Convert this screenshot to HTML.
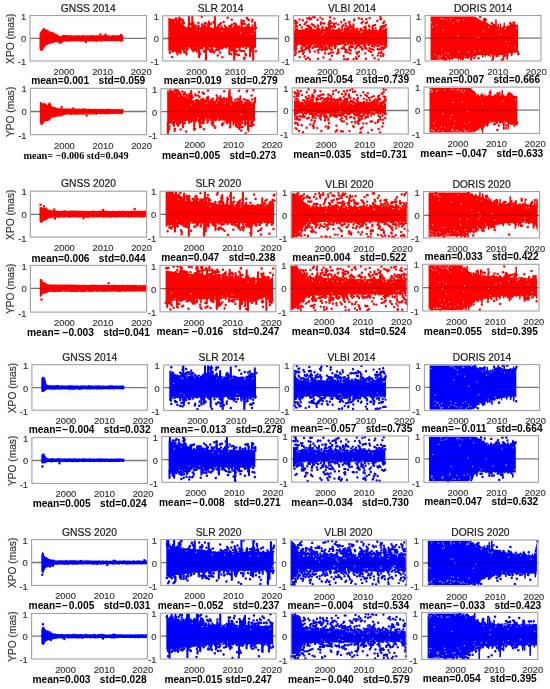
<!DOCTYPE html>
<html><head><meta charset="utf-8"><style>
html,body{margin:0;padding:0;background:#fff;width:550px;height:689px;overflow:hidden}
svg{display:block;filter:blur(0.3px)}
.tk{font-family:"Liberation Sans",Arial,sans-serif;font-size:9.4px;fill:#333;stroke:#333;stroke-width:.15px}
.ti{font-family:"Liberation Sans",Arial,sans-serif;font-size:10.3px;fill:#1a1a1a;stroke:#1a1a1a;stroke-width:.2px}
.yl{font-family:"Liberation Sans",Arial,sans-serif;font-size:10.2px;fill:#333;stroke:#333;stroke-width:.15px}
.st{font-family:"Liberation Sans",Arial,sans-serif;font-size:10.2px;font-weight:bold;fill:#000}
.ms{font-family:"Liberation Serif","Times New Roman",serif;font-size:10.2px;font-weight:bold;fill:#000}
</style></head><body>
<svg width="550" height="689" viewBox="0 0 550 689">
<rect width="550" height="689" fill="#fff"/>
<path stroke="#777" stroke-width="1.3" d="M30 38.3H146.5"/>
<path fill="#ff0000" d="M39.5 33.4 40.5 32 41.5 30.4 42.5 29.3 43.5 27.6 44.5 28.5 45.5 28.9 46.5 29.9 47.5 29.5 48.5 30.6 49.5 31.3 50.5 31.6 51.5 32 52.5 32.2 53.5 32.3 54.5 33 55.5 33.5 56.5 34.3 57.5 34 58.5 35.4 59.5 36 60.5 36.3 61.5 35.9 62.5 35.3 63.5 34.7 64.5 35.1 65.5 35 66.5 35 67.5 35 68.5 35.4 69.5 35.2 70.5 34.9 71.5 35.3 72.5 35.5 73.5 35.5 74.5 35.2 75.5 35.4 76.5 35.3 77.5 35.3 78.5 35.5 79.5 35 80.5 35.4 81.5 35.5 82.5 35.3 83.5 34.7 84.5 35.5 85.5 35.6 86.5 35.6 87.5 35.2 88.5 35.6 89.5 35.3 90.5 35.2 91.5 35 92.5 35.5 93.5 35.1 94.5 35.6 95.5 35.5 96.5 35.3 97.5 35.2 98.5 35.5 99.5 34.7 100.5 35.6 101.5 35.6 102.5 35.4 103.5 35.3 104.5 34.6 105.5 32.7 106.5 34.6 107.5 35.4 108.5 35.3 109.5 35.5 110.5 35.5 111.5 35.5 112.5 35.2 113.5 35.1 114.5 35.5 115.5 35.6 116.5 34.9 117.5 35.4 118.5 35.2 119.5 35.1 120.5 35.1 121.5 35.3 122.5 35.6 123.3 35.7 123.3 41.4 122.5 41.7 121.5 41.1 120.5 42.2 119.5 41 118.5 41 117.5 41.8 116.5 41.1 115.5 41.1 114.5 41.4 113.5 41.1 112.5 41.6 111.5 41.1 110.5 41.4 109.5 41.1 108.5 41.1 107.5 41.2 106.5 41.3 105.5 41.3 104.5 41.2 103.5 41.6 102.5 41.3 101.5 41.8 100.5 41.6 99.5 41.3 98.5 41.2 97.5 41.4 96.5 41.9 95.5 41.9 94.5 41.3 93.5 41.5 92.5 41.3 91.5 41.4 90.5 41.2 89.5 41.4 88.5 41.6 87.5 41.3 86.5 41.2 85.5 41.4 84.5 41.4 83.5 41.7 82.5 41.5 81.5 41.4 80.5 41.8 79.5 41.2 78.5 41.4 77.5 41.3 76.5 41.5 75.5 41.6 74.5 41.2 73.5 41.3 72.5 41.3 71.5 41.4 70.5 41.4 69.5 41.5 68.5 41.7 67.5 41.7 66.5 41.6 65.5 41.8 64.5 41.6 63.5 41.8 62.5 42.4 61.5 43.3 60.5 44 59.5 43.6 58.5 42.9 57.5 42 56.5 42.2 55.5 42.3 54.5 42.5 53.5 42.9 52.5 43 51.5 43.5 50.5 43.5 49.5 43.9 48.5 44.5 47.5 44.7 46.5 45.2 45.5 46.1 44.5 47.6 43.5 49.6 42.5 50.4 41.5 50.9 40.5 50.7 39.5 49.2Z"/>
<path fill="none" stroke="#ff0000" stroke-width="2.5" stroke-linecap="round" d="M85.9 42.1h0M100.4 34.4h0M121.2 35.1h0"/>
<path stroke="#000" stroke-opacity="0.1" stroke-width="1.4" d="M38.5 38.3H124.3"/>
<rect x="30" y="15.5" width="116.5" height="45.5" fill="none" stroke="#a0a0a0" stroke-width="1.1"/>
<text x="26.2" y="19.6" class="tk" text-anchor="end">1</text>
<text x="26.2" y="42.2" class="tk" text-anchor="end">0</text>
<text x="26.2" y="65.4" class="tk" text-anchor="end">-1</text>
<text x="64" y="74.8" class="tk" text-anchor="middle">2000</text>
<text x="102.6" y="74.8" class="tk" text-anchor="middle">2010</text>
<text x="141.2" y="74.8" class="tk" text-anchor="middle">2020</text>
<text x="88.2" y="84.2" class="st" text-anchor="middle" xml:space="preserve">mean=0.001    std=0.059</text>
<text x="88.2" y="11.7" class="ti" text-anchor="middle">GNSS 2014</text>
<text transform="translate(14 38.7) rotate(-90)" class="yl" text-anchor="middle">XPO (mas)</text>
<path stroke="#777" stroke-width="1.3" d="M162.7 38.5H278.6"/>
<path fill="#ff0000" d="M168.3 17.3 169.3 18.5 170.3 18.1 171.3 18.9 172.3 18.9 173.3 18.4 174.3 19.2 175.3 19 176.3 18.8 177.3 19.3 178.3 20.3 179.3 21.6 180.3 20.9 181.3 23 182.3 22.3 183.3 24.5 184.3 25.6 185.3 26.5 186.3 27.4 187.3 26.8 188.3 26.9 189.3 26.8 190.3 27.4 191.3 27.3 192.3 26.4 193.3 27.1 194.3 27.2 195.3 27.2 196.3 27 197.3 27.3 198.3 26.2 199.3 26.8 200.3 27.6 201.3 26.7 202.3 26.9 203.3 27.2 204.3 27.1 205.3 27.1 206.3 26.9 207.3 27.6 208.3 25.8 209.3 25.8 210.3 26.9 211.3 27.5 212.3 27.9 213.3 27.3 214.3 27.8 215.3 27.9 216.3 26.9 217.3 25.1 218.3 27.8 219.3 27.4 220.3 27.4 221.3 27.9 222.3 26.9 223.3 27.9 224.3 27.7 225.3 27.6 226.3 27.7 227.3 26.9 228.3 27.9 229.3 28 230.3 27.6 231.3 27 232.3 27.6 233.3 26.1 234.3 27.1 235.3 26.4 236.3 28.2 237.3 26.8 238.3 28 239.3 27.8 240.3 28.2 241.3 27 242.3 27.1 243.3 26.9 244.3 27 245.3 28.1 246.3 27.9 247.3 27.3 248.3 27.3 249.3 27.7 250.3 28.2 251.3 28.4 252.3 27.9 253.3 28.2 254.3 28 255.3 28.4 256 27.8 256 47.3 255.3 48.2 254.3 48.1 253.3 47.3 252.3 48.1 251.3 47.8 250.3 47.8 249.3 47.7 248.3 47.3 247.3 47.5 246.3 47.6 245.3 47.2 244.3 47.3 243.3 48.1 242.3 47.8 241.3 47.1 240.3 48 239.3 47.6 238.3 48 237.3 47.9 236.3 47.8 235.3 48 234.3 47.4 233.3 47.9 232.3 47.3 231.3 48.2 230.3 48.1 229.3 47.6 228.3 47.5 227.3 47.1 226.3 48.9 225.3 48.6 224.3 47.3 223.3 48.9 222.3 47.2 221.3 48 220.3 48 219.3 48.3 218.3 47 217.3 47.3 216.3 47.3 215.3 47.1 214.3 47.7 213.3 47 212.3 48.8 211.3 47.4 210.3 48.6 209.3 47.2 208.3 47.3 207.3 47.6 206.3 47.3 205.3 47.9 204.3 47.1 203.3 48.1 202.3 47.6 201.3 47.9 200.3 47.8 199.3 47.4 198.3 47.3 197.3 47.9 196.3 47.7 195.3 47.4 194.3 48.1 193.3 47.6 192.3 47.2 191.3 49.1 190.3 47.1 189.3 47.5 188.3 47.5 187.3 48.3 186.3 47.2 185.3 47.5 184.3 47.8 183.3 48.1 182.3 47.9 181.3 47.9 180.3 48.7 179.3 48.4 178.3 49.1 177.3 49.2 176.3 49.4 175.3 50.5 174.3 49.9 173.3 49.9 172.3 50.7 171.3 51.3 170.3 50.1 169.3 50.7 168.3 50.7Z"/>
<path fill="none" stroke="#fff" stroke-opacity=".6" stroke-width="1.5" stroke-linecap="round" d="M175.6 21.9h0M178.2 48.2h0M181 22.8h0M181.2 23h0M196.1 29h0M199.7 30.8h0M200.1 45.9h0M218.6 46.6h0M222.1 30.9h0M231.7 47.9h0M240.8 32.7h0M244.6 46.9h0M251.9 34.1h0M253.6 46.9h0M254.8 30.7h0"/>
<path fill="none" stroke="#ff0000" stroke-width="2.1" stroke-linecap="round" d="M177.4 48.2V54.5M179.4 22.6V18.9M179.4 47.4V51M180.6 47.7V53.3M182.6 23.3V19.6M184.1 47.1V51.5M186.5 46.2V50.2M188.9 27.9V16.8M192.3 28.3V16.8M193.3 28.1V23.2M193.3 46.6V51.5M195.5 28.2V25.2M196.7 46.7V51.8M199 46.3V57.2M201 46.8V48.5M204.1 28.2V25.2M206 46.9V60M207.6 28.6V25.9M208.7 26.8V21.6M214.9 28.8V16.8M217.6 46.3V49.6M218.8 28.8V27M221.6 28.9V26.6M230.1 29V25.6M229.4 46.6V54M231.6 47.2V49M234.2 46.9V60M241.5 28V20.1M250 46.7V56.3M251.7 46.8V49.6M252.5 28.9V25.3M253.2 47.1V60M255.1 29V22.5"/>
<path fill="none" stroke="#ff0000" stroke-width="2.5" stroke-linecap="round" d="M170.2 52.1h0M169.9 52.8h0M172.2 57.1h0M172.8 51.2h0M174.3 50.4h0M176 18.6h0M175.9 18.7h0M176.1 50.8h0M176.8 50.1h0M177 50.2h0M176.9 51.1h0M177.5 49.3h0M177.7 51.9h0M179 20.1h0M178.8 18.6h0M179.2 52h0M179.5 19.8h0M179.4 17.8h0M179.4 51.5h0M181 19.5h0M183.2 21.4h0M182.8 48.5h0M182.4 48.5h0M184 23h0M183.6 49.9h0M184.4 52.2h0M186.2 52.2h0M186.7 54.2h0M187.7 48.8h0M188.8 24.9h0M190.2 23.7h0M190.7 47.5h0M191.7 24.8h0M192.1 49.5h0M193 22.7h0M193.9 49.9h0M194.7 49.1h0M195.3 26.2h0M195.5 49.7h0M196.7 48.9h0M198.4 26.1h0M198.5 23.1h0M198.8 47.8h0M199.2 51.6h0M199.2 55.8h0M199.7 47.7h0M200.3 53.7h0M202.1 24.5h0M201.8 16.8h0M202.3 26.3h0M202.6 26.6h0M202.4 48.4h0M203.9 51.4h0M204.9 26h0M204.9 23.3h0M205 50.4h0M206.1 23.4h0M206.6 49.2h0M207.6 47.9h0M207.9 48.5h0M208.5 25h0M209.1 23.1h0M209.9 50h0M209.8 51.1h0M210.9 24.1h0M211 51.7h0M211.5 49.3h0M211.5 51.7h0M212.7 49.4h0M213.9 22.9h0M213.4 22.2h0M213.4 51.4h0M214.2 52.4h0M215 25.7h0M214.3 51.7h0M216.3 47.2h0M216 50.1h0M217.8 55.6h0M219 25h0M219 47.4h0M218.6 50.1h0M220.1 24.6h0M220 52.5h0M220.8 23.2h0M220.5 48.2h0M222.5 47.7h0M222.4 57.3h0M223.7 21.9h0M224.7 25.8h0M226.2 27.5h0M227.7 17.8h0M229.2 26.5h0M230.7 25.9h0M231.2 54.3h0M231.9 24.7h0M231.8 19.7h0M231.3 50.2h0M232.3 48.7h0M233.2 49.9h0M234.2 23.5h0M233.4 50.4h0M234.8 26.2h0M235 27h0M235.1 48.8h0M235.2 54h0M235.9 24.2h0M235.7 51.4h0M236.5 27.6h0M236.3 26.6h0M236.4 26h0M236.8 51.1h0M237 54.6h0M238.8 27.2h0M238.8 26.6h0M239 55.1h0M239.6 27.4h0M239.6 47.6h0M239.5 49.1h0M239.8 50.6h0M242.2 24.5h0M241.7 51.1h0M242.7 23.2h0M243.8 21.1h0M244 50.9h0M244.8 24.1h0M244.7 23.8h0M244.3 57.8h0M244.3 59h0M245.9 27.6h0M245.9 48.3h0M245.4 53.8h0M245.9 55.2h0M246.8 18.1h0M247.5 26.5h0M247.4 25.6h0M248.1 19.5h0M249 27.2h0M248.8 24.4h0M248.9 20.2h0M250.8 28h0M250.5 52.3h0M252.3 21.5h0M252.4 19.7h0M252.6 48.6h0M253 50.9h0M253.7 47.3h0M256.1 27.8h0M256 51.3h0"/>
<path stroke="#000" stroke-opacity="0.22" stroke-width="1.4" d="M167.3 38.5H257"/>
<rect x="162.7" y="15.8" width="115.9" height="45.2" fill="none" stroke="#a0a0a0" stroke-width="1.1"/>
<text x="158.9" y="19.9" class="tk" text-anchor="end">1</text>
<text x="158.9" y="42.4" class="tk" text-anchor="end">0</text>
<text x="158.9" y="65.4" class="tk" text-anchor="end">-1</text>
<text x="196.7" y="74.8" class="tk" text-anchor="middle">2000</text>
<text x="235.3" y="74.8" class="tk" text-anchor="middle">2010</text>
<text x="273.9" y="74.8" class="tk" text-anchor="middle">2020</text>
<text x="220.7" y="83.6" class="st" text-anchor="middle" xml:space="preserve">mean=0.019    std=0.279</text>
<text x="220.7" y="12" class="ti" text-anchor="middle">SLR 2014</text>
<path stroke="#777" stroke-width="1.3" d="M293.6 38.2H410.4"/>
<path fill="#ff0000" d="M294 26.1 295 26.2 296 27.5 297 28.2 298 29.3 299 29.5 300 29.9 301 29.5 302 29.4 303 29 304 29.6 305 29.5 306 28.6 307 30.2 308 28.6 309 29.3 310 29.6 311 30.1 312 29.5 313 28.8 314 28.7 315 29.3 316 29.7 317 29.9 318 30.3 319 29.5 320 29.5 321 30.3 322 30 323 29 324 29.4 325 29.9 326 29.8 327 29.7 328 30 329 28.6 330 29 331 29.8 332 29.3 333 28.7 334 29.1 335 30.1 336 29.2 337 29.4 338 30 339 29.7 340 29.9 341 29.1 342 29.3 343 29.4 344 30.2 345 26.9 346 29.9 347 30.3 348 29.5 349 29.2 350 29.6 351 27.9 352 29.4 353 30.1 354 29.4 355 29.1 356 30.4 357 30.1 358 29.7 359 30.5 360 30.3 361 29.6 362 29.1 363 30.5 364 30.5 365 29.3 366 30.2 367 30.1 368 30.3 369 30.3 370 30.3 371 30.1 372 29.9 373 28.5 374 29.4 375 29.4 376 29.7 377 30.1 378 29.9 379 30.3 380 29.7 381 29.7 382 30.3 383 29.5 384 28.5 385 29.5 386 29.3 387 30.3 387 44.5 386 45.5 385 44.7 384 44.5 383 46.2 382 45.8 381 45.7 380 44.3 379 44.6 378 44.2 377 44.3 376 46.1 375 45.5 374 44.5 373 46.3 372 45 371 44.3 370 45.1 369 44.8 368 44.6 367 44.4 366 44.9 365 44.4 364 44.8 363 44.3 362 45.1 361 44.4 360 45.1 359 45 358 44.7 357 44.8 356 45.7 355 45.1 354 44.4 353 44.9 352 44.3 351 44.3 350 44.2 349 45.6 348 44.7 347 45.5 346 44.8 345 44.3 344 44.6 343 44.5 342 44.6 341 44.8 340 44.7 339 45.5 338 44.9 337 45.4 336 44.9 335 45.5 334 45.2 333 46.2 332 45.3 331 46.1 330 45.4 329 45.2 328 44.7 327 46 326 44.3 325 46.5 324 44.5 323 44.8 322 45.1 321 44.9 320 45.1 319 44.8 318 45.3 317 45.4 316 44.4 315 45.3 314 44.8 313 44.3 312 45.8 311 44.7 310 45 309 44.6 308 44.3 307 46.1 306 44.8 305 45.7 304 45.9 303 45.8 302 44.3 301 45.4 300 45.2 299 44.3 298 45.5 297 46.4 296 47.3 295 49.2 294 49.7Z"/>
<path fill="none" stroke="#fff" stroke-opacity=".6" stroke-width="1.5" stroke-linecap="round" d="M294.9 28h0M294.5 29.4h0M322.6 33.9h0M322.9 44.7h0M324.6 32h0M331.1 45.5h0M342.8 31.1h0M342.1 31.6h0M346.4 43.2h0M349.4 44.6h0M353.6 42.4h0M356.2 44.4h0M360.4 32.5h0M362.1 31.8h0M366 43.5h0M377.9 31.3h0M383.3 44.5h0M386.2 45.2h0"/>
<path fill="none" stroke="#ff0000" stroke-width="2.4" stroke-linecap="round" d="M294.1 21h0M294.6 50.1h0M294.7 50.6h0M294.8 55h0M296 25.8h0M295.2 23.4h0M295.6 20.7h0M295.1 49.4h0M295.9 52.3h0M295.7 54h0M296.6 23.1h0M296.3 48.2h0M296.1 49.4h0M297.1 26.5h0M297.2 22.4h0M299.6 19.6h0M299 51.8h0M299.7 57.1h0M300.1 24.9h0M301.9 27.4h0M301.3 48.1h0M301.9 49.2h0M301.1 50.9h0M302.8 20.3h0M302.1 44.5h0M302.4 45.5h0M302.6 47.1h0M302.2 51h0M302.9 50.4h0M303.9 52h0M303.1 53.7h0M304.6 24.3h0M304.5 56.2h0M305.9 28.9h0M305.2 23.4h0M305.1 46.3h0M305.9 49h0M305.1 49.6h0M305.9 58.8h0M306.6 21.9h0M306.6 47.7h0M306.1 48h0M307.6 29.1h0M307.2 25.8h0M307.3 18.5h0M307.9 47.8h0M308.8 25.9h0M308.9 44.9h0M308.1 46.3h0M309 48.4h0M308.1 57.7h0M308.2 57.9h0M309.1 27.6h0M309.5 26.5h0M309.1 26.3h0M309.6 19.3h0M309.4 17.7h0M310 46.1h0M309 46.6h0M309.3 46.7h0M309.5 50.3h0M309.9 52h0M310.8 27.6h0M310.9 28.2h0M310.7 45.4h0M310 47.1h0M310 59.7h0M311.3 29.3h0M311.1 27.9h0M311.8 24.3h0M311.1 18.7h0M312.7 24.9h0M312.6 48h0M313.8 25.4h0M313.2 17.1h0M313 47.7h0M314.7 17.2h0M314.4 46.2h0M314.7 51.4h0M315.1 26.9h0M315.9 46.9h0M316.7 29.7h0M316.9 44.9h0M317.6 28.6h0M317.4 28.1h0M317.9 25.5h0M317.6 19.8h0M317.7 45.5h0M317.3 46.2h0M317.8 50.3h0M318 58.7h0M318.1 29.9h0M318.8 29.2h0M318.3 26.3h0M318.4 46.2h0M318.4 52.4h0M319.8 46.2h0M319.5 47.5h0M319.7 49.2h0M320.8 24.3h0M320.3 17.6h0M320.3 45.7h0M320.5 47.2h0M321.6 29.3h0M321.4 23.4h0M321.1 22.5h0M321.2 47.4h0M322.8 29.3h0M322.6 27h0M322.6 19.3h0M322 45.8h0M322.9 48.9h0M322.1 50h0M323.8 23.2h0M323.2 47.7h0M323 47.8h0M323.5 57.5h0M324.5 23.6h0M324.2 44.7h0M324.2 45h0M324 48.4h0M325.5 29.5h0M325.8 27.6h0M325.5 46.7h0M325.9 49.1h0M325.2 50h0M325 53.2h0M326.6 46.9h0M326.2 47.4h0M327.1 29.1h0M327.2 49.3h0M328.5 28.6h0M328.2 27.6h0M328.9 25.6h0M328.5 24.6h0M328.9 22.4h0M328.6 53.7h0M330 27.7h0M329.6 23.7h0M329.1 45.7h0M329.2 47.8h0M329.3 53.5h0M330.2 28.4h0M330.1 20.7h0M330.1 17.3h0M330.6 45.6h0M330.1 48.5h0M330.1 59.7h0M331.1 25.9h0M331.6 22.9h0M331.9 46.1h0M331.7 49.4h0M331.8 49.9h0M331.1 52.5h0M331.9 55.7h0M332.4 27.2h0M333.1 52.6h0M334.9 27h0M334 25.3h0M334.1 23.7h0M334.3 18.6h0M335 46.3h0M336 23.5h0M335.5 46.2h0M335.8 46.6h0M335 48.2h0M337.1 53.6h0M338.3 29.6h0M338.4 24.6h0M338.2 49.4h0M338.1 50.9h0M338.6 52.8h0M339 28.6h0M341.9 26.8h0M341.3 22.3h0M341.5 48.4h0M342.1 29.1h0M343.4 25.2h0M343.6 46.7h0M343.4 47.9h0M343.7 56h0M345 28.8h0M344.2 20h0M345 45h0M344.1 48.2h0M344.2 59.1h0M345.9 26h0M345.6 23.5h0M345.3 49.4h0M345.4 52h0M346 51.8h0M346.3 29.3h0M346.5 50h0M346.1 50.6h0M346.1 51.9h0M346.5 59.7h0M347.9 28.1h0M348 29.3h0M348.4 26.9h0M348.9 22.5h0M348.3 52.6h0M348 58.9h0M349.6 28h0M349.6 22h0M349.3 47.5h0M349.1 49.6h0M351 26.5h0M350.2 26.5h0M350.1 24.8h0M350.5 45.7h0M350.8 50.5h0M350.4 53.6h0M351.4 26.4h0M351.5 45.6h0M351.5 47.2h0M352.4 28.5h0M352.4 27.8h0M352.5 27.1h0M352.8 26.9h0M353.3 29.1h0M353.5 26.5h0M353.2 26.4h0M353.6 24.5h0M353 46.8h0M353.6 59.3h0M354.3 28.9h0M354.3 19.4h0M354.2 20.3h0M355.1 48.6h0M356.4 29.6h0M356.9 45.8h0M356.2 47.3h0M356.4 52.1h0M356.9 53.8h0M356 57.4h0M356.5 58.6h0M356.9 58.9h0M357.4 28.8h0M357.4 53.2h0M357.2 53.7h0M358.8 18.2h0M358.6 44.9h0M359 51.8h0M358.9 56.3h0M359.3 45.5h0M360.8 28.7h0M360.5 29h0M360.5 47.4h0M361.6 29.4h0M361.5 23.2h0M361.7 19h0M361.3 47h0M362.9 21.6h0M362.1 48.8h0M362.5 49.8h0M364.3 30.4h0M364.5 27.6h0M364.1 27.5h0M364.2 45.7h0M364 45.1h0M364.7 47.8h0M365.7 29h0M365.6 26.7h0M365.8 23.2h0M365.1 45.2h0M365.5 47.4h0M365.3 53.4h0M366 29.5h0M366.5 22.6h0M366.4 19.2h0M366.3 48.7h0M366 58.8h0M367 22.5h0M368.9 25.6h0M368.7 44.9h0M368.6 50.6h0M369.4 30.1h0M369.1 29.7h0M369.6 26.6h0M369.6 18.1h0M369.6 48.3h0M369.9 51.1h0M371.9 46h0M371.7 48.9h0M371.2 51.9h0M372.7 29.3h0M372.5 28.9h0M372.4 27.5h0M372.6 55.3h0M373.1 25.8h0M373.5 49.9h0M374.8 44.8h0M374.1 46.5h0M374.6 58.3h0M375.6 28.4h0M375.1 25h0M377.3 20.9h0M377.3 45.8h0M377.8 49.2h0M377.9 55.4h0M378.1 45.8h0M378.6 49.2h0M378.8 52.9h0M378.5 59.6h0M379.7 45h0M379.6 49.6h0M380.1 29.2h0M380.7 26.7h0M380.3 19.2h0M380.4 16.7h0M380.8 56h0M381.1 28.9h0M381.4 28.1h0M381.2 28.4h0M381.6 26.8h0M381.2 18.8h0M381.1 47.6h0M381.7 48.1h0M381.7 49.1h0M381.3 52h0M381.2 53h0M382.3 27.1h0M383 47.5h0M382.9 47.9h0M382.9 49.3h0M383.2 27.5h0M383.3 26h0M383.3 23h0M383.9 48.3h0M383.4 54.3h0M383.3 55.7h0M384.8 26.6h0M384.2 21.4h0M384.3 44.8h0M384.7 47.4h0M384.8 47.8h0M385.6 25.5h0M385.7 24.7h0M385.7 46.3h0M385.6 46.7h0M386.3 29.1h0M386.5 45.6h0"/>
<path stroke="#000" stroke-opacity="0.22" stroke-width="1.4" d="M293 38.2H388"/>
<rect x="293.6" y="15.6" width="116.8" height="45.4" fill="none" stroke="#a0a0a0" stroke-width="1.1"/>
<text x="289.8" y="19.7" class="tk" text-anchor="end">1</text>
<text x="289.8" y="42.1" class="tk" text-anchor="end">0</text>
<text x="289.8" y="65.4" class="tk" text-anchor="end">-1</text>
<text x="327.6" y="74.8" class="tk" text-anchor="middle">2000</text>
<text x="366.2" y="74.8" class="tk" text-anchor="middle">2010</text>
<text x="404.8" y="74.8" class="tk" text-anchor="middle">2020</text>
<text x="352" y="83.1" class="st" text-anchor="middle" xml:space="preserve">mean=0.054    std=0.739</text>
<text x="352" y="11.8" class="ti" text-anchor="middle">VLBI 2014</text>
<path stroke="#777" stroke-width="1.3" d="M425.1 38.2H541"/>
<path fill="#ff0000" d="M430.6 16.5 431.6 16.5 432.6 16.5 433.6 16.5 434.6 16.5 435.6 16.5 436.6 16.5 437.6 16.5 438.6 16.5 439.6 16.5 440.6 16.5 441.6 16.5 442.6 16.5 443.6 16.5 444.6 16.5 445.6 16.5 446.6 16.5 447.6 16.5 448.6 16.5 449.6 16.5 450.6 16.5 451.6 16.5 452.6 16.5 453.6 16.5 454.6 16.5 455.6 16.5 456.6 16.5 457.6 16.5 458.6 16.5 459.6 16.5 460.6 16.5 461.6 16.5 462.6 16.5 463.6 16.5 464.6 16.5 465.6 16.5 466.6 16.5 467.6 16.5 468.6 16.5 469.6 16.5 470.6 16.5 471.6 16.5 472.6 16.5 473.6 16.5 474.6 16.5 475.6 17.1 476.6 17.7 477.6 18.2 478.6 19.1 479.6 19.4 480.6 20.5 481.6 20.3 482.6 21.4 483.6 20.8 484.6 20.9 485.6 21.1 486.6 22.8 487.6 22.8 488.6 24.4 489.6 23.8 490.6 25.3 491.6 24.8 492.6 25.9 493.6 25.7 494.6 26 495.6 25.6 496.6 25.8 497.6 27.3 498.6 27.1 499.6 27.8 500.6 27.8 501.6 27.4 502.6 26.7 503.6 26.1 504.6 26.6 505.6 26.2 506.6 26.9 507.6 25 508.6 25.3 509.6 25.4 510.6 24.6 511.6 23.3 512.6 24 513.6 24.5 514.6 24.2 515.6 24 516.6 25.2 517.6 24.3 518 25 518 52.2 517.6 52.7 516.6 52.3 515.6 52.9 514.6 53.1 513.6 52.5 512.6 53.8 511.6 53.8 510.6 53.8 509.6 53.3 508.6 53.6 507.6 54 506.6 54.5 505.6 53.9 504.6 54.8 503.6 55.8 502.6 55.3 501.6 55 500.6 55.1 499.6 55.3 498.6 55 497.6 55.8 496.6 56.1 495.6 55.3 494.6 55.6 493.6 56.5 492.6 55.5 491.6 55.3 490.6 57.5 489.6 55.9 488.6 55.9 487.6 55.3 486.6 55.6 485.6 54.9 484.6 55.3 483.6 55.1 482.6 55.4 481.6 54.8 480.6 55.6 479.6 54.9 478.6 55.3 477.6 55 476.6 55.8 475.6 57.8 474.6 56 473.6 56.3 472.6 57.4 471.6 57.5 470.6 57.6 469.6 57.5 468.6 58.4 467.6 57.7 466.6 57.6 465.6 58.7 464.6 57.8 463.6 59.4 462.6 57.8 461.6 58 460.6 57.9 459.6 58.1 458.6 58.1 457.6 58.1 456.6 58.5 455.6 58.3 454.6 58.6 453.6 58.2 452.6 60 451.6 59.4 450.6 59.3 449.6 58.9 448.6 59.3 447.6 59.1 446.6 60 445.6 58.8 444.6 59 443.6 59.2 442.6 59.6 441.6 60 440.6 59.5 439.6 59.5 438.6 60 437.6 59.8 436.6 59.8 435.6 60 434.6 60 433.6 60 432.6 60 431.6 60 430.6 60Z"/>
<path fill="none" stroke="#fff" stroke-opacity=".6" stroke-width="1.5" stroke-linecap="round" d="M431.6 22.4h0M432.6 26.8h0M435 54.8h0M436.8 24.9h0M438.6 55.7h0M438.2 56.6h0M439.7 57.7h0M441.3 18.9h0M441.5 48.7h0M441.4 56.5h0M441.9 18.7h0M442.2 54.7h0M443.4 30.5h0M443.6 18.9h0M445.4 53.2h0M445.6 56.6h0M446.5 19.7h0M447 58.4h0M447.2 59h0M448.2 53.4h0M450.5 19.1h0M450.3 56.9h0M453.1 23.2h0M456.7 20.3h0M457.5 58.4h0M458.4 21.8h0M458.1 35.7h0M458.6 51.5h0M459.5 20.1h0M463.2 19.7h0M465 56.6h0M468.5 52.1h0M474.6 51.1h0M477 38.1h0M478.9 37.6h0M479.8 50.5h0M483.5 30.9h0M488.7 27.2h0M490.5 54.7h0M498.1 29.4h0M500.9 34.4h0M504.8 28.7h0M505.9 41.7h0M508 45.5h0M514.9 46.8h0M516.5 28h0M518.2 52h0"/>
<path fill="none" stroke="#ff0000" stroke-width="1.6" stroke-linecap="round" d="M444.2 58.2V60M445.8 57.8V60M449.7 57.9V60M458.1 57.1V59.2M460.2 57.1V58.8M460.9 56.9V60M462.8 56.8V60M471.2 56.6V60M482.8 54.4V57M485.4 54.3V56.1M492.8 26.9V24.4M496 26.6V20M496.3 54.3V56.6M498.3 28.3V24.8M500.4 28.8V24M503.5 54.3V60M504.3 27.1V23.4M504 54.8V56.3M507.2 53.5V59.1M511.7 52.8V55.5M514 25.5V23M518.4 51.7V54.6"/>
<path fill="none" stroke="#ff0000" stroke-width="2.5" stroke-linecap="round" d="M443.6 59.3h0M446.4 59.7h0M467.8 57.7h0M471.2 59.1h0M474.2 58h0M478.6 58.3h0M480.2 16.9h0M484.4 20.3h0M483.9 19.4h0M484.6 18.9h0M485.4 20.4h0M485.7 19.5h0M491.9 23h0M492.3 59.9h0M493.3 25.2h0M493.2 56.5h0M493.1 58.4h0M494.4 24.7h0M497.7 55.8h0M501.9 59.7h0M505.1 55.6h0M507.3 54.9h0M510.2 23.1h0M510.7 24.3h0M513.4 22.8h0M514.1 22.6h0M518.4 53.9h0"/>
<path stroke="#000" stroke-opacity="0.22" stroke-width="1.4" d="M429.6 38.2H519"/>
<rect x="425.1" y="15.5" width="115.9" height="45.5" fill="none" stroke="#a0a0a0" stroke-width="1.1"/>
<text x="421.3" y="19.6" class="tk" text-anchor="end">1</text>
<text x="421.3" y="42.1" class="tk" text-anchor="end">0</text>
<text x="421.3" y="65.4" class="tk" text-anchor="end">-1</text>
<text x="459.1" y="74.8" class="tk" text-anchor="middle">2000</text>
<text x="497.7" y="74.8" class="tk" text-anchor="middle">2010</text>
<text x="536.3" y="74.8" class="tk" text-anchor="middle">2020</text>
<text x="483.1" y="82.5" class="st" text-anchor="middle" xml:space="preserve">mean=0.007    std=0.666</text>
<text x="483.1" y="11.7" class="ti" text-anchor="middle">DORIS 2014</text>
<path stroke="#777" stroke-width="1.3" d="M30.4 111.5H146.6"/>
<path fill="#ff0000" d="M39.8 104.5 40.8 103.3 41.8 103.5 42.8 103.4 43.8 103 44.8 102.9 45.8 104 46.8 104.4 47.8 104.8 48.8 102.8 49.8 102.6 50.8 103.4 51.8 106.2 52.8 106.8 53.8 107 54.8 107.1 55.8 107.5 56.8 107.9 57.8 108.2 58.8 108.2 59.8 108.4 60.8 107.8 61.8 108.7 62.8 108.3 63.8 108.6 64.8 108.8 65.8 108.3 66.8 108.6 67.8 108.6 68.8 108.6 69.8 108.8 70.8 108.7 71.8 108.6 72.8 108.4 73.8 108.9 74.8 108.5 75.8 108.9 76.8 108.5 77.8 108.7 78.8 109 79.8 108.4 80.8 109 81.8 108.8 82.8 108.3 83.8 108.2 84.8 108.6 85.8 108.8 86.8 108.9 87.8 109 88.8 108.5 89.8 109.1 90.8 109.1 91.8 109.1 92.8 109 93.8 108.9 94.8 108.4 95.8 109.2 96.8 109.2 97.8 108.6 98.8 109 99.8 108.9 100.8 108.9 101.8 108.8 102.8 109.1 103.8 109 104.8 109.2 105.8 108.9 106.8 108.8 107.8 108.8 108.8 109 109.8 108.6 110.8 109.1 111.8 109.2 112.8 108.9 113.8 108.9 114.8 109.2 115.8 109 116.8 109.1 117.8 109.2 118.8 109 119.8 109.3 120.8 109.2 121.8 109.3 122.8 109 123.4 108.9 123.4 113.8 122.8 113.6 121.8 114.2 120.8 114.3 119.8 113.7 118.8 114.1 117.8 113.9 116.8 113.7 115.8 113.8 114.8 113.9 113.8 114.3 112.8 113.8 111.8 113.9 110.8 113.9 109.8 114.3 108.8 114 107.8 114.4 106.8 113.9 105.8 114.7 104.8 113.9 103.8 114 102.8 114.2 101.8 114.1 100.8 114.3 99.8 114.5 98.8 114 97.8 114.1 96.8 114.9 95.8 114.4 94.8 114.6 93.8 114.2 92.8 114.2 91.8 114.4 90.8 114.2 89.8 114.5 88.8 114.4 87.8 114.3 86.8 114.3 85.8 114.4 84.8 114.3 83.8 114.8 82.8 114.7 81.8 114.7 80.8 114.6 79.8 114.5 78.8 114.4 77.8 114.7 76.8 115 75.8 114.5 74.8 114.5 73.8 114.8 72.8 114.5 71.8 114.4 70.8 115.5 69.8 114.4 68.8 114.4 67.8 114.5 66.8 114.6 65.8 114.8 64.8 114.7 63.8 114.9 62.8 115.7 61.8 116.6 60.8 116.2 59.8 116.4 58.8 116.5 57.8 116.4 56.8 116.8 55.8 116.7 54.8 117.4 53.8 117.6 52.8 117.4 51.8 117.6 50.8 118.4 49.8 120.7 48.8 120.5 47.8 120.9 46.8 121.4 45.8 121 44.8 121.7 43.8 122.6 42.8 124.4 41.8 125.5 40.8 124.3 39.8 123.2Z"/>
<path fill="none" stroke="#ff0000" stroke-width="2.5" stroke-linecap="round" d="M40.9 103.2h0M61.7 107.2h0M73.3 108.4h0M86.7 115.4h0"/>
<path stroke="#000" stroke-opacity="0.1" stroke-width="1.4" d="M38.8 111.5H124.4"/>
<rect x="30.4" y="88.3" width="116.2" height="46.4" fill="none" stroke="#a0a0a0" stroke-width="1.1"/>
<text x="26.6" y="92.4" class="tk" text-anchor="end">1</text>
<text x="26.6" y="115.4" class="tk" text-anchor="end">0</text>
<text x="26.6" y="139.1" class="tk" text-anchor="end">-1</text>
<text x="64.4" y="148.5" class="tk" text-anchor="middle">2000</text>
<text x="103" y="148.5" class="tk" text-anchor="middle">2010</text>
<text x="141.6" y="148.5" class="tk" text-anchor="middle">2020</text>
<text x="23.4" y="159.3" class="ms">mean= −0.006 std=0.049</text>
<text transform="translate(14 111.9) rotate(-90)" class="yl" text-anchor="middle">YPO (mas)</text>
<path stroke="#777" stroke-width="1.3" d="M160.9 111.6H277.4"/>
<path fill="#ff0000" d="M167.2 90.2 168.2 89.7 169.2 90.7 170.2 90.6 171.2 90.8 172.2 90.7 173.2 90 174.2 91 175.2 91.8 176.2 91.2 177.2 92 178.2 91.7 179.2 91.2 180.2 91.8 181.2 93.2 182.2 94.3 183.2 94.6 184.2 94.8 185.2 95.8 186.2 97.3 187.2 97.4 188.2 97.4 189.2 99 190.2 99.6 191.2 100 192.2 99.9 193.2 100.4 194.2 99.9 195.2 100.3 196.2 98.5 197.2 100.2 198.2 99.3 199.2 99.9 200.2 100.5 201.2 100.5 202.2 100.2 203.2 100.5 204.2 100.8 205.2 99.6 206.2 100.7 207.2 100.9 208.2 99.7 209.2 100.3 210.2 100.5 211.2 100 212.2 99.8 213.2 99.9 214.2 100.7 215.2 100.9 216.2 99.7 217.2 100.3 218.2 100.8 219.2 100.7 220.2 100.7 221.2 99.3 222.2 101.1 223.2 101.2 224.2 101.1 225.2 101.4 226.2 100.9 227.2 100.7 228.2 100.1 229.2 100.7 230.2 101.4 231.2 101.3 232.2 100.6 233.2 101.4 234.2 101.6 235.2 101.6 236.2 101.4 237.2 100.8 238.2 100.8 239.2 101.5 240.2 101.6 241.2 101.8 242.2 100.2 243.2 101.5 244.2 101.4 245.2 101 246.2 101.9 247.2 101.1 248.2 101.3 249.2 101.2 250.2 101 251.2 101.5 252.2 102 253.2 101.6 254.2 101.6 255 101.6 255 120.2 254.2 121.5 253.2 120.9 252.2 120.6 251.2 120.1 250.2 121.3 249.2 120.7 248.2 121.4 247.2 120.9 246.2 120.2 245.2 121.4 244.2 120.2 243.2 120.6 242.2 121.8 241.2 120.2 240.2 120.1 239.2 120.2 238.2 120.4 237.2 120.8 236.2 120.5 235.2 120.4 234.2 120.7 233.2 121 232.2 121 231.2 121 230.2 120.3 229.2 120.3 228.2 120.8 227.2 121.2 226.2 120.2 225.2 120.5 224.2 120.5 223.2 120.7 222.2 120.4 221.2 120.6 220.2 120.4 219.2 121.2 218.2 120.6 217.2 120.2 216.2 121.3 215.2 121.5 214.2 120.7 213.2 120.3 212.2 120.2 211.2 120.3 210.2 120.9 209.2 120.5 208.2 120.9 207.2 120.3 206.2 120.5 205.2 120.4 204.2 120.3 203.2 120.8 202.2 120.3 201.2 120.4 200.2 120.3 199.2 120.4 198.2 121.2 197.2 120.8 196.2 121.5 195.2 121 194.2 120.3 193.2 121.1 192.2 120.9 191.2 120.4 190.2 120.7 189.2 120.3 188.2 120.7 187.2 120.8 186.2 121.1 185.2 122 184.2 121.3 183.2 122.4 182.2 123.3 181.2 122.5 180.2 121.8 179.2 122.2 178.2 122.7 177.2 122.5 176.2 122.9 175.2 122.6 174.2 124.2 173.2 123.8 172.2 123 171.2 123.3 170.2 123.7 169.2 123.7 168.2 123.9 167.2 123.7Z"/>
<path fill="none" stroke="#fff" stroke-opacity=".6" stroke-width="1.5" stroke-linecap="round" d="M168.3 91.2h0M173.4 120.5h0M174.8 92.3h0M178.6 96.1h0M182 95.2h0M183.8 96.2h0M188.4 98.6h0M191.4 104.8h0M194.6 101.9h0M197.8 118.4h0M206.1 118.9h0M206.8 103.2h0M209.3 119.5h0M216.6 103h0M217.8 119h0M225.3 103.3h0M230.9 104.1h0M241 114.6h0M243.1 102.2h0M243.7 103.3h0M252 102.9h0"/>
<path fill="none" stroke="#ff0000" stroke-width="2.1" stroke-linecap="round" d="M167.9 122.7V133.5M170.3 91.6V90M174 122.8V125.9M177 92.2V89.7M182.9 122.3V127.4M189.2 119.7V123M189.2 100V94M191.2 101V91M194.2 119.3V130M199.9 119.4V127.5M201.5 101.5V99.4M203.5 119.8V123.6M208.2 101.9V96.6M212.7 119.2V120.8M216.7 100.7V99.1M220.4 101.7V96.1M227.3 101.7V99.5M227.4 120.2V123.2M229.1 101.1V92.5M229.6 101.7V89.7M230.3 119.3V127.2M233.5 120V124.6M236 119.4V126.4M239.3 119.2V129.1M240.4 102.6V96.3M240.7 119.1V121.6M245.2 119.2V125.2M248.1 119.9V129.2M248.4 120.4V130.9M252.1 119.1V125.6M255.1 102.6V97.8"/>
<path fill="none" stroke="#ff0000" stroke-width="2.5" stroke-linecap="round" d="M167.9 124.1h0M168.1 131.3h0M169.2 128.9h0M169.5 126.5h0M173 123.4h0M175 90.5h0M174.9 128.7h0M174.6 130.8h0M175.9 90.8h0M175.4 90h0M177 123.9h0M177.3 90.5h0M177.6 90.3h0M178.7 91.5h0M178.8 123.4h0M178.3 125.7h0M180 123h0M179.2 122.8h0M180.6 129.5h0M182.3 91.5h0M184 93.7h0M183.3 123.1h0M184.6 92.4h0M184.7 123.2h0M186.1 94.4h0M186.2 131.6h0M187.3 96.3h0M190.8 98.4h0M191.1 121.4h0M191.8 95.7h0M192.2 120.6h0M192.8 97.6h0M195.2 94.5h0M194.8 129h0M195.7 95.5h0M195.3 121.5h0M197.4 100h0M198.1 95.6h0M198.9 92.2h0M199 121.5h0M199.5 97.1h0M199.6 120.8h0M201.1 100.4h0M200.3 122.6h0M201 126.9h0M201.8 122.8h0M201.7 122.9h0M203.1 98.9h0M202.7 92.8h0M203.2 120.7h0M203.4 100.5h0M204.1 93.7h0M204 129.3h0M205.1 100.4h0M206.9 100.1h0M206.9 98h0M207.5 97.5h0M208 90.5h0M207.9 120.6h0M207.5 122.6h0M211.4 99.8h0M211.4 99.9h0M211.8 123.1h0M213 98.8h0M212.9 120.9h0M212.3 120.3h0M213.1 122.8h0M212.4 125h0M214.1 125.7h0M215.2 127.8h0M216.7 95.6h0M217.5 97.5h0M218.4 98.5h0M220.1 99.4h0M220.6 99.1h0M221.7 98.9h0M222.7 100.8h0M222.3 124h0M222.2 125.2h0M224 99.9h0M224 97.9h0M224.2 91.3h0M223.5 123.5h0M225.1 100.2h0M225.5 100.3h0M225.5 121.2h0M226.9 99.8h0M226.8 98.4h0M227.2 122.7h0M227.9 121.8h0M228.4 121.2h0M228.3 121.1h0M229.7 100.1h0M229.6 99.8h0M229.9 127.3h0M231.1 99.9h0M230.7 97.2h0M230.3 121.5h0M231.4 98.9h0M231.2 98.1h0M234 121.6h0M234.8 121.4h0M235.4 100.1h0M235.5 120.6h0M235.7 121.8h0M236.8 121.2h0M237.7 99.1h0M237.9 121.2h0M237.5 121.4h0M238 123.9h0M237.9 127.1h0M238.8 99.7h0M238.2 98.9h0M239.1 90.8h0M238.4 120.7h0M239.3 121.2h0M241.1 101.4h0M240.7 120.4h0M240.5 124.7h0M240.7 127.1h0M241.3 130.5h0M242.5 123h0M242.3 123.1h0M242.6 127h0M244 99.3h0M245.8 133.5h0M246.3 100.3h0M246.9 91.5h0M247.2 90.7h0M246.9 123h0M248.3 100.5h0M248.3 121.5h0M248.8 125.1h0M248.3 124.5h0M251.1 122.9h0M250.9 126h0M251.6 95.4h0M252.2 99.5h0M252.5 121.6h0M253.3 90.1h0M253.5 124.8h0"/>
<path stroke="#000" stroke-opacity="0.22" stroke-width="1.4" d="M166.2 111.6H256"/>
<rect x="160.9" y="88.7" width="116.5" height="45.8" fill="none" stroke="#a0a0a0" stroke-width="1.1"/>
<text x="157.1" y="92.8" class="tk" text-anchor="end">1</text>
<text x="157.1" y="115.5" class="tk" text-anchor="end">0</text>
<text x="157.1" y="138.9" class="tk" text-anchor="end">-1</text>
<text x="194.9" y="148.3" class="tk" text-anchor="middle">2000</text>
<text x="233.5" y="148.3" class="tk" text-anchor="middle">2010</text>
<text x="272.1" y="148.3" class="tk" text-anchor="middle">2020</text>
<text x="219.1" y="158.7" class="st" text-anchor="middle" xml:space="preserve">mean=0.005    std=0.273</text>
<path stroke="#777" stroke-width="1.3" d="M292.2 110.5H408.3"/>
<path fill="#ff0000" d="M294 98.3 295 100.7 296 100.6 297 101.5 298 102.1 299 102.3 300 102.1 301 102.2 302 100.9 303 102.3 304 102.2 305 101.7 306 101.6 307 102.4 308 101.2 309 102.3 310 100.9 311 101.6 312 102.1 313 102.1 314 102.2 315 102.2 316 101.7 317 100.8 318 102 319 102.3 320 102.3 321 102.5 322 102.2 323 102.2 324 100.4 325 100.5 326 101.2 327 101.5 328 100.7 329 101.5 330 101.7 331 99.6 332 102.5 333 101.5 334 102.4 335 101.9 336 100.3 337 102.4 338 101.9 339 100.7 340 102.5 341 101.6 342 101.3 343 101.7 344 102.1 345 101.8 346 102 347 102.2 348 102.3 349 100.7 350 101.4 351 101.9 352 102.1 353 102.1 354 101.3 355 102.4 356 101.4 357 102.5 358 101.2 359 101.2 360 102.1 361 102 362 102.1 363 102.1 364 102 365 101.4 366 101.9 367 100.7 368 101.7 369 102.2 370 101.8 371 102.1 372 101.7 373 102 374 100.9 375 101.2 376 102.5 377 101.9 378 102.3 379 102 380 102 381 101.5 382 102 383 102.1 384 101.1 385 100.8 386 102.3 386 113.9 385 113.5 384 113.2 383 113.6 382 113.6 381 113.4 380 113.1 379 113 378 114.9 377 113.4 376 113.8 375 113.2 374 113.9 373 113.8 372 115.4 371 113.8 370 113.5 369 114.5 368 113.9 367 114.1 366 115 365 113.4 364 114.2 363 114.1 362 113.2 361 114 360 114.4 359 114.6 358 114.2 357 113.1 356 113.2 355 114.3 354 113.5 353 113.1 352 113.6 351 114.1 350 113.9 349 113.6 348 114.3 347 114 346 113.6 345 114.8 344 114 343 115 342 114.8 341 113.6 340 114 339 113.5 338 113.1 337 113.5 336 114 335 113.1 334 113.4 333 113.2 332 113.9 331 113.7 330 115.3 329 115.5 328 113.3 327 113.4 326 115.4 325 114.3 324 113.6 323 113.6 322 114.5 321 113.5 320 114.2 319 113.8 318 113.8 317 113.8 316 113.2 315 113.3 314 113.6 313 113.8 312 113.5 311 113.6 310 113.3 309 113.4 308 113.6 307 114 306 113.2 305 114.2 304 114.3 303 113.3 302 113.1 301 114 300 113.1 299 114.1 298 114 297 114.5 296 116.3 295 117.4 294 119.6Z"/>
<path fill="none" stroke="#fff" stroke-opacity=".6" stroke-width="1.5" stroke-linecap="round" d="M295.3 116.2h0M303.4 112.2h0M304.4 104.1h0M314.1 112.9h0M329.7 114.8h0M330.2 114.3h0M331.9 102.8h0M339.5 103h0M339.5 103.5h0M340.7 111.8h0M348.4 103.9h0M351.1 103.3h0M353 103.9h0M353.1 104h0M354.5 112.9h0M356.6 102.6h0M371.7 111.8h0M374.4 111.8h0M374 112.9h0M378.6 103.8h0M383.1 104.6h0M385.2 103.5h0"/>
<path fill="none" stroke="#ff0000" stroke-width="2.4" stroke-linecap="round" d="M294.4 96.6h0M295 93.2h0M294.6 92.3h0M295.5 119.4h0M295.1 122.8h0M295.4 123.2h0M295.7 128.1h0M296 98.7h0M296.9 95.9h0M296.8 93.5h0M296.3 116.8h0M296.2 119.2h0M296.8 129.1h0M297.1 101.3h0M297.5 99.1h0M297.3 93.6h0M297.5 90.4h0M297.2 116.6h0M297.6 118.6h0M297.2 123.2h0M298.8 101.3h0M298.1 95.2h0M298.5 95.8h0M298.6 93.5h0M298.6 92.4h0M298.8 119.7h0M298.2 124.9h0M299 131h0M299.7 116h0M300.8 90.9h0M300.2 119.6h0M301.8 116.7h0M301.8 125.3h0M302.2 95.1h0M302.9 114.3h0M302 116.9h0M302.5 116.3h0M303.2 100.1h0M303.3 116.6h0M303.1 132.3h0M304.7 100.8h0M304.7 117.1h0M304.3 116.3h0M305.6 101.5h0M305.8 96.9h0M306.8 98.7h0M306.8 92.2h0M306.1 113.5h0M306.6 127.8h0M307.3 101h0M307.2 99h0M307.2 118.5h0M308.5 101h0M308.7 95.6h0M308.6 89.2h0M308.8 117.7h0M309.7 102.2h0M309.6 102.1h0M309.2 98h0M309.8 114h0M310.8 99.8h0M310.3 124.5h0M311.8 96.8h0M311.2 113.6h0M311.5 120.2h0M312.5 101.4h0M312.7 100.6h0M312 100.8h0M312.5 99.3h0M312.4 95.8h0M312.5 94.8h0M312.4 113.7h0M312.5 114.8h0M312.6 116h0M312.5 117.7h0M313.4 97.4h0M313.6 96.3h0M313.7 123.7h0M313 125.9h0M314 127.5h0M313.6 128.1h0M314.4 92.4h0M314.7 90.2h0M314.2 114h0M314.9 113.8h0M314 116.4h0M314.7 120.6h0M314.6 121.5h0M315.2 91.1h0M315.4 117.9h0M316.6 100h0M316.3 99.5h0M316.8 98h0M316.4 113.6h0M316.5 115.3h0M318 99.2h0M317.3 128.1h0M318.3 95.7h0M318.6 115.8h0M319.6 95.9h0M320.5 99h0M320.5 98.1h0M320.4 91.2h0M320.7 114.7h0M320 117.9h0M320.9 119.6h0M321.4 94.8h0M321.1 116.1h0M321 115.5h0M321.4 131h0M322.5 101.4h0M322.7 98.2h0M323.6 94.5h0M323.2 113.7h0M324.5 99.9h0M324 115.3h0M324.2 116.2h0M324.9 120.5h0M325 99h0M325.3 99.4h0M325.3 118.5h0M325.7 126.5h0M326.1 98.5h0M326.2 115.9h0M326.8 117h0M327.1 100.7h0M328 97.5h0M328.2 99.5h0M328 98.7h0M328.2 94.4h0M328.4 118.8h0M328.3 120.3h0M328.3 126.7h0M328.8 127.8h0M328.2 128.3h0M329.1 99.2h0M329.3 95.1h0M330 116.2h0M329.1 123.2h0M331 101.3h0M330.9 100.3h0M330.6 99.3h0M330.4 115.7h0M331.8 99h0M331.2 98h0M331.2 96.1h0M331.2 114.7h0M332.3 102.2h0M332.8 99.6h0M333 93.9h0M332.6 114.9h0M332.5 115.4h0M333.4 90.9h0M333.2 115.1h0M334.7 101h0M334.1 99.3h0M334.6 113.6h0M334.8 114h0M334.5 116.3h0M335.6 101.7h0M335.1 114.7h0M335.4 115.7h0M335.6 131.5h0M336.1 100.2h0M336.1 90.2h0M336.8 115.1h0M336.9 116.6h0M336.4 116.8h0M336.5 125.6h0M337.9 99.5h0M337.1 130.1h0M337 130.4h0M338.2 101.7h0M338.7 92.3h0M338.7 114.5h0M338.9 115.1h0M339.4 99.2h0M340.2 100h0M340.4 97.9h0M340.8 114.9h0M340.8 115.9h0M340.4 119.5h0M341 131.3h0M341.4 99.9h0M341 114.4h0M341.9 121.3h0M342 94.1h0M343 114.9h0M342.1 118.1h0M342.9 131.4h0M343.8 101h0M343.8 96.7h0M344 91.2h0M343.9 121.4h0M344.8 102h0M344.8 99.3h0M345.1 100.6h0M345.6 94.7h0M345.6 93.5h0M345.1 116.4h0M346.1 101.2h0M346.6 99h0M346.4 116.5h0M346.7 118.7h0M347 123.6h0M347.1 101.6h0M347.2 99.5h0M347.5 98.5h0M347 90.8h0M347.7 114h0M348.9 95.9h0M348.9 94.8h0M349.9 97.4h0M349 94.5h0M349.9 90.2h0M349.2 114h0M349.5 131.1h0M350.9 101h0M350.3 98.1h0M350.5 97.6h0M350 117.4h0M350.9 116.9h0M352 101.1h0M351.8 122.1h0M352.3 89h0M353.4 101.6h0M353.8 102h0M353.9 98.7h0M353.1 91.7h0M353.8 113.7h0M353.7 117.5h0M353.3 126h0M353.7 127.1h0M354.7 118.5h0M355.2 91.5h0M355.4 115h0M355.2 121.6h0M355.5 122.9h0M356.5 100h0M357.4 101.5h0M357.8 102.2h0M357.5 99.9h0M357 95.1h0M357.2 113.3h0M357.2 114.3h0M357.1 115.5h0M357.9 121.5h0M358.1 97.9h0M358.8 114.6h0M358.6 118.2h0M359 118.9h0M358.9 120.9h0M358.6 123.3h0M358.4 123.9h0M359.4 116h0M360.8 95.6h0M360.4 116h0M360.1 119.8h0M360.7 128.8h0M360.2 132.7h0M361.4 116.2h0M361.7 117.5h0M361.9 118.6h0M361.1 132.5h0M362.2 115.9h0M362.4 127.5h0M363.9 101.8h0M363.8 98.6h0M363.3 92.2h0M363.9 114.5h0M363.8 114.5h0M363.3 123.4h0M365.4 95h0M365.3 116.6h0M365.4 118h0M366.6 100h0M366.5 123.5h0M367 96.3h0M367.9 93.3h0M367.9 114.1h0M367.6 116.4h0M367.9 116.9h0M369 97.9h0M368.2 114.4h0M368.1 132.6h0M369.8 100.3h0M370.6 121.5h0M371.6 97.2h0M371.3 115.5h0M371.9 130h0M372.5 101.6h0M372.2 121.5h0M373.8 101.4h0M373.9 96.3h0M374.1 100.7h0M374.1 114.3h0M375.7 99.4h0M375.4 122.9h0M377 101.6h0M376.3 102.4h0M377.4 101.3h0M377.7 100.7h0M377.9 122.1h0M378.4 100.3h0M378 98.4h0M378.3 96.2h0M378.7 115.9h0M378.2 120.1h0M378 121.7h0M378.7 128.9h0M379.6 98.8h0M379.2 95.5h0M379.7 113.4h0M380.3 99.4h0M380.3 113.1h0M380.2 117.3h0M380.2 119.5h0M380.2 132.5h0M381.6 93.6h0M382.5 93.7h0M382.6 115.4h0M382.4 115.5h0M382.8 119.7h0M382.4 126.5h0M383.1 101.8h0M383.7 96.4h0M383.7 91.9h0M383.2 89.1h0M383.2 123.3h0M384.5 100.3h0M384.5 97.1h0M384.7 113.5h0M385.9 100h0M385.4 100.4h0M385.2 98h0M385.3 96.9h0M385.6 89.8h0M385.7 113.9h0M385.7 113.8h0M385.2 118.3h0"/>
<path stroke="#000" stroke-opacity="0.22" stroke-width="1.4" d="M293 110.5H387"/>
<rect x="292.2" y="87.9" width="116.1" height="46.1" fill="none" stroke="#a0a0a0" stroke-width="1.1"/>
<text x="288.4" y="92" class="tk" text-anchor="end">1</text>
<text x="288.4" y="114.4" class="tk" text-anchor="end">0</text>
<text x="288.4" y="138.4" class="tk" text-anchor="end">-1</text>
<text x="326.2" y="147.8" class="tk" text-anchor="middle">2000</text>
<text x="364.8" y="147.8" class="tk" text-anchor="middle">2010</text>
<text x="403.4" y="147.8" class="tk" text-anchor="middle">2020</text>
<text x="350.2" y="157.7" class="st" text-anchor="middle" xml:space="preserve">mean=0.035    std=0.731</text>
<path stroke="#777" stroke-width="1.3" d="M424 110.2H539.6"/>
<path fill="#ff0000" d="M429.5 88.1 430.5 88.1 431.5 88.1 432.5 88.1 433.5 88.1 434.5 88.1 435.5 88.1 436.5 88.1 437.5 88.1 438.5 88.1 439.5 88.1 440.5 88.1 441.5 88.1 442.5 88.1 443.5 88.1 444.5 88.1 445.5 88.1 446.5 88.1 447.5 88.1 448.5 88.1 449.5 88.1 450.5 88.1 451.5 88.1 452.5 88.1 453.5 88.1 454.5 88.1 455.5 88.1 456.5 88.1 457.5 88.1 458.5 88.1 459.5 88.1 460.5 88.1 461.5 88.1 462.5 88.1 463.5 88.1 464.5 88.1 465.5 88.1 466.5 88.1 467.5 88.1 468.5 88.1 469.5 88.1 470.5 88.1 471.5 88.4 472.5 90 473.5 91 474.5 90.7 475.5 93 476.5 93.8 477.5 94.3 478.5 94 479.5 96.2 480.5 96.8 481.5 97 482.5 96.3 483.5 96.2 484.5 97.4 485.5 97.4 486.5 97 487.5 95.4 488.5 94.6 489.5 94.9 490.5 94.1 491.5 96.1 492.5 96 493.5 95.8 494.5 95.8 495.5 96 496.5 95.6 497.5 95.6 498.5 94.3 499.5 95.7 500.5 96 501.5 94.4 502.5 95.8 503.5 96 504.5 96.2 505.5 96.2 506.5 95.5 507.5 96.2 508.5 95.6 509.5 95.2 510.5 95.3 511.5 96 512.5 95.6 513.5 95.5 514.5 96.1 515.5 95.7 516.5 96.2 517.3 95.8 517.3 122.8 516.5 122.9 515.5 123.6 514.5 122.9 513.5 123.7 512.5 122.4 511.5 122.7 510.5 123.6 509.5 122.6 508.5 124.7 507.5 122.2 506.5 121.9 505.5 122.9 504.5 122.2 503.5 122.6 502.5 123.1 501.5 122.9 500.5 121.3 499.5 121.6 498.5 121 497.5 121.9 496.5 122.1 495.5 122.1 494.5 122.6 493.5 121.7 492.5 122.3 491.5 122.4 490.5 122.8 489.5 123 488.5 123.9 487.5 124.3 486.5 124.5 485.5 125.3 484.5 126.4 483.5 126.5 482.5 126.3 481.5 127.6 480.5 127.9 479.5 128.6 478.5 130 477.5 130.2 476.5 131.2 475.5 130.9 474.5 132.3 473.5 132.4 472.5 132.4 471.5 132.4 470.5 132.4 469.5 132.4 468.5 132.4 467.5 132.4 466.5 132.4 465.5 132.4 464.5 132.4 463.5 132.4 462.5 132.4 461.5 132.4 460.5 132.4 459.5 132.4 458.5 132.4 457.5 132.4 456.5 132.4 455.5 132.4 454.5 132.4 453.5 132.4 452.5 132.4 451.5 132.4 450.5 132.4 449.5 132.4 448.5 132.4 447.5 132.4 446.5 132.4 445.5 132.4 444.5 132.4 443.5 132.4 442.5 132.4 441.5 132.4 440.5 132.4 439.5 132.4 438.5 132.4 437.5 132.4 436.5 132.4 435.5 132.4 434.5 132.4 433.5 132.4 432.5 132.4 431.5 132.4 430.5 132.4 429.5 132.4Z"/>
<path fill="none" stroke="#fff" stroke-opacity=".6" stroke-width="1.5" stroke-linecap="round" d="M430.1 89.7h0M429.7 90.9h0M429.8 91.2h0M431.3 89.5h0M432.4 91.7h0M431.7 92.3h0M432 130h0M431.8 129.8h0M432.5 90.9h0M433.4 130.2h0M434 123.4h0M434.1 131.2h0M436.2 91.3h0M435.8 128h0M437.5 90.4h0M438.5 130.4h0M441.2 127.2h0M441.6 126.6h0M442.8 113.7h0M442.7 131.1h0M444.7 90.1h0M444.9 127.8h0M450.2 118.4h0M451.4 89.3h0M451.9 115.3h0M451.9 129.3h0M451.6 130.3h0M453 102.5h0M453.2 129.4h0M452.7 129.9h0M453.4 131.4h0M453.7 89.5h0M453.5 126.5h0M454.7 120.9h0M456.1 129.9h0M456.2 130.7h0M457.1 90.1h0M458.5 89.2h0M458.1 130.8h0M460.4 90.8h0M460.8 131.8h0M462.2 90.3h0M462.4 102.1h0M462.8 92.5h0M464 129.1h0M464.8 90.4h0M465.3 123.5h0M464.8 130.8h0M465.6 131.5h0M467.6 111.1h0M467.6 130.8h0M469.1 122.3h0M470 129.5h0M472.5 131.7h0M476.6 95h0M481.1 98.1h0M482.6 103.9h0M490.2 121.7h0M502.8 101h0M504.8 121.6h0M509.7 96.6h0M515.2 99.5h0"/>
<path fill="none" stroke="#ff0000" stroke-width="1.6" stroke-linecap="round" d="M481.8 98V93.7M482.5 126.6V132.2M484 97.2V95.1M486 98.4V96.9M490.6 95.1V90.6M497.2 96.6V93.4M497.3 121.1V122.8M499.7 96.7V92.3M502.2 95.4V90.7M503.5 96.8V95.1M503.7 121.6V129.2M507.5 96.5V94.5M508.2 121.2V129M508.7 96.6V92.7M509.7 96.2V94.2M513.1 121.4V123.3M514.1 122.7V126.5M517.3 121.9V123.9"/>
<path fill="none" stroke="#ff0000" stroke-width="2.5" stroke-linecap="round" d="M481.1 96h0M481.7 95.5h0M482.4 128.3h0M482.1 129h0M483.3 126.8h0M486.3 97.3h0M486.5 97.4h0M486.3 96.4h0M487.4 124.7h0M487.3 125.5h0M489.8 92.9h0M494.2 124.2h0M494.9 95.5h0M495.2 123.7h0M497 122.6h0M497.4 129.9h0M497.8 93.6h0M498.9 125.5h0M500 122.2h0M500 121.6h0M503.7 124.2h0M506.4 125.6h0M505.6 128.2h0M508.7 94.6h0M508.8 94.9h0M509.6 93.5h0M510.2 123.3h0M510.8 94.3h0M512 95.3h0M512 123.7h0M512.6 123.2h0M515.3 123h0M515.9 124.6h0"/>
<path stroke="#000" stroke-opacity="0.22" stroke-width="1.4" d="M428.5 110.2H518.3"/>
<rect x="424" y="87.1" width="115.6" height="46.3" fill="none" stroke="#a0a0a0" stroke-width="1.1"/>
<text x="420.2" y="91.2" class="tk" text-anchor="end">1</text>
<text x="420.2" y="114.1" class="tk" text-anchor="end">0</text>
<text x="420.2" y="137.8" class="tk" text-anchor="end">-1</text>
<text x="458" y="147.2" class="tk" text-anchor="middle">2000</text>
<text x="496.6" y="147.2" class="tk" text-anchor="middle">2010</text>
<text x="535.2" y="147.2" class="tk" text-anchor="middle">2020</text>
<text x="481.8" y="156.8" class="st" text-anchor="middle" xml:space="preserve">mean= −0.047    std=0.633</text>
<path stroke="#777" stroke-width="1.3" d="M30.4 214.3H146.6"/>
<path fill="#ff0000" d="M39.5 207.6 40.5 206.9 41.5 207.3 42.5 207.5 43.5 207.4 44.5 207.8 45.5 207.7 46.5 207.2 47.5 209 48.5 209.6 49.5 210.1 50.5 209.8 51.5 210.4 52.5 210.3 53.5 210.1 54.5 210.8 55.5 210.5 56.5 210.4 57.5 210.7 58.5 210.9 59.5 211 60.5 210.9 61.5 210.7 62.5 210.8 63.5 210.6 64.5 210.1 65.5 210.4 66.5 210.9 67.5 210.7 68.5 211 69.5 210.8 70.5 210.6 71.5 210.7 72.5 210.6 73.5 210.8 74.5 210.4 75.5 210.5 76.5 210.9 77.5 210.2 78.5 210.9 79.5 210.8 80.5 210.8 81.5 210.4 82.5 211 83.5 210.7 84.5 210.9 85.5 210.7 86.5 210.7 87.5 211 88.5 211 89.5 211 90.5 210.9 91.5 211 92.5 210.6 93.5 210.6 94.5 211 95.5 211 96.5 210.9 97.5 210.9 98.5 210.9 99.5 210.5 100.5 210.6 101.5 210.9 102.5 210.7 103.5 211.1 104.5 210.9 105.5 210.8 106.5 210.8 107.5 210.9 108.5 211 109.5 211 110.5 211.1 111.5 211.1 112.5 210.7 113.5 210.9 114.5 210.9 115.5 210.9 116.5 211 117.5 211.1 118.5 210.8 119.5 210.7 120.5 210.9 121.5 210.9 122.5 210.3 123.5 211.1 124.5 210.8 125.5 211 126.5 211.2 127.5 210.7 128.5 210.9 129.5 210.9 130.5 211.1 131.5 210.6 132.5 210.9 133.5 210.8 134.5 211 135.5 210.4 136.5 211 137.5 211 138.5 210.8 139.5 211 140.5 210.6 141.5 211.2 142.5 210.4 143.5 211.1 144.5 210.6 145.5 211 146 210 146 217.2 145.5 217.2 144.5 217.2 143.5 217.4 142.5 217.4 141.5 217.7 140.5 217.5 139.5 217.2 138.5 217.5 137.5 217.4 136.5 217.5 135.5 217.3 134.5 217.4 133.5 217.4 132.5 217.2 131.5 217.5 130.5 217.4 129.5 217.3 128.5 217.9 127.5 217.5 126.5 217.1 125.5 217.5 124.5 217.2 123.5 217.4 122.5 217.2 121.5 217.4 120.5 217.3 119.5 217.6 118.5 217.6 117.5 217.4 116.5 217.5 115.5 217.4 114.5 217.8 113.5 217.3 112.5 217.3 111.5 217.8 110.5 217.8 109.5 217.6 108.5 217.5 107.5 217.4 106.5 217.4 105.5 217.8 104.5 217.6 103.5 218 102.5 217.6 101.5 217.2 100.5 217.3 99.5 217.3 98.5 217.5 97.5 217.6 96.5 217.6 95.5 217.5 94.5 217.4 93.5 217.4 92.5 217.7 91.5 217.3 90.5 217.4 89.5 217.3 88.5 218.2 87.5 217.5 86.5 218.1 85.5 217.7 84.5 217.3 83.5 217.6 82.5 217.6 81.5 217.2 80.5 217.6 79.5 217.7 78.5 217.4 77.5 217.8 76.5 217.3 75.5 217.5 74.5 217.4 73.5 217.3 72.5 217.5 71.5 217.5 70.5 217.6 69.5 218 68.5 217.4 67.5 217.6 66.5 217.5 65.5 217.3 64.5 217.5 63.5 217.8 62.5 217.6 61.5 217.4 60.5 217.5 59.5 217.5 58.5 217.9 57.5 217.7 56.5 217.4 55.5 218.2 54.5 217.5 53.5 217.6 52.5 217.8 51.5 217.9 50.5 218.4 49.5 218.2 48.5 218.3 47.5 219.1 46.5 220.5 45.5 220.1 44.5 220.4 43.5 221.3 42.5 222.4 41.5 222.6 40.5 223.1 39.5 221.3Z"/>
<path fill="none" stroke="#ff0000" stroke-width="2.5" stroke-linecap="round" d="M54.3 209.4h0M54.8 218.4h0M83.6 218.3h0M103.2 209.9h0M134.7 208.9h0M40.5 204.8h0M44 206.2h0"/>
<path stroke="#000" stroke-opacity="0.1" stroke-width="1.4" d="M38.5 214.3H147"/>
<rect x="30.4" y="191.2" width="116.2" height="45.9" fill="none" stroke="#a0a0a0" stroke-width="1.1"/>
<text x="26.6" y="195.3" class="tk" text-anchor="end">1</text>
<text x="26.6" y="218.2" class="tk" text-anchor="end">0</text>
<text x="26.6" y="241.5" class="tk" text-anchor="end">-1</text>
<text x="64.4" y="250.9" class="tk" text-anchor="middle">2000</text>
<text x="103" y="250.9" class="tk" text-anchor="middle">2010</text>
<text x="141.6" y="250.9" class="tk" text-anchor="middle">2020</text>
<text x="88.5" y="261.6" class="st" text-anchor="middle" xml:space="preserve">mean=0.006    std=0.044</text>
<text x="88.5" y="187.4" class="ti" text-anchor="middle">GNSS 2020</text>
<text transform="translate(14 214.7) rotate(-90)" class="yl" text-anchor="middle">XPO (mas)</text>
<path stroke="#777" stroke-width="1.3" d="M160 214.4H276.6"/>
<path fill="#ff0000" d="M165.6 192.9 166.6 193 167.6 192.4 168.6 193 169.6 193.4 170.6 192.5 171.6 194.2 172.6 194.4 173.6 193.2 174.6 193.8 175.6 194.3 176.6 194.6 177.6 194.7 178.6 195.1 179.6 195.1 180.6 195.7 181.6 196.3 182.6 197.3 183.6 198.9 184.6 198.8 185.6 200.5 186.6 201.1 187.6 199.5 188.6 201.2 189.6 200.1 190.6 200.4 191.6 201.4 192.6 201.5 193.6 201.5 194.6 201.7 195.6 199.8 196.6 201.1 197.6 199.9 198.6 201.2 199.6 201 200.6 201.9 201.6 202 202.6 201.5 203.6 201 204.6 201.9 205.6 202.2 206.6 200.3 207.6 200.5 208.6 202.2 209.6 200.6 210.6 202.2 211.6 202.6 212.6 202.8 213.6 202.8 214.6 203.2 215.6 203 216.6 203.4 217.6 204.2 218.6 204.1 219.6 203.1 220.6 204.7 221.6 204.8 222.6 204.4 223.6 202.8 224.6 204.8 225.6 203.3 226.6 203.5 227.6 204.9 228.6 204.7 229.6 204.3 230.6 203.4 231.6 205 232.6 202.9 233.6 204.7 234.6 204.1 235.6 204.4 236.6 204.5 237.6 204.6 238.6 204 239.6 205 240.6 203.8 241.6 205 242.6 204.8 243.6 204.5 244.6 204.5 245.6 204.7 246.6 205 247.6 204.5 248.6 204.9 249.6 204.3 250.6 204.9 251.6 204.6 252.6 204.2 253.6 204.5 254.6 205.2 255.6 205.2 256.6 204.5 257.6 205.2 258.6 204.8 259.6 205.1 260.6 203.6 261.6 205 262.6 205 263.6 204.6 264.6 204.4 265.6 205.2 266.6 204.6 267.6 204.1 268.6 204.5 269.6 204.7 270.6 204.8 271.6 204.2 272.6 205.3 273.6 204.4 274 205.3 274 223 273.6 223.6 272.6 224 271.6 223.7 270.6 223.4 269.6 223.3 268.6 223.9 267.6 223.9 266.6 223.5 265.6 222.9 264.6 223 263.6 223 262.6 223 261.6 223.9 260.6 223.9 259.6 223.7 258.6 223 257.6 223 256.6 225.4 255.6 224.7 254.6 223.8 253.6 223.6 252.6 223.1 251.6 223.8 250.6 223.5 249.6 224.7 248.6 224.4 247.6 223.3 246.6 223.4 245.6 223.4 244.6 223.6 243.6 223.5 242.6 224.7 241.6 223.2 240.6 223 239.6 223 238.6 223 237.6 222.9 236.6 224.1 235.6 223 234.6 225.1 233.6 222.9 232.6 224.2 231.6 223.2 230.6 223.2 229.6 223.5 228.6 223.1 227.6 223.9 226.6 223 225.6 223.4 224.6 223.8 223.6 223.5 222.6 223.4 221.6 223.7 220.6 224.1 219.6 222.9 218.6 223 217.6 223.1 216.6 223.3 215.6 223.4 214.6 224.3 213.6 225.1 212.6 223.1 211.6 223.3 210.6 223 209.6 223.3 208.6 223.6 207.6 224.1 206.6 223.3 205.6 223 204.6 223.4 203.6 223.9 202.6 223.8 201.6 223.6 200.6 223.9 199.6 223.3 198.6 224 197.6 223.3 196.6 225 195.6 223.3 194.6 223.4 193.6 224 192.6 223.5 191.6 223.4 190.6 223.7 189.6 223.5 188.6 223.5 187.6 224.7 186.6 223.9 185.6 223.8 184.6 224.3 183.6 224.8 182.6 225.2 181.6 225.8 180.6 224.7 179.6 224.5 178.6 224.6 177.6 224.6 176.6 224.8 175.6 224.9 174.6 226 173.6 224.9 172.6 225.3 171.6 225 170.6 225.6 169.6 225.9 168.6 225.8 167.6 225.3 166.6 227 165.6 225.7Z"/>
<path fill="none" stroke="#fff" stroke-opacity=".6" stroke-width="1.5" stroke-linecap="round" d="M176.7 221h0M178.5 199.5h0M184 200.7h0M190.3 222.8h0M191.3 222.7h0M207.5 202.5h0M208.5 223.4h0M210 206.5h0M223.5 221.9h0M234.9 206h0M239 221.5h0M240.9 206.7h0M242.8 223.3h0M263 222.4h0M265.2 205.5h0"/>
<path fill="none" stroke="#ff0000" stroke-width="2.1" stroke-linecap="round" d="M166.8 194V192.2M169.1 194V192.2M169.8 194.4V192.2M171.6 195.2V192.2M175 225V231.6M175.9 195.3V192.2M176.4 223.9V225.8M184.1 199.9V193.6M186.5 222.8V225.2M187.6 202.1V196.7M189.2 202.2V197.5M188.8 222.5V236.1M194.1 202.5V199.1M194.7 202.7V200M196.6 200.8V195.7M197.9 222.3V224.7M202 203V200.4M204.2 222.9V236.1M204.9 202.9V192.4M205.8 222V231.2M208.9 203.2V200.8M208.6 222.6V226.8M213.7 224.1V225.7M215.5 223.3V230M222.3 205.8V195.1M222.9 205.4V202.5M227.3 204.5V199.9M230.9 204.4V192.2M233.8 221.9V223.7M237.4 205.5V202.3M238.9 222V228.6M242.9 205.8V192.2M243.3 223.7V230.6M246.1 205.7V202.9M247.4 222.4V226.2M249.4 223.4V227.2M251.3 222.5V233.4M251.9 222.8V225.9M262.3 206V198.3M270.4 205.7V203.2M272.6 206.3V199.8"/>
<path fill="none" stroke="#ff0000" stroke-width="2.5" stroke-linecap="round" d="M167.6 231.3h0M169.4 227.4h0M170.8 227.5h0M171.4 228.5h0M172.4 193.2h0M172.6 192.5h0M173 226.2h0M177.6 225.6h0M177.6 226.4h0M178.6 194.7h0M180.3 192.7h0M181 230.2h0M181.5 234.3h0M181.9 231.9h0M183.7 225.8h0M184.9 197h0M184.8 225.1h0M185.8 226.8h0M186.7 198.7h0M186.9 195.7h0M187.3 224.6h0M186.9 226.8h0M187.7 224.9h0M188.2 226.6h0M189.5 196.1h0M191.1 230.8h0M193.4 201.4h0M192.7 198.7h0M194.3 200.7h0M194.5 199.4h0M194.2 226.4h0M195.2 196.6h0M194.7 226.7h0M196.5 224.6h0M197.1 225.5h0M197.8 199h0M200.2 200.6h0M200.4 193.3h0M200.6 226.4h0M200.7 199.5h0M201 225.2h0M201.7 200.9h0M202.9 199.4h0M203.8 228.6h0M203.9 232.7h0M205.4 201.1h0M205.1 201.2h0M204.6 228.2h0M206.3 202.1h0M206.1 198.7h0M207.4 197.8h0M208.1 195.1h0M207.7 224.4h0M208 226h0M208.7 198.8h0M210 200.1h0M209.8 200.2h0M212.5 223.6h0M213 224.7h0M215.4 202.1h0M215.4 225.8h0M217.1 194.6h0M217.7 192.5h0M218.5 223.4h0M218.2 229h0M218.9 202.2h0M219.1 227.7h0M218.7 229.5h0M220.4 202.7h0M220.7 201.1h0M221.3 200.9h0M221.3 197.9h0M221.2 224.5h0M220.9 228.1h0M220.7 228.3h0M221.9 197h0M222.3 224.6h0M223.4 202.7h0M222.8 224.3h0M223.4 224.1h0M222.8 229.3h0M223.7 224h0M224.6 230.8h0M227.4 198.1h0M227.5 223.9h0M228.1 199.1h0M228.1 234.8h0M230.1 196.1h0M231.6 224h0M232.6 224.4h0M232.8 202.7h0M233.3 229.7h0M234.2 201.7h0M233.7 197.7h0M235.4 225.2h0M235.4 225.4h0M236.8 224.9h0M238 226.9h0M239 203.3h0M238.7 203.9h0M238.7 202.6h0M239.5 201.2h0M239.5 223.6h0M240.1 200.4h0M240.4 229.8h0M241.6 227.4h0M241.7 203.1h0M242.5 199.1h0M242.9 228h0M243.9 227.3h0M246 203.7h0M246.3 199h0M246.3 198.7h0M246 225h0M247.4 224.2h0M247.2 223.8h0M246.9 226.2h0M250.5 202.7h0M249.8 224.9h0M250.4 233.1h0M251.1 235.6h0M252.9 223.1h0M254.1 194.5h0M255 224h0M255.6 199h0M256.3 225.7h0M255.7 225.1h0M258 204.9h0M258.3 231h0M259.1 224.2h0M259.6 224.7h0M259.9 224.8h0M260.5 230.1h0M261.4 228.6h0M260.9 234.4h0M263.4 203.4h0M264.7 203.5h0M265 203.7h0M265.4 200.9h0M266.7 199.7h0M266.9 224.4h0M266.7 225.5h0M269.4 203.6h0M269.3 233.7h0M270.6 202.1h0M272.4 224h0M271.8 224.8h0M273.3 204.4h0M273 199.9h0M273.5 229h0M274.5 200.8h0M273.8 195.5h0M274.4 194.8h0"/>
<path stroke="#000" stroke-opacity="0.22" stroke-width="1.4" d="M164.6 214.4H275"/>
<rect x="160" y="191.2" width="116.6" height="45.9" fill="none" stroke="#a0a0a0" stroke-width="1.1"/>
<text x="156.2" y="195.3" class="tk" text-anchor="end">1</text>
<text x="156.2" y="218.3" class="tk" text-anchor="end">0</text>
<text x="156.2" y="241.5" class="tk" text-anchor="end">-1</text>
<text x="194" y="250.9" class="tk" text-anchor="middle">2000</text>
<text x="232.6" y="250.9" class="tk" text-anchor="middle">2010</text>
<text x="271.2" y="250.9" class="tk" text-anchor="middle">2020</text>
<text x="218.3" y="261.1" class="st" text-anchor="middle" xml:space="preserve">mean=0.047    std=0.238</text>
<text x="218.3" y="187.4" class="ti" text-anchor="middle">SLR 2020</text>
<path stroke="#777" stroke-width="1.3" d="M291.1 215.3H407.6"/>
<path fill="#ff0000" d="M291.5 192.5 292.5 193.3 293.5 192.7 294.5 193.7 295.5 193.7 296.5 192.5 297.5 194.1 298.5 194.6 299.5 196.8 300.5 198 301.5 198.2 302.5 199 303.5 200.8 304.5 202.9 305.5 201.7 306.5 205.4 307.5 205.4 308.5 206.7 309.5 207.3 310.5 206.1 311.5 207 312.5 207.1 313.5 205.3 314.5 207.3 315.5 206.9 316.5 206.7 317.5 206.5 318.5 207.1 319.5 206.7 320.5 206.4 321.5 205.6 322.5 207.2 323.5 206.3 324.5 207.2 325.5 207.2 326.5 206.3 327.5 206.5 328.5 207.1 329.5 205.9 330.5 206.9 331.5 206 332.5 206.3 333.5 206.5 334.5 205.5 335.5 207.1 336.5 205.9 337.5 207.1 338.5 206.7 339.5 206.7 340.5 206.1 341.5 205.5 342.5 205.6 343.5 205.5 344.5 207.3 345.5 205.4 346.5 206.2 347.5 207.2 348.5 207.1 349.5 206.7 350.5 206.4 351.5 205.2 352.5 207.1 353.5 205.8 354.5 204.9 355.5 205.4 356.5 207.1 357.5 207.1 358.5 207 359.5 207.2 360.5 206.1 361.5 207.2 362.5 205.7 363.5 207.2 364.5 205.3 365.5 206.6 366.5 206.7 367.5 206.7 368.5 206.7 369.5 206.7 370.5 207 371.5 206.8 372.5 206.9 373.5 205.9 374.5 207.3 375.5 206.5 376.5 206.8 377.5 206.6 378.5 206.2 379.5 206.7 380.5 207.2 381.5 206.7 382.5 206.4 383.5 205.3 384.5 205.8 385.5 206.4 386.5 206.6 387.5 207 388.5 207.1 389.5 207 390.5 206.8 391.5 206.7 392.5 205.6 393.5 207 394.5 206.1 395.5 207.2 396.5 205.6 397.5 206.4 398.5 205.9 399.5 206.9 400.5 206.7 401.5 206.5 402.5 206.8 403.5 207.3 404.5 206.5 405.5 205.5 406.5 206.9 406.8 205.1 406.8 223.5 406.5 221.5 405.5 222.6 404.5 222.2 403.5 221.8 402.5 222.3 401.5 222.1 400.5 221.4 399.5 221.9 398.5 222.3 397.5 221.7 396.5 221.9 395.5 222.8 394.5 222.1 393.5 222.9 392.5 222.1 391.5 223.3 390.5 221.8 389.5 221.7 388.5 222.3 387.5 222.5 386.5 221.6 385.5 223 384.5 223.4 383.5 223.2 382.5 221.5 381.5 221.6 380.5 222.1 379.5 222 378.5 221.5 377.5 223.2 376.5 222 375.5 221.9 374.5 221.7 373.5 221.8 372.5 222.7 371.5 221.7 370.5 221.8 369.5 221.8 368.5 221.7 367.5 222.5 366.5 222.1 365.5 222.1 364.5 221.6 363.5 221.7 362.5 221.9 361.5 223.5 360.5 222.9 359.5 222 358.5 223.3 357.5 221.6 356.5 222.1 355.5 222.7 354.5 221.7 353.5 221.6 352.5 222.9 351.5 222.6 350.5 223.8 349.5 221.9 348.5 222.9 347.5 222 346.5 222.7 345.5 221.7 344.5 222.9 343.5 222.5 342.5 222.4 341.5 222 340.5 222.8 339.5 222.2 338.5 223.1 337.5 222.1 336.5 222.7 335.5 221.7 334.5 223.5 333.5 221.7 332.5 221.9 331.5 222.6 330.5 221.8 329.5 221.7 328.5 222.3 327.5 223.6 326.5 222 325.5 221.8 324.5 222.2 323.5 221.8 322.5 222.1 321.5 222.2 320.5 221.9 319.5 222.7 318.5 222.4 317.5 222 316.5 222.4 315.5 222.2 314.5 223 313.5 222.2 312.5 222.2 311.5 222.7 310.5 221.8 309.5 222.6 308.5 222.4 307.5 223.4 306.5 224.1 305.5 225.5 304.5 226.1 303.5 227.3 302.5 228.8 301.5 230.1 300.5 230.3 299.5 232.3 298.5 233.2 297.5 233.7 296.5 234 295.5 235.6 294.5 235.3 293.5 237 292.5 236.6 291.5 236.9Z"/>
<path fill="none" stroke="#fff" stroke-opacity=".6" stroke-width="1.5" stroke-linecap="round" d="M292 193.8h0M295.3 234.2h0M299.1 231.8h0M304.4 226h0M309.6 219.6h0M310.7 207.1h0M325.7 212h0M326.8 207.7h0M332.4 221.7h0M333.5 219h0M337.9 208.8h0M343.2 207.1h0M344.5 207.1h0M347.6 208.6h0M359.5 208.4h0M363.2 207h0M373.2 221.6h0M373.6 209.1h0M374.6 209.7h0M392.6 208.5h0M393.7 208.4h0M396.3 222.1h0M398 209.3h0M399.4 208.7h0M401.8 207.8h0"/>
<path fill="none" stroke="#ff0000" stroke-width="2.4" stroke-linecap="round" d="M292.3 236.7h0M292.8 236.8h0M294.5 236.1h0M296.5 236.3h0M296.9 234.1h0M297.4 235h0M297.3 235.3h0M298.4 193.2h0M298.3 193h0M299.1 234h0M299.3 234.9h0M298.5 234.6h0M299.1 235h0M300.3 196.2h0M300.7 197h0M301 196.8h0M301.4 231h0M300.8 233.1h0M300.8 233.1h0M302.3 195.9h0M302.1 230.2h0M301.5 235.7h0M303.2 198.8h0M304 197.7h0M304 194.2h0M304.8 230.3h0M304.7 235.1h0M305.7 226.4h0M305.5 228.4h0M306.9 204.7h0M306.5 197.5h0M307.3 196h0M307.1 227.8h0M308.2 201.4h0M308.1 196.9h0M308.3 224h0M307.9 225.5h0M308.1 235.8h0M308 236.4h0M309.2 206h0M308.7 197.2h0M309.7 201.9h0M310 197.9h0M310.4 223.2h0M309.5 225.9h0M309.5 226.9h0M311.3 201.4h0M311 231.3h0M312.4 206.7h0M311.9 227.5h0M311.8 228h0M312.2 232.1h0M313.4 206.1h0M313.1 222.4h0M313.1 223.1h0M313.1 230.2h0M313.5 231.4h0M313.9 204h0M314.1 197h0M314.3 223h0M315.5 203.9h0M315.4 194.2h0M314.7 223.9h0M316.1 206.1h0M316.5 198.7h0M316 225.8h0M315.6 227.4h0M315.7 232.4h0M317.4 203.9h0M316.8 222.6h0M316.6 223.8h0M317.5 225h0M319.1 193.2h0M319.3 227.8h0M320.3 205.2h0M320.3 197.8h0M319.9 195.9h0M320.4 224.5h0M320.7 195h0M320.5 225.6h0M321.5 236.6h0M322.2 226.1h0M323.1 194.7h0M323.1 193.1h0M323.8 204.2h0M324.3 227h0M325.4 207.1h0M324.8 202h0M325.3 200.2h0M325.2 199.7h0M324.7 223.9h0M325.3 236.6h0M326 198.8h0M326.5 225.4h0M326.6 226.1h0M327.4 229.5h0M326.6 236.7h0M328.2 197h0M328.1 194.5h0M327.7 225h0M328.4 228h0M328.6 207h0M329 203h0M328.9 223.6h0M329.7 205.5h0M330.4 204.6h0M330.2 203.6h0M329.9 221.9h0M330.1 224.3h0M330.1 236.9h0M331.4 200.6h0M330.5 192.8h0M332.4 201.8h0M332.3 195.5h0M332.9 206.2h0M333 195.4h0M333 195.2h0M332.8 222.6h0M332.7 224.7h0M333.3 224.4h0M333.4 228.9h0M333.7 199.9h0M334.5 196.1h0M334.1 221.8h0M335.4 205.3h0M334.8 234.6h0M335.7 206.7h0M336.8 205.3h0M336.9 199h0M336.9 199.5h0M337.2 223.3h0M337.5 234.6h0M337.8 206h0M337.6 202.7h0M338.3 199.1h0M338.5 193.1h0M339.4 195.6h0M338.8 195.5h0M338.8 227.9h0M339.7 202.7h0M340.4 222.6h0M339.9 223.4h0M340.5 198h0M341.3 225.4h0M340.5 229.8h0M341.9 204.9h0M342.1 205.3h0M342.3 204.4h0M341.7 203h0M341.7 197.9h0M341.9 195.7h0M342.1 225.2h0M341.8 231.3h0M341.9 236h0M342.6 201.4h0M342.9 193.5h0M343.5 224.6h0M344.1 205.3h0M343.7 202h0M344 195.1h0M344.4 223.8h0M344.5 203.6h0M345.4 193.7h0M344.7 223.9h0M344.7 223.7h0M346.4 227.4h0M346.8 197h0M347.5 226.7h0M348.5 205.2h0M347.5 203.1h0M347.9 222.1h0M349.2 203.4h0M349 201.5h0M349.4 199.4h0M348.6 224.6h0M349 231.2h0M349 233.5h0M349.8 206.4h0M349.8 206.1h0M349.8 197.8h0M350.1 197.6h0M350.1 195.7h0M351.4 200.8h0M351.2 232.4h0M351.2 234.5h0M352.4 196.4h0M353.5 224.6h0M352.9 227.8h0M354.3 203.5h0M353.6 199.7h0M353.7 223.9h0M355.2 203.7h0M354.9 203.2h0M354.5 201.2h0M354.6 221.7h0M356 203.2h0M355.6 196h0M355.8 228.3h0M356.6 204.2h0M357.2 203.8h0M356.9 222.7h0M356.9 226.2h0M358.3 203.4h0M358.4 232.3h0M358.7 224h0M360.3 207h0M360.2 206.7h0M360 222.7h0M359.7 227.3h0M360.6 225.8h0M361 226.3h0M360.8 234.4h0M362.2 206.9h0M362.2 200.7h0M361.5 200.3h0M362 224.5h0M362.2 224.9h0M361.7 225.6h0M362.2 232.1h0M362.7 202.3h0M362.6 201.1h0M363 222.2h0M362.9 224.4h0M362.6 225.8h0M364.5 207h0M363.7 205.6h0M364.2 203.3h0M364.5 197h0M364.1 222.3h0M363.8 222.8h0M364.4 222.8h0M366.1 224.4h0M366.5 228.1h0M366.9 205.5h0M367.3 201.6h0M366.8 195.2h0M366.7 227.5h0M366.7 233.9h0M367.7 194.9h0M367.8 228h0M368 236.8h0M370 205.7h0M370.1 222.3h0M369.7 222h0M371.1 230.3h0M370.7 231.2h0M370.8 234h0M370.7 236.9h0M371.8 206.4h0M372.4 226.3h0M371.9 231.3h0M373.2 206.9h0M372.6 206.6h0M373 203.9h0M373.2 203h0M372.8 193.5h0M372.6 224.6h0M373.1 230.5h0M374.1 193.5h0M373.6 192.7h0M375.4 206.5h0M374.7 205.5h0M375.1 204.6h0M375.2 201.4h0M374.7 199.8h0M376.4 206.1h0M377.8 206h0M377.8 198.1h0M378.5 223.6h0M377.6 225h0M377.9 234.7h0M379 195.7h0M379.4 222h0M378.7 225.4h0M378.5 228.5h0M379.4 227.9h0M379.8 206.5h0M380.3 200.9h0M380 226.8h0M380.8 203.8h0M380.6 200.5h0M381.1 229.9h0M381.2 235.1h0M381.8 205.6h0M381.8 222.3h0M383.4 204.4h0M382.6 221.7h0M382.8 222.1h0M383.1 229.4h0M382.6 236.5h0M384.5 200.3h0M384 231.4h0M384 233.3h0M384.7 203.8h0M384.9 203.4h0M384.5 224.3h0M385.2 235.7h0M386 205.9h0M386.2 201h0M386.3 199.9h0M385.7 223.2h0M387.3 202.8h0M387.3 203.4h0M386.5 199.7h0M387.4 224.4h0M388.5 205.1h0M388.3 205.6h0M389 225.7h0M389 236.1h0M389.8 206.2h0M390.1 226.1h0M391.1 203.5h0M390.8 222.1h0M390.7 227.5h0M391.2 227.7h0M391.4 232.6h0M392.4 206.5h0M391.5 206.3h0M391.8 202.1h0M392.2 227.5h0M391.7 228.2h0M392.4 230.1h0M391.8 233.6h0M392.3 236.7h0M392.9 202.5h0M393.1 222.6h0M393.1 224.2h0M392.7 230.1h0M393.5 206.9h0M394.1 202.2h0M394.4 224.5h0M394.2 236.6h0M394.8 201.8h0M395.3 201.7h0M395.1 224.6h0M395.3 224.3h0M396 206.4h0M396.3 206.5h0M396 204.7h0M396.4 201.8h0M395.6 199.5h0M395.7 223.6h0M396.5 224.7h0M396.1 225.6h0M396.1 228.4h0M395.9 235.1h0M397 197.2h0M398.3 206.3h0M398.4 221.8h0M399.3 224h0M398.6 226.4h0M400.2 204h0M400.2 202.2h0M400 201.1h0M401 202.7h0M400.8 223.5h0M401.2 231.9h0M400.9 235.7h0M402.5 206.3h0M401.7 194.2h0M401.7 222.2h0M402.2 223.8h0M402 226.6h0M402.5 224.5h0M403 235.5h0M404.1 205.4h0M403.6 202.9h0M404.3 195.3h0M404.3 223.8h0M403.7 224.7h0M403.6 234.7h0M404.6 205.2h0M404.6 205h0M405 194.2h0M404.6 228.8h0M404.7 236.1h0M406.3 204.3h0M406.5 203h0M406.4 192.5h0M406.5 223h0M406.6 206.8h0M406.7 204.2h0M407.5 230.7h0"/>
<path stroke="#000" stroke-opacity="0.22" stroke-width="1.4" d="M290.5 215.3H407.8"/>
<rect x="291.1" y="191.5" width="116.5" height="46.5" fill="none" stroke="#a0a0a0" stroke-width="1.1"/>
<text x="287.3" y="195.6" class="tk" text-anchor="end">1</text>
<text x="287.3" y="219.2" class="tk" text-anchor="end">0</text>
<text x="287.3" y="242.4" class="tk" text-anchor="end">-1</text>
<text x="325.1" y="251.8" class="tk" text-anchor="middle">2000</text>
<text x="363.7" y="251.8" class="tk" text-anchor="middle">2010</text>
<text x="402.3" y="251.8" class="tk" text-anchor="middle">2020</text>
<text x="349.4" y="260.7" class="st" text-anchor="middle" xml:space="preserve">mean=0.004    std=0.522</text>
<text x="349.4" y="187.7" class="ti" text-anchor="middle">VLBI 2020</text>
<path stroke="#777" stroke-width="1.3" d="M423.5 215.3H539.6"/>
<path fill="#ff0000" d="M428.6 192.5 429.6 192.5 430.6 192.5 431.6 192.5 432.6 192.6 433.6 192.5 434.6 192.6 435.6 192.5 436.6 192.5 437.6 192.8 438.6 192.5 439.6 192.5 440.6 192.5 441.6 192.5 442.6 192.5 443.6 192.5 444.6 192.5 445.6 192.5 446.6 192.8 447.6 192.7 448.6 192.5 449.6 192.5 450.6 192.6 451.6 192.5 452.6 192.6 453.6 192.5 454.6 192.5 455.6 192.7 456.6 192.5 457.6 192.5 458.6 192.5 459.6 192.5 460.6 192.5 461.6 192.7 462.6 192.5 463.6 192.5 464.6 192.5 465.6 192.8 466.6 192.8 467.6 193.2 468.6 193.3 469.6 193.8 470.6 194.3 471.6 192.8 472.6 193.5 473.6 195.4 474.6 195.1 475.6 193.3 476.6 195 477.6 196 478.6 195.6 479.6 197 480.6 197.5 481.6 196.9 482.6 197.5 483.6 197.7 484.6 198.2 485.6 198.5 486.6 199.3 487.6 199.5 488.6 198.9 489.6 200.5 490.6 199.6 491.6 201.1 492.6 201.9 493.6 201.6 494.6 202.2 495.6 202.3 496.6 201.6 497.6 201.2 498.6 203 499.6 201 500.6 202.9 501.6 203.6 502.6 202.3 503.6 203.8 504.6 203.8 505.6 203.8 506.6 203.7 507.6 203.3 508.6 202.6 509.6 202.5 510.6 203.1 511.6 203.8 512.6 203.5 513.6 201.4 514.6 204.5 515.6 203.3 516.6 204.1 517.6 204.5 518.6 203.8 519.6 204.4 520.6 204.2 521.6 204.5 522.6 204.7 523.6 204.2 524.6 203.9 525.6 204.3 526.6 204 527.6 204.3 528.6 204.6 529.6 205 530.6 204.7 531.6 203.2 532.6 205.1 533.6 205.1 534.6 204.1 535.6 204.4 536.6 205.1 537.6 203.7 537.7 205.2 537.7 233.2 537.6 232.1 536.6 228.5 535.6 226.1 534.6 222.9 533.6 222.8 532.6 223.3 531.6 223 530.6 222.9 529.6 224.1 528.6 224.4 527.6 222.7 526.6 224 525.6 223.2 524.6 222.4 523.6 222.5 522.6 222.5 521.6 222.9 520.6 223.8 519.6 223 518.6 223 517.6 223.2 516.6 223.2 515.6 222.4 514.6 222.6 513.6 223 512.6 222.9 511.6 223.2 510.6 222.8 509.6 223.2 508.6 224.3 507.6 223.7 506.6 223 505.6 223 504.6 223.7 503.6 223.6 502.6 224.9 501.6 224.5 500.6 224.2 499.6 224.3 498.6 225.2 497.6 224.3 496.6 225.4 495.6 225 494.6 225.8 493.6 225 492.6 226 491.6 226 490.6 226.5 489.6 225.1 488.6 225.4 487.6 225.8 486.6 226.6 485.6 226.1 484.6 227 483.6 227 482.6 228 481.6 228.5 480.6 229.1 479.6 228.6 478.6 228.6 477.6 228.8 476.6 230.6 475.6 230.9 474.6 230.2 473.6 232.2 472.6 231.6 471.6 231.9 470.6 233.2 469.6 232.6 468.6 233.7 467.6 236 466.6 235.1 465.6 236.6 464.6 236.1 463.6 236 462.6 236.6 461.6 237 460.6 235.8 459.6 235.7 458.6 235.9 457.6 236.2 456.6 235.9 455.6 236.4 454.6 236.2 453.6 236.1 452.6 237 451.6 236 450.6 236.6 449.6 236.7 448.6 237 447.6 236.3 446.6 237 445.6 237 444.6 236.2 443.6 236.3 442.6 236.2 441.6 236.6 440.6 236.6 439.6 236.5 438.6 237 437.6 237 436.6 236.3 435.6 237 434.6 237 433.6 236.2 432.6 236.6 431.6 236.5 430.6 236.9 429.6 237 428.6 236.5Z"/>
<path fill="none" stroke="#fff" stroke-opacity=".6" stroke-width="1.5" stroke-linecap="round" d="M430.1 230.4h0M429.7 233.5h0M430.9 234.9h0M432.6 224.9h0M431.9 231.7h0M433.1 234.4h0M434.3 194.4h0M435.5 195.4h0M436.3 233h0M435.9 235.8h0M437.8 193.9h0M438.1 196.2h0M439.1 200.1h0M438.8 231.8h0M439.9 196.8h0M440 232.8h0M441.9 227.5h0M442.5 236.2h0M444.5 227.6h0M445 235.2h0M447.5 233.3h0M446.6 234.9h0M446.9 236.7h0M447.9 233.3h0M448.6 235.6h0M448.8 236.4h0M450.3 233.7h0M451.1 202.3h0M452.8 236.5h0M454.3 230.6h0M457.3 231.4h0M458.1 195.1h0M458.6 233.3h0M459.9 219.3h0M460.5 224.9h0M461.2 204.1h0M463.5 234.5h0M465.1 230h0M467.4 219.2h0M466.7 232.4h0M471.6 210h0M472.8 229.5h0M474 229.6h0M477 199.8h0M477.4 227.2h0M478.6 212.5h0M478.8 218.8h0M480.1 215.8h0M481.4 200.9h0M483.4 227.1h0M485.6 223.9h0M492 213.2h0M494.6 220.6h0M498.2 204.2h0M500.4 202.5h0M511.6 206.4h0M524.4 218.3h0M524.8 221.7h0M526.4 208h0M529 207.8h0M538.4 206.6h0"/>
<path fill="none" stroke="#ff0000" stroke-width="1.6" stroke-linecap="round" d="M457 234.9V237M461 234.8V236.9M464.3 235V237M468.2 194.2V192.5M468.2 235V237M475.4 229.2V231.3M476.4 229.9V231.8M479.9 198V192.5M481.6 228.1V229.8M482.6 197.9V193.8M483.8 226V231.5M486 199.5V197.8M488.6 224.4V229.3M490.4 201.5V199.6M489.9 224.1V226.4M493.4 225V227.2M500.3 202V199.8M503.3 223.9V225.8M510.3 203.5V196.7M511.8 204.8V200.6M515.5 205.5V200.9M515.4 221.6V228.1M516.1 221.4V222.9M518.6 222V225.9M520 205.4V203.7M520.7 222.8V224.6M525.1 204.9V202.1M531.3 205.7V203.1M533.4 222.3V227.9M534.6 206.1V202.2M534.1 221.8V226.2M537 206.1V199.5"/>
<path fill="none" stroke="#ff0000" stroke-width="2.5" stroke-linecap="round" d="M436.2 192.6h0M443.6 237h0M465.5 236.6h0M467.7 192.7h0M468.3 192.6h0M469.1 192.8h0M473.2 235.5h0M473.7 232.3h0M477.9 229.4h0M482.2 230.5h0M482.9 196.7h0M485 227.2h0M486 195.9h0M487.1 196.9h0M486.7 195.7h0M488.4 198.7h0M489 226.6h0M491.2 227.3h0M491.9 226.6h0M494.5 201.2h0M494.5 229.4h0M494.6 226.7h0M494.7 230h0M496.2 200.2h0M496.8 201.6h0M497.3 200.5h0M504.1 202.8h0M504.3 201.9h0M505.6 202h0M509.4 224.5h0M509.1 234.5h0M514.2 223.1h0M515.4 202.9h0M516.1 201.7h0M515.7 224.5h0M519 223.4h0M520.9 225.7h0M521.7 200.8h0M521.7 199.1h0M522.1 225.8h0M522.8 204.2h0M525.7 199.7h0M527.8 227.1h0M530.8 204h0M531.9 203h0M532.2 202h0M533.6 222.9h0M534.9 200.3h0"/>
<path stroke="#000" stroke-opacity="0.22" stroke-width="1.4" d="M427.6 215.3H538.7"/>
<rect x="423.5" y="191.5" width="116.1" height="46.5" fill="none" stroke="#a0a0a0" stroke-width="1.1"/>
<text x="419.7" y="195.6" class="tk" text-anchor="end">1</text>
<text x="419.7" y="219.2" class="tk" text-anchor="end">0</text>
<text x="419.7" y="242.4" class="tk" text-anchor="end">-1</text>
<text x="457.5" y="251.8" class="tk" text-anchor="middle">2000</text>
<text x="496.1" y="251.8" class="tk" text-anchor="middle">2010</text>
<text x="534.7" y="251.8" class="tk" text-anchor="middle">2020</text>
<text x="481.6" y="260.2" class="st" text-anchor="middle" xml:space="preserve">mean=0.033    std=0.422</text>
<text x="481.6" y="187.7" class="ti" text-anchor="middle">DORIS 2020</text>
<path stroke="#777" stroke-width="1.3" d="M30.4 288.4H146.6"/>
<path fill="#ff0000" d="M39.8 279.2 40.8 279 41.8 278.9 42.8 281.3 43.8 282.2 44.8 282.3 45.8 282.8 46.8 283.7 47.8 284.3 48.8 284.5 49.8 284.3 50.8 284.2 51.8 284.8 52.8 284.8 53.8 284.6 54.8 284.4 55.8 284.6 56.8 284.7 57.8 284.6 58.8 284.6 59.8 284.8 60.8 284.6 61.8 284.5 62.8 284.6 63.8 284.8 64.8 284.4 65.8 284.5 66.8 284.3 67.8 284.8 68.8 284.9 69.8 284.3 70.8 284.6 71.8 284.6 72.8 284.5 73.8 284.7 74.8 284.8 75.8 284.5 76.8 285 77.8 285 78.8 284.7 79.8 284.8 80.8 284.9 81.8 284.9 82.8 284.7 83.8 284.5 84.8 285.1 85.8 285 86.8 284.9 87.8 285 88.8 285.1 89.8 284.9 90.8 285 91.8 284.2 92.8 284.7 93.8 284.7 94.8 284.4 95.8 285.1 96.8 284.4 97.8 284.9 98.8 285 99.8 285.1 100.8 284.8 101.8 284.9 102.8 284.8 103.8 284.9 104.8 284.8 105.8 284.7 106.8 285 107.8 284.9 108.8 285.1 109.8 285.2 110.8 285 111.8 285.1 112.8 284.9 113.8 284.6 114.8 284.6 115.8 285.1 116.8 284.7 117.8 285 118.8 285.1 119.8 284.9 120.8 285.1 121.8 285.1 122.8 285 123.8 284.6 124.8 285.3 125.8 285.2 126.8 285.1 127.8 284.8 128.8 285.2 129.8 284.8 130.8 285.2 131.8 284.7 132.8 285.1 133.8 284.8 134.8 285.1 135.8 284.7 136.8 284.8 137.8 285.4 138.8 285.3 139.8 285.1 140.8 285.2 141.8 285.3 142.8 285.2 143.8 285.1 144.8 285.3 145.8 284.6 146 285 146 291.7 145.8 291.8 144.8 291.5 143.8 291.5 142.8 291.6 141.8 291.4 140.8 291.5 139.8 291.6 138.8 291.5 137.8 291.7 136.8 291.3 135.8 291.6 134.8 291.5 133.8 291.5 132.8 292 131.8 291.4 130.8 291.6 129.8 291.6 128.8 291.7 127.8 291.4 126.8 291.5 125.8 291.9 124.8 291.4 123.8 291.5 122.8 291.7 121.8 291.4 120.8 292.1 119.8 292 118.8 291.7 117.8 292 116.8 291.5 115.8 291.9 114.8 291.6 113.8 291.6 112.8 291.6 111.8 291.8 110.8 291.6 109.8 291.8 108.8 291.9 107.8 291.6 106.8 291.6 105.8 291.9 104.8 292 103.8 291.6 102.8 292.2 101.8 291.6 100.8 291.6 99.8 292 98.8 291.6 97.8 291.8 96.8 291.9 95.8 291.5 94.8 291.6 93.8 291.6 92.8 291.8 91.8 292.3 90.8 292 89.8 291.7 88.8 291.9 87.8 291.6 86.8 291.5 85.8 291.7 84.8 292.1 83.8 292 82.8 292.2 81.8 292.2 80.8 292 79.8 291.6 78.8 291.7 77.8 292 76.8 291.9 75.8 292.2 74.8 291.8 73.8 292 72.8 292.1 71.8 291.9 70.8 291.9 69.8 291.7 68.8 291.6 67.8 291.8 66.8 291.7 65.8 291.8 64.8 291.7 63.8 291.6 62.8 291.6 61.8 291.8 60.8 292 59.8 291.8 58.8 292.2 57.8 291.9 56.8 291.7 55.8 292.5 54.8 292.1 53.8 292 52.8 292.2 51.8 291.8 50.8 291.7 49.8 291.8 48.8 292.1 47.8 292.6 46.8 293.1 45.8 293.3 44.8 293.6 43.8 293.7 42.8 293.9 41.8 295.8 40.8 296.8 39.8 296.9Z"/>
<path fill="none" stroke="#ff0000" stroke-width="2.5" stroke-linecap="round" d="M108.6 283.3h0M41.5 299.4h0"/>
<path stroke="#000" stroke-opacity="0.1" stroke-width="1.4" d="M38.8 288.4H147"/>
<rect x="30.4" y="265.4" width="116.2" height="46.7" fill="none" stroke="#a0a0a0" stroke-width="1.1"/>
<text x="26.6" y="269.5" class="tk" text-anchor="end">1</text>
<text x="26.6" y="292.3" class="tk" text-anchor="end">0</text>
<text x="26.6" y="316.5" class="tk" text-anchor="end">-1</text>
<text x="64.4" y="325.9" class="tk" text-anchor="middle">2000</text>
<text x="103" y="325.9" class="tk" text-anchor="middle">2010</text>
<text x="141.6" y="325.9" class="tk" text-anchor="middle">2020</text>
<text x="88.5" y="335.8" class="st" text-anchor="middle" xml:space="preserve">mean= −0.003    std=0.041</text>
<text transform="translate(14 288.8) rotate(-90)" class="yl" text-anchor="middle">YPO (mas)</text>
<path stroke="#777" stroke-width="1.3" d="M160 288.6H275.8"/>
<path fill="#ff0000" d="M165.6 270.5 166.6 270.7 167.6 270.9 168.6 271 169.6 271.3 170.6 271.5 171.6 271.3 172.6 271.5 173.6 272.1 174.6 272.4 175.6 272.3 176.6 272.6 177.6 272.4 178.6 273 179.6 272.9 180.6 273.2 181.6 271.6 182.6 273 183.6 273.3 184.6 273.2 185.6 273.9 186.6 273.9 187.6 273.6 188.6 273.6 189.6 273.7 190.6 273.9 191.6 274.1 192.6 273.7 193.6 273.8 194.6 274.1 195.6 273.4 196.6 273.5 197.6 273.9 198.6 274.7 199.6 274.6 200.6 274.4 201.6 274.5 202.6 274.6 203.6 274.3 204.6 275.1 205.6 274.6 206.6 273.8 207.6 274.9 208.6 274.4 209.6 275.2 210.6 274.6 211.6 275.4 212.6 275.1 213.6 275.1 214.6 274.8 215.6 275.4 216.6 276.6 217.6 277.2 218.6 276.9 219.6 276 220.6 277.7 221.6 278 222.6 277.2 223.6 278.3 224.6 278.2 225.6 278.5 226.6 278.4 227.6 277.9 228.6 276.8 229.6 277.5 230.6 278.5 231.6 277.2 232.6 277.8 233.6 277.4 234.6 278.6 235.6 277.6 236.6 278.4 237.6 278.1 238.6 277.3 239.6 278.4 240.6 277.4 241.6 277.7 242.6 278.2 243.6 278 244.6 278.5 245.6 277.6 246.6 278.4 247.6 278.4 248.6 278.5 249.6 278.5 250.6 277.6 251.6 277.2 252.6 278.4 253.6 277.9 254.6 277.8 255.6 278.4 256.6 278.2 257.6 278 258.6 278.2 259.6 278.3 260.6 278 261.6 278.6 262.6 277.1 263.6 278.4 264.6 277.1 265.6 276.8 266.6 278.3 267.6 278 268.6 278.4 269.6 276.9 270.6 278.5 271.6 277.8 272.6 276.1 273 277.4 273 298 272.6 298.3 271.6 297.8 270.6 299 269.6 299.2 268.6 297.8 267.6 297.6 266.6 298 265.6 298 264.6 297.6 263.6 297.7 262.6 298.2 261.6 299.4 260.6 297.9 259.6 298.4 258.6 298.1 257.6 298 256.6 297.6 255.6 298.8 254.6 298 253.6 298.1 252.6 298.1 251.6 297.8 250.6 298 249.6 298 248.6 298.8 247.6 297.8 246.6 299.3 245.6 298.1 244.6 298.2 243.6 298.5 242.6 298 241.6 298 240.6 297.6 239.6 298.3 238.6 297.9 237.6 297.9 236.6 299.2 235.6 297.8 234.6 298 233.6 298.2 232.6 298.1 231.6 298.9 230.6 297.9 229.6 298.6 228.6 297.8 227.6 297.6 226.6 298.6 225.6 298.6 224.6 297.9 223.6 298.7 222.6 298.4 221.6 297.6 220.6 298.2 219.6 298.4 218.6 298.5 217.6 299.2 216.6 299 215.6 298.3 214.6 298.6 213.6 298.5 212.6 298.8 211.6 299.4 210.6 299.4 209.6 298.8 208.6 298.7 207.6 299.1 206.6 299.6 205.6 299 204.6 299.4 203.6 299.3 202.6 299.6 201.6 299.4 200.6 300.8 199.6 299.6 198.6 299.2 197.6 300.2 196.6 299.5 195.6 299.2 194.6 299.8 193.6 300.3 192.6 300.1 191.6 301.1 190.6 299.7 189.6 299.9 188.6 299.7 187.6 299.6 186.6 300 185.6 299.7 184.6 300.3 183.6 300.5 182.6 300.2 181.6 300 180.6 300.8 179.6 300.5 178.6 299.9 177.6 300 176.6 300.2 175.6 301.1 174.6 300.1 173.6 301.1 172.6 300.9 171.6 300.3 170.6 301.2 169.6 300.4 168.6 300.6 167.6 301.7 166.6 301.1 165.6 300.7Z"/>
<path fill="none" stroke="#fff" stroke-opacity=".6" stroke-width="1.5" stroke-linecap="round" d="M167.5 299.7h0M171.3 293.2h0M174.9 298.5h0M189.7 276.3h0M191.1 293.7h0M197.7 298.9h0M208.7 277.4h0M215.4 297.2h0M219.2 297.8h0M222 279.4h0M222.5 296.2h0M226.8 298.1h0M231.6 294.5h0M233.1 295.1h0M248 282.2h0M250.9 297.5h0M252.5 297.1h0M251.9 296.8h0M256.3 280.4h0M256.2 280.8h0M255.7 283h0M255.9 297h0M270.1 278.7h0"/>
<path fill="none" stroke="#ff0000" stroke-width="2.1" stroke-linecap="round" d="M167.2 300.1V307M169 299.6V302M170.7 300.2V303.7M177.2 299.2V305M184.3 274.3V271.1M185.9 274.9V271.8M186.8 274.9V271.8M188.4 298.6V301M192.1 300.1V302.5M193.9 299.3V300.9M194.9 275.1V273.1M197.5 274.5V266.4M198.1 274.9V270.4M202.3 275.5V266.9M207 274.8V269.2M206.8 298.6V303.4M208.4 275.9V274.2M211.3 298.4V301.5M212.2 276.4V271.9M213.3 297.8V302.3M215.3 275.8V274M215.8 276.4V271.1M216.8 298V309M218.9 277.9V276.1M218.9 297.5V305.9M222.4 279V276.7M223.4 278.2V275.9M225.6 279.5V272.1M229.7 278.5V269.9M235.6 278.6V273.1M240.4 279.4V273.4M240.1 297.3V309M242 297V304M244 297.5V300.4M245.4 297.2V305.5M246.6 297.1V299.1M246.7 279.4V270.3M247.9 279.4V276.1M248 296.8V310.8M250.3 297V301.8M251.3 297V301.5M252.6 296.8V299.8M253.7 297.1V301M256.2 297.8V304M258.1 279V272.2M262.2 279.6V274.4M263.5 278.1V275.6M266.4 297V310.3M267.3 279.3V277.6M269.6 298.2V302.6"/>
<path fill="none" stroke="#ff0000" stroke-width="2.5" stroke-linecap="round" d="M166.3 267.9h0M165.7 302.7h0M166.7 268.6h0M168.4 268.1h0M168.4 302.9h0M169.8 303.5h0M170.5 309.4h0M171.3 302.6h0M171.9 305.3h0M173.7 266.8h0M173.7 307.8h0M175.3 272.2h0M177.4 270.5h0M177.3 270.1h0M177.5 266.6h0M177.4 301.5h0M176.9 304h0M177.1 306.4h0M177.7 307.4h0M179.3 303.9h0M180.1 272.1h0M180.5 266.9h0M180.4 300.9h0M180.1 300.5h0M181.3 271.1h0M180.8 268.8h0M182.5 270.8h0M182 268.1h0M182.2 300.1h0M182.2 306.5h0M183.2 271.7h0M183.2 305.8h0M187.3 273.1h0M186.7 301.3h0M187.9 300.4h0M188.5 301.1h0M188.5 308.7h0M189.1 267.1h0M189.2 266.6h0M189.4 299.7h0M190.5 272.2h0M191.1 300.6h0M191.7 267.2h0M193.2 303.5h0M194.6 303.4h0M195.2 273.3h0M194.9 301.8h0M196.4 268.5h0M197.6 271.6h0M196.6 267.6h0M197.1 300.5h0M196.8 302h0M197.8 273.3h0M199.6 271.3h0M199.9 274.1h0M200.2 304.5h0M200.4 307.2h0M201.6 268.5h0M201.2 267.2h0M201 301.6h0M201.5 308.7h0M202 270.7h0M204.5 270h0M205.4 303.1h0M205.5 307.8h0M206.1 268.2h0M206.8 306.8h0M207.7 306.6h0M209.4 270.6h0M209.4 269.1h0M209.4 267.2h0M209.9 274.3h0M210.7 299.5h0M211.3 299.7h0M210.6 307.9h0M211.7 273.9h0M212.5 270.2h0M212 269.8h0M213.3 272.3h0M213.9 272.6h0M213.9 272.3h0M214.9 271.6h0M215.6 298.7h0M217.6 275.5h0M216.9 271.9h0M217.5 271.8h0M217.4 269.7h0M217.5 302.7h0M216.9 306.5h0M218.6 277h0M218.2 274.9h0M218.5 299.8h0M217.8 300.1h0M217.8 301.9h0M217.7 303.1h0M219.2 275.3h0M218.8 272h0M220.5 275.4h0M220 303.5h0M220 304.4h0M219.9 305.2h0M221.1 298.5h0M220.9 304h0M222.3 302.3h0M223.4 276.1h0M223.2 274.4h0M223 269.8h0M225.3 278h0M225 273.3h0M224.6 308.5h0M225.7 298.7h0M225.7 305.1h0M227.2 277h0M229.4 274.3h0M229.1 299.3h0M229.1 301.3h0M230.1 275.5h0M229.6 300.2h0M231.2 277.8h0M231.3 273.3h0M232.6 276.6h0M231.9 272.7h0M232.5 299.5h0M231.7 301h0M232.9 274h0M233.5 301.8h0M235.6 277h0M234.8 299.6h0M235.3 304h0M236.5 276.2h0M238.3 276.9h0M237.9 299.2h0M239.3 271.8h0M240.5 274.4h0M239.9 305.5h0M241.1 268.6h0M240.8 268.2h0M241.1 298.2h0M241.3 302.1h0M242.3 275.2h0M242.8 299.1h0M244.9 306h0M246.2 277.3h0M246.2 309.1h0M246.8 278.3h0M248.3 277h0M248.8 278.2h0M252.2 302.7h0M253.5 278.1h0M254.4 298.5h0M254.3 300.5h0M254.8 299.7h0M256.2 299.2h0M256 300.1h0M257.9 276.3h0M258.1 299h0M261.4 273.9h0M260.7 297.9h0M261.7 268.5h0M262 302.1h0M263.4 273.5h0M262.6 300.4h0M263.2 301.9h0M262.9 306.8h0M264.7 277h0M266.5 298.6h0M266.7 278h0M266.6 299h0M267.9 277.4h0M268.4 276.9h0M268.4 297.7h0M270.3 272.8h0M270.2 300h0M270.5 302.3h0M269.9 305h0M271.4 302.8h0M271.7 298.8h0M272.5 298.9h0M272.3 301.1h0M273 275h0M273.3 268.4h0"/>
<path stroke="#000" stroke-opacity="0.22" stroke-width="1.4" d="M164.6 288.6H274"/>
<rect x="160" y="265.4" width="115.8" height="46.4" fill="none" stroke="#a0a0a0" stroke-width="1.1"/>
<text x="156.2" y="269.5" class="tk" text-anchor="end">1</text>
<text x="156.2" y="292.5" class="tk" text-anchor="end">0</text>
<text x="156.2" y="316.2" class="tk" text-anchor="end">-1</text>
<text x="194" y="325.6" class="tk" text-anchor="middle">2000</text>
<text x="232.6" y="325.6" class="tk" text-anchor="middle">2010</text>
<text x="271.2" y="325.6" class="tk" text-anchor="middle">2020</text>
<text x="217.9" y="335.4" class="st" text-anchor="middle" xml:space="preserve">mean= −0.016    std=0.247</text>
<path stroke="#777" stroke-width="1.3" d="M290.3 288.3H407.4"/>
<path fill="#ff0000" d="M291 266 292 266 293 266 294 266 295 266.4 296 266.4 297 266.4 298 267.7 299 268.4 300 270.4 301 270.7 302 272.9 303 273 304 274.9 305 273.7 306 276.3 307 276.6 308 276.7 309 276.3 310 278.2 311 277.1 312 277.7 313 276.9 314 277.5 315 278.4 316 277.7 317 278 318 277.3 319 277.7 320 278.1 321 278.5 322 277.3 323 278.2 324 277.4 325 277.7 326 277.8 327 278.5 328 276.6 329 278.3 330 278.5 331 277.1 332 278 333 276.5 334 278.4 335 278.3 336 278.9 337 278.4 338 277.8 339 278.3 340 277.2 341 278.7 342 278.9 343 278.4 344 277.7 345 278.5 346 278.9 347 277 348 279.1 349 279.1 350 278 351 277.1 352 277.8 353 278.7 354 278.2 355 279.3 356 279.2 357 278.9 358 279.3 359 278.8 360 279.4 361 278.1 362 279.4 363 279.4 364 279.3 365 278.2 366 279.1 367 279.5 368 279.1 369 279.2 370 278.6 371 278.3 372 277.9 373 278.5 374 278.4 375 279.2 376 278.6 377 279.6 378 278.2 379 279.2 380 279.3 381 278.5 382 279.7 383 279.9 384 279.1 385 279.3 386 279.9 387 279.7 388 278.8 389 279.7 390 279.4 391 280 392 277.8 393 280 394 279.8 395 279.2 396 280 397 279.1 398 278.8 399 279.5 400 278 401 279.9 402 278.8 403 279.7 404 279.9 405 280.3 406 279.4 406.6 279.5 406.6 293.9 406 294.6 405 294.1 404 294.1 403 293.4 402 294.7 401 294.1 400 293.4 399 293.8 398 294.3 397 295.6 396 294.1 395 295.4 394 293.6 393 294.9 392 295.8 391 294.7 390 295.2 389 294.6 388 294.9 387 294.5 386 294.2 385 294.6 384 293.9 383 294.9 382 294.9 381 293.9 380 294.2 379 295.8 378 295.1 377 293.9 376 295.2 375 296.1 374 294 373 294.9 372 294.5 371 294.8 370 294.1 369 294.7 368 294.6 367 295.1 366 294.6 365 294.7 364 295.5 363 295.6 362 294.4 361 294.8 360 294.7 359 294.8 358 294.2 357 294.6 356 294.7 355 294.3 354 295.5 353 294.6 352 296.1 351 294.4 350 294.7 349 294.4 348 295.4 347 296.4 346 295 345 294.6 344 294.8 343 295.9 342 295.1 341 295.3 340 295.7 339 294.9 338 295.4 337 296.9 336 295.1 335 295.4 334 296.5 333 294.7 332 296.1 331 295.9 330 297.8 329 294.9 328 294.9 327 294.9 326 295.7 325 296.4 324 295.7 323 295.2 322 295.2 321 295.3 320 297.5 319 295.8 318 295.3 317 296.3 316 295.6 315 295.4 314 296.8 313 295.5 312 295.7 311 296.5 310 295.7 309 296.5 308 296.5 307 297.1 306 298 305 299.2 304 299.5 303 300.4 302 302.8 301 302.8 300 304.2 299 306.6 298 306.6 297 307.2 296 308.6 295 307.7 294 308.4 293 310 292 309.7 291 309.7Z"/>
<path fill="none" stroke="#fff" stroke-opacity=".6" stroke-width="1.5" stroke-linecap="round" d="M299.3 269.7h0M301.3 302.7h0M305.9 278.2h0M309.6 277.7h0M312.5 280.8h0M319.3 282.1h0M327.4 280.5h0M332.6 281.1h0M332.4 293.2h0M337.3 281.3h0M342.5 281.9h0M346 280h0M347.2 278.9h0M348.6 294.4h0M351.8 278.2h0M358.7 281.2h0M365 280.7h0M367.4 294.4h0M369.1 281.7h0M369.8 282.5h0M374.8 290.3h0M383.3 280.9h0M386.1 281.6h0M386.5 280.9h0M386.2 281.4h0M390.9 283h0M393.4 281.4h0M396.6 291.2h0M398.9 291.1h0M403 292.3h0"/>
<path fill="none" stroke="#ff0000" stroke-width="2.4" stroke-linecap="round" d="M295.4 266.2h0M296.4 266.1h0M297.8 308.5h0M298.9 306.9h0M298.4 307.5h0M299.9 307.6h0M300.7 270h0M300.8 310.2h0M301.3 305.8h0M301.2 307.3h0M302.8 306.6h0M303 270.5h0M303.3 270.4h0M303.7 300.7h0M303.1 301.6h0M304.3 274.6h0M304.2 272.4h0M305.7 270.2h0M306.3 275.5h0M306.7 276.2h0M306.1 274.1h0M306.9 273.5h0M306 303.5h0M308 302.1h0M308.7 297.1h0M309.9 276.3h0M309.1 296.6h0M309.2 301.1h0M310.7 277.7h0M310.4 270.1h0M310.9 306h0M311.9 299.3h0M312.3 273.9h0M312.8 268.1h0M313 296.8h0M312.8 299.7h0M312.8 300.9h0M313 305.7h0M313.3 268h0M313.9 266.6h0M313.4 296.3h0M313 297.2h0M313.9 307.8h0M314.4 297.1h0M314.2 299h0M314.9 299.4h0M314.5 304.7h0M315.5 277.2h0M315.4 301h0M316 300.5h0M315.2 310.4h0M316.8 277h0M316.6 275.4h0M316.7 269h0M316.1 299.2h0M317.3 274.9h0M317.5 273.1h0M317 270.1h0M317.1 266.8h0M318.7 277.2h0M318.6 297.9h0M320 277.6h0M320.1 277.3h0M320.3 275.5h0M320.8 273.4h0M320.1 297.9h0M320.8 300.9h0M320.7 306.6h0M321.8 278.3h0M321.4 277.5h0M321.8 270h0M321.8 296.4h0M321.4 300.7h0M322.5 272.5h0M322.2 297.2h0M322.2 302.7h0M323.6 274.8h0M323.6 267.8h0M323.4 296h0M323.3 295.9h0M323.1 296.7h0M323.8 307h0M324.1 309.8h0M325.3 275h0M325.9 273.9h0M325.7 272.2h0M325.9 296.8h0M325.3 297.9h0M326 270.4h0M326.3 269.3h0M326.4 296.8h0M326.2 302.2h0M326.8 307.7h0M326.4 309.2h0M327.9 275.9h0M327.2 271.2h0M327.9 270.6h0M328.2 274.8h0M329.6 274.1h0M329.3 297.6h0M329.2 300.1h0M329.4 302.7h0M330.4 267h0M330.9 298h0M330.2 300.8h0M331.7 275.6h0M331.3 274.6h0M331.2 270.5h0M331.5 297.2h0M331.9 298.3h0M331.3 299.6h0M331.7 308.7h0M332.7 277.6h0M332.6 270.4h0M332.4 299.3h0M333 303.8h0M333.5 298h0M333.1 299.8h0M334.5 276.6h0M334.8 275h0M335.3 276.6h0M336.6 277.6h0M336.9 277h0M336.3 296h0M336.5 295.3h0M336.2 296.4h0M336.5 297.8h0M336.8 298h0M336.4 302.9h0M336.5 305.2h0M337.9 278.3h0M337.4 278.2h0M337.7 273.4h0M337.4 269.3h0M337.9 268.7h0M337.8 297.1h0M338.2 277.7h0M338.3 272.7h0M338.4 298.6h0M339.6 297.3h0M340.6 268.8h0M340.5 302.4h0M341.1 278.3h0M341.8 304.3h0M342.6 273.3h0M342.8 272.4h0M342.5 295.2h0M342.2 295.8h0M342.7 296.9h0M343.8 277.6h0M343 275.9h0M343 273.5h0M343.2 269.7h0M343.5 298.5h0M343.9 300.5h0M344.6 274.1h0M344.9 271.6h0M344.3 295.9h0M344.4 298.2h0M345.4 274.3h0M345.9 271.1h0M346 295.3h0M345.3 295.6h0M345.1 301.8h0M345.3 307h0M345.7 310.3h0M346.5 278.6h0M346.1 278.4h0M346.5 278.7h0M346.9 297h0M347.9 273.3h0M347.9 272h0M347.2 297.7h0M348.7 266.5h0M348.1 299.4h0M348.9 310h0M349.8 276.3h0M349.3 301.9h0M350.6 277.9h0M351 296h0M351.4 274.7h0M351.8 270h0M351.7 295.1h0M351.9 303.6h0M352.6 276.3h0M352.4 297.8h0M352.4 304.4h0M353.7 277.3h0M353.9 296.5h0M354.4 277.2h0M354.3 267.5h0M355.7 269.2h0M355.2 267.3h0M355.1 303.9h0M355 308.4h0M356.3 301.9h0M357 310.2h0M357.2 295.9h0M357.9 296.1h0M358.4 276h0M358.9 297.9h0M358.5 305.1h0M358.9 306.2h0M359.4 276.1h0M359.7 275.1h0M359.1 297.4h0M359.9 308.2h0M361 276.8h0M360.9 266.2h0M360.1 309.3h0M361.1 277.5h0M361.9 272.7h0M361.9 295.9h0M362.5 277.6h0M364 297.2h0M363.1 298h0M365.1 277.2h0M365.5 269.6h0M365.6 269.3h0M365.6 297.6h0M365.3 297.3h0M365.3 305.6h0M366.1 306.2h0M367 296.7h0M367.3 297.2h0M367.5 306h0M367.3 310.3h0M368.8 274.1h0M368.6 294.9h0M368.3 295.7h0M369 309.2h0M369.8 275.9h0M369.1 275.1h0M369.8 267.9h0M369.3 296.3h0M369.3 296.6h0M370.5 276.6h0M370.4 272.1h0M370.4 296h0M370.3 297.4h0M372.4 275h0M372.2 301.4h0M373.8 277.3h0M373.7 297.9h0M373.9 304.2h0M374.6 278.4h0M374.7 273.7h0M374.4 271.5h0M374.4 271.9h0M376.2 274.3h0M377 274.2h0M376.4 304.6h0M378.2 269.7h0M379.8 279.1h0M379 272.7h0M380 279.2h0M380.6 277.9h0M380 277.3h0M380.1 275.9h0M380.2 272.7h0M380.5 271.3h0M380.6 294.4h0M381.9 275.5h0M381.2 274.9h0M381.5 266.4h0M381.9 299h0M381.6 303h0M382.3 278.1h0M382.7 276.5h0M383.2 278.8h0M383.8 296.4h0M383.8 302.4h0M384.5 278.4h0M384.2 268.9h0M385 294.5h0M384.5 296.7h0M385 297.9h0M384.8 301.3h0M386 269.7h0M385.7 296.8h0M385.8 300.4h0M385.3 300.9h0M385.9 306.2h0M387 294.2h0M386.5 296h0M387.6 271.3h0M387.9 270.1h0M389 270.3h0M388.7 295.7h0M390.6 278.9h0M390.7 278.3h0M390.3 301h0M390.4 302.4h0M391.8 276.4h0M391.9 276.6h0M391.6 275.9h0M391.3 267.5h0M392.6 296.8h0M392 304.3h0M393.6 278h0M394.6 279.5h0M394.6 274.4h0M394.1 267.4h0M394.8 297.3h0M394.2 307.1h0M395.4 276.1h0M396 269.4h0M395.8 266.5h0M396.6 296h0M396.4 303.6h0M397.4 277.2h0M397.5 276h0M397.9 274.6h0M397 298.8h0M397.4 301h0M397.7 305.6h0M397.6 310.2h0M398 309.3h0M399.7 277.7h0M399.7 277.4h0M399.9 275.3h0M399.2 302.4h0M400.8 277.1h0M400.2 270.2h0M400.1 294.2h0M401.2 279.4h0M401.3 276h0M401.8 270.9h0M401.4 268.1h0M401.5 301.6h0M401.4 302.2h0M402.3 278.7h0M402.3 274.4h0M402.6 295.1h0M402.8 297h0M402.7 301.2h0M402.4 301.6h0M402.3 309.8h0M404.2 277.2h0M404.5 275.3h0M404.4 273.6h0M404.4 299h0M404.1 298.2h0M405.6 279.5h0M405.6 269.3h0M405.5 295.5h0M405.9 299.9h0M405.5 302.6h0M406.2 278.6h0M406.9 274.7h0M406.2 302.3h0M406.9 303.4h0M406.9 304.1h0"/>
<path stroke="#000" stroke-opacity="0.22" stroke-width="1.4" d="M290 288.3H407.6"/>
<rect x="290.3" y="265" width="117.1" height="46.5" fill="none" stroke="#a0a0a0" stroke-width="1.1"/>
<text x="286.5" y="269.1" class="tk" text-anchor="end">1</text>
<text x="286.5" y="292.2" class="tk" text-anchor="end">0</text>
<text x="286.5" y="315.9" class="tk" text-anchor="end">-1</text>
<text x="324.3" y="325.3" class="tk" text-anchor="middle">2000</text>
<text x="362.9" y="325.3" class="tk" text-anchor="middle">2010</text>
<text x="401.5" y="325.3" class="tk" text-anchor="middle">2020</text>
<text x="348.9" y="334.9" class="st" text-anchor="middle" xml:space="preserve">mean=0.034    std=0.524</text>
<path stroke="#777" stroke-width="1.3" d="M422.7 287.7H539"/>
<path fill="#ff0000" d="M428.6 265.3 429.6 265.3 430.6 265.3 431.6 265.3 432.6 265.3 433.6 265.3 434.6 265.3 435.6 265.3 436.6 265.3 437.6 265.3 438.6 265.3 439.6 265.3 440.6 265.3 441.6 265.3 442.6 265.3 443.6 265.3 444.6 265.3 445.6 265.3 446.6 265.3 447.6 265.3 448.6 265.3 449.6 265.3 450.6 265.3 451.6 265.3 452.6 265.3 453.6 265.3 454.6 265.3 455.6 265.3 456.6 265.3 457.6 265.3 458.6 265.3 459.6 265.3 460.6 265.3 461.6 265.3 462.6 265.5 463.6 266.3 464.6 267 465.6 267.9 466.6 269.1 467.6 270.4 468.6 271.2 469.6 271.9 470.6 271.9 471.6 272.7 472.6 273.5 473.6 271.8 474.6 273.1 475.6 273.6 476.6 274.4 477.6 272.7 478.6 274.6 479.6 274.2 480.6 274.8 481.6 274.5 482.6 274 483.6 275.8 484.6 274.2 485.6 276 486.6 275.8 487.6 276.1 488.6 274.8 489.6 276.4 490.6 275.4 491.6 276.1 492.6 274.4 493.6 274.7 494.6 275.3 495.6 276.5 496.6 275.3 497.6 276.5 498.6 276.7 499.6 277.1 500.6 276.7 501.6 277.1 502.6 277.2 503.6 276.6 504.6 275.9 505.6 277.2 506.6 276.2 507.6 276.9 508.6 277 509.6 277 510.6 277.6 511.6 277.6 512.6 277.4 513.6 276 514.6 277.4 515.6 275.8 516.6 276.6 517.6 278 518.6 277.6 519.6 276.7 520.6 277.9 521.6 277.8 522.6 277.4 523.6 278 524.6 277.6 525.6 277.7 526.6 278.3 527.6 277.9 528.6 277.2 529.6 278.6 530.6 278.6 531.6 278 532.6 277.9 533.6 277.1 534.6 278.8 535.6 278.1 536.6 278.4 537 278.5 537 295.9 536.6 296.7 535.6 296.4 534.6 295.9 533.6 295.4 532.6 295.7 531.6 295.5 530.6 296.4 529.6 295.6 528.6 295.6 527.6 297.2 526.6 296.2 525.6 296.2 524.6 296.2 523.6 296.9 522.6 296.2 521.6 296.5 520.6 296 519.6 296.5 518.6 296.1 517.6 296.3 516.6 296.7 515.6 296.6 514.6 295.8 513.6 296.3 512.6 295.6 511.6 296.1 510.6 295.8 509.6 296.9 508.6 296.8 507.6 297 506.6 296.3 505.6 296.1 504.6 295.7 503.6 296.3 502.6 295.8 501.6 296.2 500.6 296.8 499.6 295.9 498.6 297.4 497.6 297.1 496.6 296.6 495.6 297.3 494.6 297.1 493.6 297.8 492.6 296.9 491.6 297.8 490.6 297.9 489.6 298.1 488.6 299.4 487.6 298.7 486.6 298 485.6 299.6 484.6 298.6 483.6 299.1 482.6 299.6 481.6 300.4 480.6 299.3 479.6 299.6 478.6 300 477.6 301 476.6 301.8 475.6 301.5 474.6 302.8 473.6 302.8 472.6 303.6 471.6 306.3 470.6 305.9 469.6 305.4 468.6 307.1 467.6 306.3 466.6 308.2 465.6 308.6 464.6 309.4 463.6 309.1 462.6 309.5 461.6 309.9 460.6 310 459.6 310 458.6 309.7 457.6 310 456.6 309.9 455.6 310 454.6 310 453.6 310 452.6 310 451.6 310 450.6 310 449.6 310 448.6 310 447.6 310 446.6 309.8 445.6 310 444.6 310 443.6 310 442.6 310 441.6 309.9 440.6 310 439.6 309.8 438.6 309.9 437.6 310 436.6 310 435.6 310 434.6 310 433.6 309.8 432.6 310 431.6 309.8 430.6 309.9 429.6 310 428.6 310Z"/>
<path fill="none" stroke="#fff" stroke-opacity=".6" stroke-width="1.5" stroke-linecap="round" d="M429.3 309.2h0M429.8 309.3h0M431.4 268.5h0M433 270.2h0M433.7 308.1h0M435 266.9h0M435.7 270h0M436.3 308.5h0M437.1 307.4h0M437.4 307.9h0M439.4 273h0M439.5 282.6h0M438.8 308.3h0M440 267h0M440.1 300.4h0M440.1 308.3h0M440.5 308.8h0M442 268.2h0M442.5 289.1h0M441.6 304.6h0M443.6 281.9h0M443.7 268.1h0M444.1 300h0M446.1 267.2h0M446.4 284.1h0M446.1 294.1h0M445.8 305.5h0M446.7 268.2h0M447.6 268.6h0M448.1 269.9h0M448.6 266.6h0M448.8 302.2h0M450.3 272.1h0M450 306.5h0M451.4 267.5h0M454.8 307.3h0M458 305h0M461.6 270.2h0M463.3 267.4h0M463.1 266.6h0M463.2 301.7h0M463.6 302.8h0M463.7 291.8h0M464.7 285.8h0M464.7 308.1h0M467.6 305.9h0M469.5 304.4h0M472.6 274.7h0M475.4 301.1h0M481.7 276.1h0M488.5 288.6h0M490.1 295.5h0M492.1 278h0M496 284.5h0M500.4 283.1h0M508.6 281h0M515.6 277.3h0M517.3 280.6h0M517.7 279.2h0M519.4 278.8h0M520.4 295.6h0M526.3 295.6h0M526.7 279.9h0M528 284.2h0M531.7 292.5h0"/>
<path fill="none" stroke="#ff0000" stroke-width="1.6" stroke-linecap="round" d="M466 307.6V310M467.1 270.1V266.4M468.7 306.1V309.9M476.4 274.6V271M478.1 273.7V271.6M478.4 300V301.6M480.8 275.8V270.6M481.9 299.4V302.8M496.2 296.3V298.5M499.6 296.4V298.7M504.5 277.6V276M503.8 295.3V297.8M505.3 276.9V274.9M505.5 294.7V296.3M507 277.2V275.2M507.6 277.9V275.5M509.3 295.8V300.8M511 294.8V299.2M513 294.6V296.4M516.2 276.8V267.4M519.9 295.5V298.6M524.4 295.9V301.3M525.4 295.2V298M528.9 294.6V300M533.5 294.7V297M534.4 278.1V275.7M536.6 295.4V298"/>
<path fill="none" stroke="#ff0000" stroke-width="2.5" stroke-linecap="round" d="M431.8 309.8h0M432 309.8h0M440.3 309.9h0M469.7 306.3h0M473.5 304.6h0M477.4 270.8h0M479.8 309.7h0M480.9 270.8h0M481.4 300h0M481.9 304.4h0M482.8 272.4h0M484.7 272.8h0M488.2 274.6h0M488.3 269.5h0M488.1 298.9h0M487.9 301.7h0M488.8 272.2h0M491.5 298.7h0M494.5 273.5h0M494.1 301h0M496.6 299.4h0M497.7 273.9h0M500.1 276.2h0M499.8 296.6h0M500.2 304.1h0M502.8 272.3h0M504.3 266.4h0M505.9 273h0M506.6 275.8h0M506.9 274.1h0M508.5 275.6h0M508.3 275.5h0M508 297.1h0M509.2 276.3h0M510.2 275.2h0M512.3 274.7h0M512.4 296.5h0M514.6 276.2h0M514.7 274.1h0M516.6 274.9h0M521.5 277.9h0M524.3 274.3h0M524.9 298.4h0M524.7 298.9h0M527 298.1h0M526.8 299.6h0M528.6 298.6h0M529.1 277.2h0M531.5 271.1h0M532.2 297.6h0M533.3 276.5h0M534.8 277h0M535 277.7h0M535.9 276.5h0M536.6 301.2h0"/>
<path stroke="#000" stroke-opacity="0.22" stroke-width="1.4" d="M427.6 287.7H538"/>
<rect x="422.7" y="264.3" width="116.3" height="46.7" fill="none" stroke="#a0a0a0" stroke-width="1.1"/>
<text x="418.9" y="268.4" class="tk" text-anchor="end">1</text>
<text x="418.9" y="291.6" class="tk" text-anchor="end">0</text>
<text x="418.9" y="315.4" class="tk" text-anchor="end">-1</text>
<text x="456.7" y="324.8" class="tk" text-anchor="middle">2000</text>
<text x="495.3" y="324.8" class="tk" text-anchor="middle">2010</text>
<text x="533.9" y="324.8" class="tk" text-anchor="middle">2020</text>
<text x="480.9" y="334.5" class="st" text-anchor="middle" xml:space="preserve">mean=0.055    std=0.395</text>
<path stroke="#777" stroke-width="1.3" d="M31.9 387.6H147.4"/>
<path fill="#0000ff" d="M41.3 379 42.3 376.8 43.3 376.9 44.3 377.2 45.3 378.8 46.3 383.6 47.3 385.1 48.3 385.3 49.3 385 50.3 385.4 51.3 385.1 52.3 385.4 53.3 385.3 54.3 385.2 55.3 385.5 56.3 385.1 57.3 385 58.3 385.1 59.3 385.4 60.3 385.5 61.3 385.3 62.3 385.3 63.3 385.5 64.3 385.5 65.3 385.4 66.3 385.5 67.3 385.5 68.3 385.6 69.3 385.1 70.3 385.5 71.3 385.3 72.3 385.3 73.3 385.4 74.3 385.4 75.3 385.4 76.3 385.4 77.3 385.4 78.3 385.6 79.3 385.7 80.3 385.5 81.3 385.4 82.3 385.3 83.3 385.4 84.3 385.6 85.3 385.6 86.3 385.5 87.3 385.7 88.3 385 89.3 385.3 90.3 385.6 91.3 385.4 92.3 385.5 93.3 385.7 94.3 385.7 95.3 385.3 96.3 385.7 97.3 385.3 98.3 385.3 99.3 385.6 100.3 385.4 101.3 385.7 102.3 385.4 103.3 385.6 104.3 385.7 105.3 385.7 106.3 385.7 107.3 385.8 108.3 385.6 109.3 385.4 110.3 385.1 111.3 385.5 112.3 385.3 113.3 385.5 114.3 385.8 115.3 385.5 116.3 385.4 117.3 385.4 118.3 385.8 119.3 385.5 120.3 385.5 121.3 385.5 122.3 385.6 123.3 385.5 124.3 385.7 124.3 389.4 123.3 389.3 122.3 389.6 121.3 389.5 120.3 389.3 119.3 389.3 118.3 389.3 117.3 389.3 116.3 389.1 115.3 389.3 114.3 389.6 113.3 389.6 112.3 389.3 111.3 389.3 110.3 389.2 109.3 389.4 108.3 389.2 107.3 389.4 106.3 389.2 105.3 389.3 104.3 389.2 103.3 389.5 102.3 389.5 101.3 389.5 100.3 389.4 99.3 389.4 98.3 389.5 97.3 389.2 96.3 389.7 95.3 389.3 94.3 389.6 93.3 389.6 92.3 389.3 91.3 389.4 90.3 389.7 89.3 389.3 88.3 389.4 87.3 389.4 86.3 389.5 85.3 389.3 84.3 389.4 83.3 389.3 82.3 389.4 81.3 389.4 80.3 390.1 79.3 389.7 78.3 389.4 77.3 389.5 76.3 389.5 75.3 389.3 74.3 389.8 73.3 389.9 72.3 389.4 71.3 389.5 70.3 390.3 69.3 389.4 68.3 389.8 67.3 389.4 66.3 389.6 65.3 389.5 64.3 389.4 63.3 389.4 62.3 389.4 61.3 389.4 60.3 389.5 59.3 389.8 58.3 389.4 57.3 389.5 56.3 389.6 55.3 389.8 54.3 389.6 53.3 389.8 52.3 389.8 51.3 389.5 50.3 389.4 49.3 389.5 48.3 389.4 47.3 389.6 46.3 389.9 45.3 390.8 44.3 391.5 43.3 392 42.3 392.1 41.3 391.6Z"/>
<path stroke="#000" stroke-opacity="0.1" stroke-width="1.4" d="M40.3 387.6H125.3"/>
<rect x="31.9" y="364.7" width="115.5" height="45.5" fill="none" stroke="#a0a0a0" stroke-width="1.1"/>
<text x="28.1" y="368.8" class="tk" text-anchor="end">1</text>
<text x="28.1" y="391.5" class="tk" text-anchor="end">0</text>
<text x="28.1" y="414.6" class="tk" text-anchor="end">-1</text>
<text x="65.9" y="424" class="tk" text-anchor="middle">2000</text>
<text x="104.5" y="424" class="tk" text-anchor="middle">2010</text>
<text x="143.1" y="424" class="tk" text-anchor="middle">2020</text>
<text x="89.7" y="432.9" class="st" text-anchor="middle" xml:space="preserve">mean= − 0.004    std=0.032</text>
<text x="89.7" y="360.9" class="ti" text-anchor="middle">GNSS 2014</text>
<text transform="translate(15.7 388) rotate(-90)" class="yl" text-anchor="middle">XPO (mas)</text>
<path stroke="#777" stroke-width="1.3" d="M163.6 387.7H279.4"/>
<path fill="#0000ff" d="M169.3 372.4 170.3 372.8 171.3 372.5 172.3 373.1 173.3 373 174.3 373.8 175.3 374.2 176.3 374.6 177.3 374.5 178.3 375.1 179.3 375.4 180.3 374.6 181.3 374.2 182.3 374.7 183.3 375 184.3 375.2 185.3 375.3 186.3 375.4 187.3 375.4 188.3 375.4 189.3 375.8 190.3 375.4 191.3 375.5 192.3 375.6 193.3 375.2 194.3 375.7 195.3 375.1 196.3 376 197.3 374.9 198.3 375.2 199.3 374.2 200.3 375.9 201.3 375.6 202.3 376.2 203.3 375 204.3 375.2 205.3 375.5 206.3 375.7 207.3 376.1 208.3 375.9 209.3 376.3 210.3 375.2 211.3 375.9 212.3 375.5 213.3 376.3 214.3 375.5 215.3 376.2 216.3 376.5 217.3 375.3 218.3 376.5 219.3 375.4 220.3 376.2 221.3 376 222.3 376.5 223.3 376.4 224.3 376.5 225.3 376.5 226.3 376.2 227.3 376.4 228.3 375.7 229.3 375.5 230.3 376.6 231.3 376.3 232.3 376.5 233.3 374.9 234.3 375.7 235.3 376.1 236.3 375.7 237.3 376.9 238.3 376.7 239.3 377 240.3 376.8 241.3 376.6 242.3 376.2 243.3 376.8 244.3 377 245.3 376.8 246.3 375.4 247.3 376.8 248.3 376.2 249.3 376.7 250.3 377.2 251.3 377.3 252.3 376.4 253.3 376.9 254.3 376.7 255.3 376.7 256 376.4 256 396.8 255.3 396.6 254.3 396.4 253.3 396.5 252.3 397.1 251.3 396.4 250.3 397.7 249.3 396.6 248.3 396.5 247.3 396.4 246.3 396.3 245.3 397.2 244.3 397.3 243.3 397.7 242.3 396.7 241.3 397.8 240.3 396.7 239.3 396.8 238.3 397.1 237.3 397.4 236.3 396.9 235.3 397.1 234.3 397 233.3 397.1 232.3 396.7 231.3 397.3 230.3 397.1 229.3 397.3 228.3 397 227.3 397.7 226.3 396.8 225.3 397.1 224.3 397.8 223.3 396.8 222.3 397.1 221.3 398.1 220.3 397.6 219.3 397.7 218.3 398 217.3 397.4 216.3 398.2 215.3 397.2 214.3 399.1 213.3 397.2 212.3 397.1 211.3 397.5 210.3 396.8 209.3 397.9 208.3 396.9 207.3 396.9 206.3 397.3 205.3 397.9 204.3 397.4 203.3 397.1 202.3 398.6 201.3 398.4 200.3 397.5 199.3 397.5 198.3 398.1 197.3 398.6 196.3 398.4 195.3 397.4 194.3 398 193.3 397.8 192.3 397.4 191.3 397.2 190.3 397.9 189.3 397.1 188.3 397.8 187.3 398.5 186.3 397.4 185.3 397.2 184.3 397.9 183.3 397.8 182.3 397.7 181.3 398.4 180.3 398.5 179.3 398.2 178.3 398.2 177.3 398 176.3 398.1 175.3 398.5 174.3 399.2 173.3 398.8 172.3 399.2 171.3 399.5 170.3 400.4 169.3 399.7Z"/>
<path fill="none" stroke="#fff" stroke-opacity=".6" stroke-width="1.5" stroke-linecap="round" d="M171.9 399.1h0M173.6 383.6h0M173.4 397.6h0M181.2 377.7h0M180.6 393.4h0M182.7 378.8h0M184.2 395.2h0M187.3 377h0M194.5 377h0M199.1 376.8h0M205.8 376.8h0M216.5 378.6h0M221.2 397.2h0M222.5 378.1h0M230 376.9h0M230.3 379.1h0M232.1 378.1h0M237.1 394.3h0M245.1 378.1h0M244.9 379.1h0M252.8 378.4h0"/>
<path fill="none" stroke="#0000ff" stroke-width="2.1" stroke-linecap="round" d="M180.3 397.2V400.5M182.3 375.2V373.3M183.3 375.7V366M183.9 396.8V405.3M185.6 396.2V399.4M190.3 396.1V399.1M191.6 376.5V372.7M192.9 396.4V398.8M201.5 397.4V404M204.1 396.1V403.7M205 376.2V366M208.1 377.1V366M211.2 376.2V366M210.7 395.8V406.9M216.7 377.5V373.6M220.1 376.4V371M221.2 396.6V400.5M222.7 396.1V409.5M227.8 377.4V373.2M230.8 377.6V367.4M233.8 396.1V401M241 395.7V397.9M241.5 396.8V400.8M244.1 396.7V399.1M244.3 396.3V409.5M245.4 396.2V398.2M247.6 395.4V401.3M249.1 377.2V375.2M250.2 377.7V374.1M251 378.2V376.1M254.8 377.7V368.4M255.2 395.4V397.8"/>
<path fill="none" stroke="#0000ff" stroke-width="2.5" stroke-linecap="round" d="M170.3 399.8h0M170.5 371.8h0M171.3 367.3h0M170.9 400.5h0M171.3 404.1h0M172.9 372.7h0M175 401.1h0M175 400.9h0M175.8 402.1h0M176.6 401.9h0M177.4 405h0M180.1 372.7h0M180.2 406h0M180.6 372.7h0M181.5 402.9h0M182.6 369.8h0M183 367.7h0M183.1 399.8h0M182.5 406.4h0M184.3 374.2h0M183.3 398.9h0M183.3 399.7h0M183.4 402.4h0M185.9 373.3h0M186.2 368.9h0M185.9 400.3h0M186.5 374.3h0M187.5 372.3h0M189 372.6h0M188.5 398.1h0M188.8 399.2h0M188.7 403.2h0M189.4 374.1h0M191.1 370.7h0M191.9 373.7h0M192.6 373.1h0M193 373.3h0M195.1 375.1h0M195.3 375.1h0M195.2 403.7h0M194.8 405.5h0M197.4 409.2h0M199.6 401.5h0M199.3 405.7h0M201.6 398.8h0M201.6 404.3h0M202.7 375.4h0M204.2 374.2h0M204.2 374.9h0M203.3 397.8h0M204 398.9h0M205.5 401.4h0M205.5 402h0M207.1 375.3h0M206.3 374h0M208 374.6h0M208 397.8h0M208.6 373.3h0M209 367.7h0M208.9 397.7h0M209.4 375.4h0M210.2 373.6h0M209.4 398.7h0M209.8 398.9h0M210.5 374h0M210.6 371.5h0M210.5 369.8h0M211.2 397.1h0M211.9 368.1h0M212 408.8h0M212.8 375.2h0M212.7 374.4h0M212.7 372.1h0M214.5 399.2h0M215.6 375.3h0M216.3 375h0M215.9 369.7h0M216.3 403.5h0M216.4 367.4h0M216.4 404.3h0M218.1 367.4h0M218.3 402.3h0M220.1 398.5h0M219.8 399h0M220.2 403.6h0M221 403.6h0M220.8 406.2h0M221.6 402.2h0M223.9 405.2h0M226.4 375.2h0M226.7 373.5h0M226.9 401.6h0M226.6 403.8h0M228.6 397.4h0M228.9 398.5h0M229.7 375.2h0M229.6 398.2h0M230.6 375.8h0M230.5 375.4h0M230.8 408h0M231.9 397.7h0M231.6 398.8h0M233.1 398.7h0M235.1 399.1h0M235.8 366.3h0M236.3 401.8h0M237.8 398.9h0M239.4 370.3h0M241.3 373.7h0M241.6 398.4h0M244.1 398.6h0M244.8 372.1h0M245.1 399.1h0M244.5 404h0M246.3 401.4h0M247.8 376.8h0M248 372.4h0M249.9 371.6h0M249.7 397.8h0M250.3 404.5h0M250.6 376.7h0M251.2 376.2h0M250.7 398.5h0M250.4 404.2h0M251.8 376.6h0M251.5 374.1h0M251.7 396.5h0M251.8 404.6h0M252 408h0M253 373.9h0M253.1 399.7h0M254.2 376h0M253.9 375.5h0M253.6 397h0M253.4 403h0M256.3 373.1h0M255.6 396.7h0"/>
<path stroke="#000" stroke-opacity="0.22" stroke-width="1.4" d="M168.3 387.7H257"/>
<rect x="163.6" y="365" width="115.8" height="45.5" fill="none" stroke="#a0a0a0" stroke-width="1.1"/>
<text x="159.8" y="369.1" class="tk" text-anchor="end">1</text>
<text x="159.8" y="391.6" class="tk" text-anchor="end">0</text>
<text x="159.8" y="414.9" class="tk" text-anchor="end">-1</text>
<text x="197.6" y="424.3" class="tk" text-anchor="middle">2000</text>
<text x="236.2" y="424.3" class="tk" text-anchor="middle">2010</text>
<text x="274.8" y="424.3" class="tk" text-anchor="middle">2020</text>
<text x="221.5" y="432.7" class="st" text-anchor="middle" xml:space="preserve">mean= − 0.013    std=0.278</text>
<text x="221.5" y="361.2" class="ti" text-anchor="middle">SLR 2014</text>
<path stroke="#777" stroke-width="1.3" d="M293.3 387.7H409.6"/>
<path fill="#0000ff" d="M293.5 372.1 294.5 373.5 295.5 375.1 296.5 377.4 297.5 378.6 298.5 378.4 299.5 380.7 300.5 380.7 301.5 380 302.5 380.6 303.5 379.3 304.5 380.1 305.5 380.4 306.5 380.6 307.5 380.2 308.5 380 309.5 380.4 310.5 378.9 311.5 380.6 312.5 380 313.5 380.5 314.5 379.8 315.5 379.6 316.5 380 317.5 380.6 318.5 379.3 319.5 380.3 320.5 379.8 321.5 379.5 322.5 380.1 323.5 380.4 324.5 380.6 325.5 380.4 326.5 379.7 327.5 380.6 328.5 380.6 329.5 379.9 330.5 379.9 331.5 380.4 332.5 380.2 333.5 379.7 334.5 380.3 335.5 379 336.5 380.7 337.5 380.5 338.5 380.1 339.5 380.4 340.5 378.8 341.5 379.4 342.5 380.2 343.5 379.9 344.5 380.5 345.5 379.7 346.5 379.7 347.5 379.6 348.5 379.2 349.5 379.8 350.5 380.3 351.5 380 352.5 380.5 353.5 380 354.5 380.5 355.5 379.7 356.5 378.9 357.5 379.5 358.5 378.9 359.5 379.9 360.5 379.5 361.5 380.4 362.5 380.4 363.5 379 364.5 379.7 365.5 380.1 366.5 379.5 367.5 380 368.5 379.9 369.5 380.3 370.5 380.2 371.5 380.5 372.5 379.9 373.5 380.5 374.5 380 375.5 380 376.5 379.7 377.5 379.5 378.5 379.5 379.5 379.6 380.5 380.2 381.5 380.1 382.5 380 383.5 380 384.5 379.5 385.5 379.6 386 380.3 386 395.7 385.5 397.1 384.5 396.5 383.5 396.4 382.5 396.8 381.5 396.4 380.5 395.7 379.5 396.8 378.5 395.9 377.5 396.4 376.5 396 375.5 397.2 374.5 396.5 373.5 396.4 372.5 397.1 371.5 395.9 370.5 396.2 369.5 396.8 368.5 396.6 367.5 396.2 366.5 397 365.5 396 364.5 395.8 363.5 395.7 362.5 397.2 361.5 396.1 360.5 395.9 359.5 396.9 358.5 396.3 357.5 395.8 356.5 396.3 355.5 396.6 354.5 396 353.5 396.2 352.5 395.8 351.5 396 350.5 397.5 349.5 396.8 348.5 395.9 347.5 396.2 346.5 397.1 345.5 395.9 344.5 396 343.5 397.7 342.5 396 341.5 396.4 340.5 397.4 339.5 396.4 338.5 396.2 337.5 396.9 336.5 397 335.5 396.9 334.5 396.6 333.5 397.9 332.5 395.9 331.5 397.6 330.5 396.5 329.5 397.7 328.5 396.6 327.5 396.8 326.5 396.7 325.5 396 324.5 396.7 323.5 396.5 322.5 395.9 321.5 395.9 320.5 396.8 319.5 396.9 318.5 397.5 317.5 396.7 316.5 396.2 315.5 396.1 314.5 397.3 313.5 395.9 312.5 395.9 311.5 396.6 310.5 396.3 309.5 397.4 308.5 396 307.5 396.6 306.5 396.1 305.5 395.7 304.5 397 303.5 395.8 302.5 396.2 301.5 396.5 300.5 396.3 299.5 396.5 298.5 399.2 297.5 397.5 296.5 400 295.5 400 294.5 401 293.5 403.1Z"/>
<path fill="none" stroke="#fff" stroke-opacity=".6" stroke-width="1.5" stroke-linecap="round" d="M305.8 395h0M309.5 382h0M310.7 380.9h0M311.5 395.2h0M338.6 394.4h0M341.5 381.5h0M340.5 394.2h0M342.7 382.5h0M359.4 395.6h0M367.2 380.9h0M367.1 382.3h0M369 381.7h0M377.4 393.1h0M383 381.9h0M383.9 382.2h0M385.3 381.5h0"/>
<path fill="none" stroke="#0000ff" stroke-width="2.4" stroke-linecap="round" d="M293.9 405.4h0M294.8 371.3h0M294.9 371h0M294.6 402.9h0M294.6 402.4h0M295.4 402.1h0M294.8 405.6h0M295.6 373.6h0M295.9 372.3h0M295.9 407.5h0M297 371.5h0M296.8 366h0M297.5 403.6h0M296.6 407.6h0M298.5 368.8h0M297.7 402.2h0M298.5 404.2h0M299.3 376.7h0M298.6 375.7h0M298.6 372.5h0M298.8 372h0M299.3 371.9h0M299.3 368.4h0M298.8 404.7h0M299.5 406.4h0M299.7 396.6h0M299.6 399.1h0M300.1 399.8h0M300.6 379.4h0M301.4 378.2h0M301.2 397.2h0M301.5 396.7h0M300.7 402.2h0M300.6 405.9h0M302.2 398h0M303.4 378.3h0M303.5 370h0M302.9 396.8h0M304.5 379.2h0M304.4 372h0M304.8 375.3h0M304.8 375.3h0M306 379.6h0M305.9 376.4h0M306 375.9h0M306.4 395.7h0M305.7 408.1h0M306.5 379.6h0M307.2 374.7h0M307.9 379h0M308.8 376.6h0M308.8 371.3h0M309.3 366.9h0M309.5 402.4h0M309.1 406.8h0M309.9 376.2h0M310.2 370.7h0M310.1 397.5h0M311.4 378.2h0M310.8 377.1h0M311.2 375.6h0M310.9 374.3h0M311.2 371.4h0M311.2 397h0M311.2 397.5h0M312 379.4h0M311.6 379.5h0M311.9 375.3h0M311.5 401.3h0M312.1 402.7h0M313.2 379.8h0M312.6 378h0M312.7 396.6h0M312.7 397.1h0M313.1 400.7h0M314 399.3h0M314.2 403.3h0M314 402.9h0M315.2 379.7h0M315.5 378.3h0M315.3 378.2h0M314.6 372.3h0M315.6 375.7h0M316.4 403.9h0M316.5 404.9h0M317.2 376.4h0M316.8 407.1h0M317.9 377.3h0M317.7 374.1h0M317.6 402.2h0M318.5 403.1h0M318.8 401.4h0M319 400.6h0M319.6 376.5h0M320.2 375.3h0M320 368.7h0M320.1 397.5h0M320.3 400.3h0M321.1 378.6h0M321.4 377.1h0M320.8 370.4h0M321.1 367.8h0M320.8 400.4h0M321.6 366h0M321.8 398.3h0M321.8 399.6h0M321.8 403.9h0M321.9 404.1h0M323 401.1h0M323.6 397.9h0M324.5 398.3h0M325.2 396.9h0M327.2 379.7h0M326.9 375.6h0M327 366.1h0M326.7 401.3h0M327.4 403.9h0M327.9 379.1h0M327.8 404.8h0M328.7 378.4h0M328.7 376.9h0M330.4 379h0M329.8 401.8h0M330.8 377.2h0M330.6 369.8h0M330.8 367.2h0M330.9 398.4h0M331.6 380.4h0M332.4 378.2h0M332.5 377.6h0M332.3 378.1h0M332.4 398.1h0M332.1 398.9h0M333.2 380h0M332.5 373.2h0M333.1 396h0M332.7 404.8h0M335 376.8h0M335 376.1h0M335.3 374.9h0M336.3 375.3h0M335.9 374.7h0M336.4 398h0M337.2 377.7h0M337 371.5h0M337.7 380h0M338.2 375.6h0M337.7 397.7h0M338.4 398.9h0M338.5 377.3h0M339.1 376.5h0M339.3 397.2h0M338.9 396.7h0M339 397.3h0M339 408.9h0M339.8 378.2h0M340.1 377.2h0M339.8 372.6h0M340.3 399.9h0M339.8 401.9h0M341.3 378.2h0M341.1 378.6h0M340.7 377.6h0M340.7 373.9h0M341.3 398.6h0M342.5 370.1h0M341.6 400.5h0M342.1 408.2h0M341.7 408.7h0M343 372.1h0M342.6 397.7h0M343 401.6h0M344.2 379.7h0M343.5 377.5h0M344.9 377.3h0M345.2 396.8h0M344.9 397.8h0M344.6 406h0M346.1 379h0M345.9 403.2h0M347.5 379.5h0M347 397.5h0M347 397.8h0M348.2 379.3h0M347.9 378.8h0M347.9 375.5h0M347.8 396.8h0M348 402.7h0M348.4 406.2h0M348.2 407.3h0M348.7 377.8h0M348.9 396.1h0M348.9 400h0M349 402.5h0M350.3 373.5h0M349.8 397.6h0M350.1 399.5h0M350.9 402.3h0M352 379.6h0M351.9 373h0M353.1 369.2h0M353.3 397.2h0M353.3 399.4h0M353.2 400.1h0M352.6 401.4h0M353.3 404.4h0M353.1 408.9h0M354 373.4h0M354.3 399.2h0M355.3 379.2h0M355.2 396.7h0M355.4 397.5h0M355.7 372.8h0M356.5 397.2h0M356.3 398h0M356.8 375.7h0M357.1 372.8h0M358.1 376.3h0M358.1 372.6h0M358.1 371.3h0M358.1 396.9h0M357.9 398.4h0M358.1 401h0M358.7 396.5h0M359.8 372.1h0M359.9 397.1h0M360.1 398.4h0M360.6 378.8h0M361.1 376.5h0M361.2 374.8h0M361.1 373.7h0M361.4 366.1h0M360.8 396.6h0M360.9 402.6h0M361.6 401.6h0M362.8 380h0M363.5 379.6h0M362.8 377.7h0M363.6 378.4h0M364.1 396.7h0M365.1 379.6h0M366.3 379.1h0M365.9 379.7h0M366 371.3h0M366.1 396.1h0M365.5 398h0M365.8 406.6h0M367.2 378.6h0M367.3 378.1h0M367.1 398.9h0M367 400.4h0M367.2 403.7h0M367 408.9h0M367.9 378.6h0M369.2 379.7h0M368.8 378.4h0M369.4 376.9h0M369.8 379.2h0M370.3 401.7h0M370.6 379h0M371 396.7h0M371.5 402h0M372 378.5h0M372.1 396.1h0M372.7 398.2h0M372.8 399.5h0M373.5 380.3h0M373.7 369.6h0M373.9 397.2h0M374.3 400.9h0M374.1 402.9h0M373.6 404.2h0M375.5 375h0M375.2 374.8h0M375.6 377.6h0M376.4 377.6h0M375.7 409h0M377.5 379.6h0M376.8 374.8h0M376.9 372h0M377.1 396.1h0M376.7 398.6h0M377.3 408.5h0M377.8 376.1h0M377.6 375.6h0M377.6 375.1h0M378.3 409.3h0M379.4 379.4h0M378.8 378.7h0M378.7 374.7h0M379.5 369.1h0M378.5 397.9h0M379.3 397.6h0M379 399.7h0M379.2 403.1h0M380.5 373h0M380.5 372.2h0M380.3 408.1h0M380.6 378h0M381.2 376.1h0M380.5 374.4h0M381.4 396h0M381.1 401.9h0M381.6 380h0M382.1 378.9h0M382.2 371.6h0M382.2 401.9h0M381.6 402.7h0M382.6 378.8h0M383.2 368.3h0M382.6 399h0M383 401.9h0M383.2 407h0M383.8 379.3h0M383.6 372.5h0M383.7 371.4h0M384.4 396.8h0M385.3 378.8h0M385.1 378.8h0M384.8 377.5h0M384.7 373.6h0M385.5 399.6h0M385.1 406.7h0M385.8 376.3h0M385.5 406.9h0"/>
<path stroke="#000" stroke-opacity="0.22" stroke-width="1.4" d="M292.5 387.7H387"/>
<rect x="293.3" y="365" width="116.3" height="45.5" fill="none" stroke="#a0a0a0" stroke-width="1.1"/>
<text x="289.5" y="369.1" class="tk" text-anchor="end">1</text>
<text x="289.5" y="391.6" class="tk" text-anchor="end">0</text>
<text x="289.5" y="414.9" class="tk" text-anchor="end">-1</text>
<text x="327.3" y="424.3" class="tk" text-anchor="middle">2000</text>
<text x="365.9" y="424.3" class="tk" text-anchor="middle">2010</text>
<text x="404.5" y="424.3" class="tk" text-anchor="middle">2020</text>
<text x="351.5" y="432.4" class="st" text-anchor="middle" xml:space="preserve">mean= − 0.057    std=0.735</text>
<text x="351.5" y="361.2" class="ti" text-anchor="middle">VLBI 2014</text>
<path stroke="#777" stroke-width="1.3" d="M424.4 387.4H539.6"/>
<path fill="#0000ff" d="M429.6 365.6 430.6 365.6 431.6 365.6 432.6 365.6 433.6 365.6 434.6 365.6 435.6 365.6 436.6 365.6 437.6 365.6 438.6 365.6 439.6 365.6 440.6 365.6 441.6 365.6 442.6 365.6 443.6 365.6 444.6 365.6 445.6 365.6 446.6 365.6 447.6 365.6 448.6 365.6 449.6 365.6 450.6 365.6 451.6 365.6 452.6 365.6 453.6 365.6 454.6 365.6 455.6 365.6 456.6 365.6 457.6 365.6 458.6 365.6 459.6 365.6 460.6 365.6 461.6 365.6 462.6 365.6 463.6 365.6 464.6 365.6 465.6 365.6 466.6 365.6 467.6 365.6 468.6 365.6 469.6 365.6 470.6 365.6 471.6 365.6 472.6 365.6 473.6 365.7 474.6 366.1 475.6 365.6 476.6 367.2 477.6 367.5 478.6 368.4 479.6 368.5 480.6 369 481.6 369.1 482.6 369.5 483.6 369.6 484.6 369 485.6 370.1 486.6 369.8 487.6 369.6 488.6 370 489.6 370.4 490.6 369.5 491.6 370.3 492.6 368.4 493.6 369 494.6 369.6 495.6 369.4 496.6 370.1 497.6 368.8 498.6 368.2 499.6 369.1 500.6 369.7 501.6 369.7 502.6 368 503.6 368.6 504.6 369.6 505.6 368.8 506.6 368.9 507.6 369.2 508.6 368.7 509.6 369.1 510.6 369.2 511.6 369 512.6 368.3 513.6 368.1 514.6 368.3 515.6 368.8 516.3 369.3 516.3 397.4 515.6 396.7 514.6 397.1 513.6 397.8 512.6 396.6 511.6 397.5 510.6 398.1 509.6 396.5 508.6 396.6 507.6 397.3 506.6 398.3 505.6 397.2 504.6 397.8 503.6 398.1 502.6 397.5 501.6 401.1 500.6 398.5 499.6 399.2 498.6 398.8 497.6 399.8 496.6 398.6 495.6 399.4 494.6 399.1 493.6 399.5 492.6 399.9 491.6 399.8 490.6 399.6 489.6 400 488.6 401 487.6 401.4 486.6 401.4 485.6 401.4 484.6 402.3 483.6 402.8 482.6 403.1 481.6 404.4 480.6 403.4 479.6 405 478.6 404.7 477.6 404.9 476.6 405.9 475.6 406.8 474.6 407.9 473.6 409.2 472.6 409 471.6 409.6 470.6 409.6 469.6 409.6 468.6 409.6 467.6 409.6 466.6 409.6 465.6 409.6 464.6 409.6 463.6 409.6 462.6 409.6 461.6 409.6 460.6 409.6 459.6 409.6 458.6 409.6 457.6 409.6 456.6 409.6 455.6 409.6 454.6 409.6 453.6 409.6 452.6 409.6 451.6 409.6 450.6 409.6 449.6 409.6 448.6 409.6 447.6 409.6 446.6 409.6 445.6 409.6 444.6 409.6 443.6 409.6 442.6 409.6 441.6 409.6 440.6 409.6 439.6 409.6 438.6 409.6 437.6 409.6 436.6 409.6 435.6 409.6 434.6 409.6 433.6 409.6 432.6 409.6 431.6 409.6 430.6 409.6 429.6 409.6Z"/>
<path fill="none" stroke="#fff" stroke-opacity=".6" stroke-width="1.5" stroke-linecap="round" d="M430.8 368.4h0M435.2 395.1h0M435.2 401.2h0M435.1 405.8h0M436.9 403.1h0M438 402.7h0M439.4 405.2h0M440.2 407.1h0M440.9 408.3h0M441.7 403.4h0M442.5 407.5h0M448.6 406.9h0M451 366.7h0M450.9 401.6h0M451 404.9h0M453.3 366.9h0M453.6 380.3h0M454.5 405.5h0M455 368.2h0M455.6 402.8h0M456.3 406.8h0M457.3 369.9h0M457.7 374.5h0M459.4 407.9h0M461.8 406.7h0M462.7 367.2h0M463.3 403.1h0M463.8 367.4h0M464.6 376.3h0M465.8 401.8h0M466.3 408.2h0M468.7 386.5h0M468.9 404.8h0M468.7 407.1h0M471.2 366.6h0M471 406.4h0M476.9 382h0M478.6 394.8h0M480 403.7h0M480.7 370.2h0M482.4 371.5h0M482.1 403.6h0M484.8 370.6h0M486.7 375.2h0M488.1 371.1h0M488.2 399h0M491.5 372.1h0M493.6 370.2h0M495.2 397.2h0M500.2 398.8h0M501.4 371h0M503.4 369h0M504.5 372.7h0"/>
<path fill="none" stroke="#0000ff" stroke-width="1.6" stroke-linecap="round" d="M475.7 405.8V407.7M481 370V368M482.6 402.1V404.3M484 401.8V404.7M484.7 370V366.8M484.6 401.3V404.2M487.3 370.8V367.5M487.6 400.4V402.5M490 399V400.9M492 398.8V404.1M497 371.1V369.3M498.3 369.8V365.6M500.5 370.1V368M500.9 370.7V367.7M504.2 369.6V365.7M506.4 396.2V398.4M506.7 397.3V398.9M510.6 370.2V368.5M510.6 397.1V399.5M513.6 369.3V367.4M513.7 396.8V400.9"/>
<path fill="none" stroke="#0000ff" stroke-width="2.5" stroke-linecap="round" d="M475.1 365.8h0M477.9 408.3h0M480 368.3h0M481.1 369h0M482.9 368.5h0M483.2 368.3h0M483 404.7h0M484.4 367.8h0M484.2 403.6h0M489.8 401.5h0M494 366.7h0M494.2 399.5h0M495.4 368.7h0M494.9 369h0M496.5 368.7h0M498.5 367.6h0M499.2 402.4h0M499 402.7h0M499.7 369.1h0M501.7 369.4h0M502.7 365.7h0M507.3 365.8h0M515.8 368.6h0M516.5 366.8h0M516.2 401.3h0"/>
<path stroke="#000" stroke-opacity="0.22" stroke-width="1.4" d="M428.6 387.4H517.3"/>
<rect x="424.4" y="364.6" width="115.2" height="46" fill="none" stroke="#a0a0a0" stroke-width="1.1"/>
<text x="420.6" y="368.7" class="tk" text-anchor="end">1</text>
<text x="420.6" y="391.3" class="tk" text-anchor="end">0</text>
<text x="420.6" y="415" class="tk" text-anchor="end">-1</text>
<text x="458.4" y="424.4" class="tk" text-anchor="middle">2000</text>
<text x="497" y="424.4" class="tk" text-anchor="middle">2010</text>
<text x="535.6" y="424.4" class="tk" text-anchor="middle">2020</text>
<text x="482" y="432.2" class="st" text-anchor="middle" xml:space="preserve">mean= − 0.011    std=0.664</text>
<text x="482" y="360.8" class="ti" text-anchor="middle">DORIS 2014</text>
<path stroke="#777" stroke-width="1.3" d="M31.9 460.5H147.4"/>
<path fill="#0000ff" d="M41.3 454.8 42.3 453.9 43.3 453.6 44.3 453.4 45.3 455.7 46.3 457.4 47.3 458.1 48.3 458.3 49.3 458.4 50.3 458.5 51.3 458.3 52.3 458.1 53.3 458.2 54.3 458.4 55.3 458.5 56.3 458.4 57.3 458.3 58.3 458.3 59.3 457.9 60.3 458.4 61.3 458.5 62.3 458.5 63.3 458.5 64.3 458.3 65.3 458.5 66.3 458.5 67.3 458.4 68.3 458.4 69.3 458.3 70.3 458.5 71.3 458.5 72.3 458.6 73.3 458.4 74.3 458.1 75.3 458.5 76.3 458.5 77.3 458.6 78.3 458.5 79.3 458.4 80.3 458.4 81.3 458.7 82.3 458.5 83.3 458.1 84.3 458.6 85.3 458.6 86.3 458.6 87.3 458.6 88.3 458.7 89.3 458 90.3 458.3 91.3 458.7 92.3 458.6 93.3 458.5 94.3 458.4 95.3 458.7 96.3 458.5 97.3 458.5 98.3 458.2 99.3 458.7 100.3 458.1 101.3 458.5 102.3 458.4 103.3 458.5 104.3 458.4 105.3 458.6 106.3 458.6 107.3 458.5 108.3 458.5 109.3 458.8 110.3 458.8 111.3 458.5 112.3 458.6 113.3 458.6 114.3 458.7 115.3 458.6 116.3 458.4 117.3 458.6 118.3 458.6 119.3 458.3 120.3 458.5 121.3 458.6 122.3 458.7 123.3 458.6 124.3 458.7 124.3 461.9 123.3 462 122.3 461.8 121.3 461.8 120.3 461.8 119.3 461.9 118.3 462.1 117.3 461.9 116.3 462 115.3 461.8 114.3 462.2 113.3 461.7 112.3 462 111.3 462 110.3 462.2 109.3 462.1 108.3 462 107.3 461.8 106.3 461.8 105.3 462.2 104.3 461.8 103.3 462.1 102.3 462.2 101.3 461.8 100.3 461.9 99.3 462.3 98.3 461.9 97.3 461.8 96.3 462.1 95.3 461.9 94.3 462.3 93.3 462 92.3 461.8 91.3 462.1 90.3 462 89.3 461.9 88.3 462 87.3 461.7 86.3 461.9 85.3 461.9 84.3 461.8 83.3 462.2 82.3 461.9 81.3 461.9 80.3 461.8 79.3 461.9 78.3 462.3 77.3 462 76.3 462.1 75.3 462.3 74.3 462 73.3 462 72.3 462.5 71.3 461.9 70.3 462 69.3 461.8 68.3 462 67.3 462.2 66.3 461.9 65.3 461.9 64.3 461.8 63.3 461.8 62.3 462.2 61.3 461.9 60.3 461.8 59.3 462.7 58.3 461.8 57.3 461.9 56.3 461.9 55.3 462 54.3 461.9 53.3 462.1 52.3 462.5 51.3 462.6 50.3 462 49.3 461.9 48.3 462 47.3 462.1 46.3 462.7 45.3 463.2 44.3 463.2 43.3 463.6 42.3 463.4 41.3 463.1Z"/>
<path fill="none" stroke="#0000ff" stroke-width="2.5" stroke-linecap="round" d="M59.5 463.3h0M42.5 466.5h0"/>
<path stroke="#000" stroke-opacity="0.1" stroke-width="1.4" d="M40.3 460.5H125.3"/>
<rect x="31.9" y="437.6" width="115.5" height="45.8" fill="none" stroke="#a0a0a0" stroke-width="1.1"/>
<text x="28.1" y="441.7" class="tk" text-anchor="end">1</text>
<text x="28.1" y="464.4" class="tk" text-anchor="end">0</text>
<text x="28.1" y="487.8" class="tk" text-anchor="end">-1</text>
<text x="65.9" y="497.2" class="tk" text-anchor="middle">2000</text>
<text x="104.5" y="497.2" class="tk" text-anchor="middle">2010</text>
<text x="143.1" y="497.2" class="tk" text-anchor="middle">2020</text>
<text x="89.7" y="506.9" class="st" text-anchor="middle" xml:space="preserve">mean=0.005    std=0.024</text>
<text transform="translate(15.7 460.9) rotate(-90)" class="yl" text-anchor="middle">YPO (mas)</text>
<path stroke="#777" stroke-width="1.3" d="M161.8 459.6H278"/>
<path fill="#0000ff" d="M168.6 441.2 169.6 441.2 170.6 440.3 171.6 441.6 172.6 441.3 173.6 442 174.6 442 175.6 441.5 176.6 442.5 177.6 443 178.6 442.5 179.6 442.6 180.6 443.2 181.6 443.5 182.6 443.5 183.6 444.1 184.6 444.3 185.6 444.4 186.6 444.8 187.6 445.9 188.6 446.6 189.6 445.9 190.6 448.2 191.6 447.8 192.6 449.2 193.6 449.5 194.6 448.9 195.6 449.2 196.6 449.6 197.6 449.4 198.6 449.4 199.6 449 200.6 449.5 201.6 448.8 202.6 449.6 203.6 447.7 204.6 448.1 205.6 448.4 206.6 449.6 207.6 448.2 208.6 449.8 209.6 449.8 210.6 449.2 211.6 449.1 212.6 449.7 213.6 449.8 214.6 449.8 215.6 449.8 216.6 449.9 217.6 449.6 218.6 449.7 219.6 448 220.6 449.4 221.6 449.4 222.6 449.6 223.6 449.3 224.6 449.2 225.6 449.7 226.6 450 227.6 449.9 228.6 449.8 229.6 450 230.6 449.4 231.6 449.5 232.6 449.4 233.6 449.2 234.6 448.9 235.6 449.4 236.6 450.2 237.6 450.3 238.6 450.3 239.6 449.8 240.6 449.9 241.6 450.1 242.6 450.4 243.6 449.8 244.6 449.7 245.6 450.4 246.6 449.7 247.6 449.7 248.6 450.1 249.6 449.9 250.6 449.5 251.6 447.6 252.6 450.4 253.6 449.7 254.6 449.9 255.3 449.4 255.3 467.3 254.6 467.1 253.6 467.5 252.6 467.3 251.6 468 250.6 467.9 249.6 467.2 248.6 467.3 247.6 468.1 246.6 467.2 245.6 467.6 244.6 467.3 243.6 467.5 242.6 467.9 241.6 467.6 240.6 467.5 239.6 468.2 238.6 467.5 237.6 468.5 236.6 468.6 235.6 468 234.6 468.1 233.6 467.6 232.6 467.8 231.6 467.4 230.6 468.3 229.6 468 228.6 467.4 227.6 468.6 226.6 467.3 225.6 468.1 224.6 467.5 223.6 468.3 222.6 467.4 221.6 467.7 220.6 467.4 219.6 467.6 218.6 467.6 217.6 468.6 216.6 467.6 215.6 468.5 214.6 467.7 213.6 467.6 212.6 468.3 211.6 467.6 210.6 468.7 209.6 468.7 208.6 468.2 207.6 468.3 206.6 467.6 205.6 468.1 204.6 468.3 203.6 467.6 202.6 470 201.6 468.2 200.6 467.9 199.6 467.7 198.6 468 197.6 467.9 196.6 467.6 195.6 468.4 194.6 467.7 193.6 468.3 192.6 468.3 191.6 468.3 190.6 468.4 189.6 469.3 188.6 468.5 187.6 468.3 186.6 468.9 185.6 469.7 184.6 469.3 183.6 469.7 182.6 469.3 181.6 470 180.6 469.7 179.6 470 178.6 470.2 177.6 470.4 176.6 471 175.6 470.5 174.6 471.1 173.6 470.7 172.6 472.6 171.6 471.8 170.6 471.6 169.6 471.5 168.6 471.8Z"/>
<path fill="none" stroke="#fff" stroke-opacity=".6" stroke-width="1.5" stroke-linecap="round" d="M174.3 448.8h0M176.4 443.4h0M177.4 444.1h0M181.3 447.1h0M188.8 466.3h0M188.6 466.7h0M198.5 450.6h0M199.7 465.9h0M203.7 449.4h0M212.9 452.4h0M216.3 467h0M218.7 453.5h0M224.5 450.4h0M228.6 451.7h0M252.1 466.6h0M255.6 452.4h0"/>
<path fill="none" stroke="#0000ff" stroke-width="2.1" stroke-linecap="round" d="M169.5 470.8V478.1M169.9 442.2V437.5M170.4 470.5V472.7M172.3 470.8V473.1M174.2 469.7V477.7M181.2 468.7V474.9M184.3 445.1V438.4M188.1 467.3V471.1M189.7 468.3V470.9M197.1 450.6V446.3M196.6 466.6V469.6M199.2 450.4V446.3M201.4 466.9V474.7M206.6 449.4V447.5M206.5 467.1V473.3M208.3 467.3V469.8M216.5 450.8V441.1M218.9 466.6V474.6M222.2 466.7V469.7M224.9 450.2V447.1M226.5 450.7V443.7M226.9 451V437.5M233.8 450.2V448.5M235 467.1V481.3M239.1 466.5V469.7M244.4 466.5V468.2M245.2 450.7V448.9M248.1 467.1V471.6M248.8 451.1V446.4M249 466.3V475.3M252.1 448.6V442.7M255.4 450.9V446.9"/>
<path fill="none" stroke="#0000ff" stroke-width="2.5" stroke-linecap="round" d="M173 440.5h0M173.4 440.8h0M172.9 473.1h0M172.9 473.7h0M172.7 475.5h0M174.5 471.2h0M175.6 440.4h0M176.4 439h0M175.9 472.3h0M176.6 472.6h0M176.5 473.1h0M177.8 470.6h0M177.7 470.7h0M179.2 442.4h0M178.7 439.9h0M179.1 472.5h0M180.2 471.9h0M179.7 474h0M181.3 479h0M181.8 473.7h0M182.1 474.8h0M183.3 440.9h0M183.5 441.4h0M183.1 437.8h0M182.9 469.5h0M183.5 471.7h0M184.4 439.9h0M184.2 474.3h0M183.7 477.7h0M185.6 444h0M185.6 470h0M184.6 471.1h0M185.8 470.5h0M186.5 469.7h0M185.6 469.8h0M186.3 471.7h0M186.5 476.8h0M187.2 473.7h0M188.1 468.6h0M187.7 471.8h0M188.6 471.2h0M189.6 477h0M189.2 479.6h0M190.4 445.5h0M191.1 447.3h0M190.9 468.7h0M191.9 444.9h0M192.1 477.3h0M192.7 472.5h0M193.1 476.2h0M194.2 449h0M194 444.6h0M193.6 445h0M193.7 469.2h0M194.5 470.3h0M194 474.1h0M196.2 469.8h0M198.4 448.5h0M198.3 468.2h0M199 446.4h0M200.2 467.9h0M200.7 448.3h0M200.9 446.4h0M200.7 477.7h0M203 448.6h0M202.7 449.5h0M203.4 470.1h0M203.5 472.6h0M202.6 472.6h0M204.1 443.4h0M204.9 468.8h0M204.6 472.8h0M206 445.3h0M205.9 469.8h0M207.4 448.5h0M206.9 475.7h0M207.9 447.1h0M209.2 471.8h0M210.3 444.5h0M211 472.5h0M211.7 447.3h0M211.8 448h0M211.6 468h0M212.4 471.1h0M213.1 449.6h0M213.1 448.9h0M213.2 468.8h0M212.8 469.6h0M214.4 447.5h0M214.3 442.2h0M214 469.3h0M215.8 478h0M217 448.6h0M216.8 445.8h0M216.8 442h0M216.8 469.3h0M218 469.5h0M219.2 449.1h0M218.7 469.5h0M219.4 469.6h0M218.6 472.2h0M219 473.2h0M219.8 444.5h0M221 447.5h0M221.4 443.6h0M221.9 443.7h0M224 448.9h0M223.7 468.9h0M224.9 470h0M225.7 441.5h0M226 471.1h0M228.3 447.3h0M228.4 471.7h0M227.9 475.1h0M228.3 474.9h0M229 468.9h0M229.6 444.4h0M230.3 471.9h0M231.6 446.3h0M232 467.9h0M232.4 470.2h0M233.4 446.1h0M233.5 476.6h0M234.4 470.3h0M234.3 470.7h0M234.8 447.8h0M235.3 468.5h0M235.5 475.7h0M235.3 481.1h0M236.5 447.4h0M235.8 468.7h0M236 472.4h0M237.7 468.6h0M237.8 470.1h0M239.5 471.2h0M239.8 449.6h0M240.1 447.4h0M240.5 474h0M241.5 471h0M242.5 449h0M242.7 449.5h0M245.2 448.3h0M245.4 444.4h0M245 468.8h0M244.9 475.7h0M247.3 445.2h0M247.4 468.1h0M246.8 467.7h0M247.8 443.9h0M248.6 448.2h0M252 446.4h0M253.2 443.9h0M253.2 467.9h0M252.6 472.1h0M254 448.1h0M254.4 472.5h0M254.9 477.1h0"/>
<path stroke="#000" stroke-opacity="0.22" stroke-width="1.4" d="M167.6 459.6H256.3"/>
<rect x="161.8" y="436.5" width="116.2" height="45.8" fill="none" stroke="#a0a0a0" stroke-width="1.1"/>
<text x="158" y="440.6" class="tk" text-anchor="end">1</text>
<text x="158" y="463.5" class="tk" text-anchor="end">0</text>
<text x="158" y="486.7" class="tk" text-anchor="end">-1</text>
<text x="195.8" y="496.1" class="tk" text-anchor="middle">2000</text>
<text x="234.4" y="496.1" class="tk" text-anchor="middle">2010</text>
<text x="273" y="496.1" class="tk" text-anchor="middle">2020</text>
<text x="219.9" y="506.3" class="st" text-anchor="middle" xml:space="preserve">mean= − 0.008    std=0.271</text>
<path stroke="#777" stroke-width="1.3" d="M291.6 459.4H408.5"/>
<path fill="#0000ff" d="M293 446.6 294 447 295 447.2 296 448.6 297 448.5 298 449.6 299 450.1 300 449.8 301 450.2 302 448.2 303 449.3 304 450.2 305 449.1 306 449.7 307 450.2 308 449.9 309 449.9 310 448.3 311 448.6 312 449.6 313 449.7 314 450.2 315 448.8 316 449.9 317 450.2 318 448.6 319 448.8 320 450.1 321 449.7 322 449.7 323 450.3 324 449.7 325 450.2 326 450 327 449.4 328 450 329 449.9 330 449.6 331 449.4 332 450.1 333 450.3 334 449.4 335 448.1 336 448.1 337 449.3 338 449.6 339 449.8 340 449.7 341 448 342 448.4 343 450.1 344 449.4 345 450.2 346 449.7 347 448.8 348 450.1 349 450.3 350 449.8 351 449.8 352 450 353 450.1 354 450.4 355 450.2 356 449 357 449.1 358 449.4 359 449.8 360 450.3 361 450.2 362 450 363 449.8 364 449.4 365 448.9 366 450.1 367 449.7 368 450.2 369 450.3 370 450.1 371 450.3 372 450.3 373 450.1 374 450.3 375 449.3 376 450 377 448.5 378 449 379 449.7 380 450.1 381 449.6 382 449.1 383 450.3 384 449.2 385 449.5 385.3 450.1 385.3 461.9 385 461.6 384 462.2 383 462.8 382 462.1 381 461.8 380 461.7 379 461.9 378 462.2 377 461.7 376 462.7 375 461.6 374 462.5 373 462.4 372 461.9 371 462.3 370 462.1 369 461.7 368 462.2 367 462.6 366 462.1 365 462.2 364 461.8 363 461.7 362 462.2 361 462.8 360 461.8 359 463.2 358 462.3 357 461.7 356 461.4 355 462.5 354 462.4 353 461.8 352 461.5 351 462.2 350 461.8 349 461.5 348 462.4 347 461.6 346 462.1 345 462.5 344 461.7 343 461.6 342 462.5 341 462.8 340 462.5 339 461.5 338 462.6 337 461.6 336 463.6 335 462.8 334 461.7 333 461.5 332 463.1 331 462 330 461.4 329 463.1 328 462.3 327 461.6 326 462.5 325 461.9 324 462.2 323 461.9 322 462.4 321 462.2 320 461.5 319 461.9 318 461.8 317 462.1 316 462.5 315 461.6 314 461.7 313 462.1 312 462.1 311 462.9 310 462.5 309 461.5 308 462.2 307 461.6 306 461.5 305 462 304 462.8 303 462.5 302 461.8 301 462.9 300 462 299 463.3 298 462.5 297 463.2 296 464.1 295 465.9 294 466.8 293 467.7Z"/>
<path fill="none" stroke="#fff" stroke-opacity=".6" stroke-width="1.5" stroke-linecap="round" d="M297.1 450.9h0M299.2 451.8h0M308.3 451.3h0M316.2 453.6h0M320.2 461h0M321.1 451.3h0M322.5 450.7h0M325.9 452.6h0M326.2 461.7h0M330.9 460.1h0M334.4 452h0M334.4 460.6h0M341.2 450.5h0M341.1 451.7h0M343.4 451.6h0M349.4 451.3h0M352.4 459.2h0M354.1 451.5h0M354 461.7h0M362.2 461.1h0M365.5 461.7h0M368.8 452.2h0M372.6 453.7h0"/>
<path fill="none" stroke="#0000ff" stroke-width="2.4" stroke-linecap="round" d="M293.3 441h0M294.6 437.2h0M294.5 468.8h0M295.1 444.6h0M295.2 441.2h0M295.6 437.2h0M295.5 474.9h0M296.3 447.8h0M296.6 444.7h0M296 439.3h0M296.5 465.5h0M296.5 466.7h0M296.7 473.9h0M297.2 447.8h0M297.1 448.2h0M297.6 441.2h0M297.9 463.8h0M297.5 464.5h0M298.7 445.2h0M298.4 445.6h0M298.3 465.5h0M299.9 465.2h0M300.9 443.1h0M300.5 463h0M301.2 443.5h0M301.9 465.2h0M302 466.6h0M301.8 470.5h0M302 445.7h0M302.7 445.9h0M302.4 443.3h0M302.5 463.9h0M302.6 465.3h0M302.8 466.2h0M302 469.1h0M304 468.2h0M303.1 469.2h0M303.6 470.6h0M304.4 449.4h0M304 446.8h0M304 437.9h0M304.9 476.4h0M305.2 468.7h0M305.7 475.5h0M306.3 448h0M306 472.7h0M307.6 450.2h0M307.3 466.2h0M307.4 473.1h0M307.7 481h0M308.9 447.9h0M308.6 441.3h0M308.3 463.8h0M308.4 463.4h0M308.5 463.3h0M309.7 449.5h0M309.9 446.8h0M309.8 462.6h0M309.2 463.3h0M309.9 463.7h0M310.4 444.9h0M310.6 441.7h0M310.3 437.7h0M311 474.7h0M311.7 448.1h0M311.9 437.6h0M311.9 467.7h0M311.8 470.4h0M312.9 448.8h0M313 448.2h0M312.6 462.9h0M312.8 462.5h0M312.2 466.2h0M312.3 476.2h0M313.3 443.5h0M313.1 463.9h0M313.4 463.6h0M313.9 464.8h0M314.7 445.8h0M314.6 462.1h0M316 462.5h0M316.5 447.6h0M316.4 463h0M316.8 467.4h0M317.8 448.2h0M317.7 441.3h0M317.5 469.7h0M318.9 447.8h0M318.2 440.4h0M318.2 464.3h0M319.1 446h0M320.4 440.6h0M320.8 463.1h0M320.7 468.1h0M320.2 478.3h0M321.5 449.1h0M321.6 479.9h0M322.5 444.8h0M322.1 465.7h0M322.6 466.8h0M323.4 437.7h0M323.7 464.5h0M323 465.8h0M323 466.7h0M323.9 472.3h0M323.4 472.1h0M324.6 449.3h0M324.2 462.8h0M324.6 473.9h0M325.1 447.9h0M325.7 445.6h0M325.2 444.5h0M325.7 465.9h0M325.7 470.2h0M325.2 474.4h0M325.8 474.3h0M326.7 448.1h0M326.1 444.5h0M326.2 467.6h0M327.6 467.4h0M327.5 473.4h0M327.4 478.3h0M328.6 440.7h0M328.8 463.3h0M328.3 474.2h0M328.3 480.1h0M329.3 449.9h0M329.2 447.1h0M329.2 447.4h0M329 440.6h0M329.3 465.3h0M329.6 468.8h0M329.4 476.5h0M329.9 477h0M330.3 447.7h0M330.3 447.8h0M330.2 443.1h0M330.8 462.4h0M331 465.5h0M330.4 468.9h0M330.9 469.1h0M330.6 473.4h0M331.4 448.8h0M331.5 445.7h0M331.2 462.2h0M332.3 445.6h0M332.2 445h0M332.5 441.1h0M332.3 467.5h0M333.8 440.4h0M333.7 462.3h0M333.4 469.2h0M334.9 471.4h0M334.5 478.6h0M335.7 441.3h0M335.3 463.4h0M336.8 446.3h0M336.1 446.6h0M336 443.2h0M336.2 438.9h0M337.5 446.2h0M337.7 438.4h0M337.3 461.7h0M337.4 462.8h0M338.7 438.2h0M338.7 464.8h0M338.7 478.7h0M339.9 447.2h0M339.3 466.5h0M339 471.2h0M339.6 477.1h0M339.1 477.7h0M340.7 449h0M340.1 448.2h0M340.6 480.2h0M341 441.5h0M341.8 478.9h0M341 480.8h0M342.7 446.8h0M342.8 464.7h0M343.4 447.3h0M343.1 446.8h0M343.7 446.6h0M343 445.6h0M344 449.2h0M344.4 448.4h0M344.3 462.4h0M344.7 463.4h0M344.4 468.9h0M344.2 473h0M345 474.4h0M345.9 446.2h0M345.9 444.3h0M345.3 469.1h0M345.2 472.5h0M345 472.1h0M346.8 445.5h0M346.3 439.6h0M346.3 463.6h0M346.9 480h0M347.4 462.2h0M347.6 462.9h0M347.5 464.3h0M347.9 469.7h0M348.3 446.8h0M348.4 441.8h0M348.9 465.4h0M349.5 462.5h0M349.6 464.5h0M349.1 465h0M349.5 467h0M351.1 448.4h0M351.9 466.7h0M352.8 446.6h0M352.8 472.1h0M353.2 449.8h0M353.8 472.3h0M354.9 441.1h0M355.4 450.1h0M355.1 449.2h0M356 447.8h0M356.8 437.4h0M356.1 463.4h0M356.6 472.3h0M357.4 464.9h0M357.3 467.9h0M357.4 477.4h0M358.5 445.9h0M358.3 462.6h0M358.2 466.9h0M358.7 468.1h0M358.7 469.4h0M359.6 449.6h0M359.6 447.7h0M359.7 446.9h0M359.3 441h0M359.7 469.5h0M360.2 449h0M360.1 443h0M361.2 449.4h0M361.4 463.4h0M361.3 464.9h0M361.3 466.4h0M362.7 444.7h0M362.4 438.1h0M362.8 465h0M362.9 467.1h0M363.3 449.7h0M363.8 444.3h0M363.7 468h0M363.6 472.5h0M363.3 478.7h0M364.5 449.3h0M364.8 437.3h0M364.8 462h0M364.8 463h0M364.4 470.4h0M364.7 473.3h0M364.7 477.9h0M365.8 444h0M365.6 465.8h0M365.2 478.5h0M365.6 480h0M366.7 475.9h0M368.9 449.7h0M368.6 463.6h0M370 445.6h0M369.4 443.7h0M369.1 439.9h0M369.6 469.3h0M369.2 474.7h0M370.9 467.6h0M370.8 472h0M372.5 463.1h0M372.7 479.4h0M373.2 462.5h0M373.3 463.3h0M373.2 465.4h0M374 476.3h0M373.3 478.4h0M374.4 447h0M374.7 446.7h0M374.5 440.4h0M374.2 463h0M374.1 465.8h0M374.7 473.8h0M375.3 438.6h0M375.6 462.1h0M375.5 474.4h0M376.7 448.6h0M376.5 447.9h0M376.7 480.5h0M377.4 444.9h0M377.4 466.4h0M378 467.5h0M377.7 476.1h0M379.9 448.9h0M379.1 447.9h0M379.5 465.7h0M379.3 466.7h0M379.6 480.8h0M380.6 450.1h0M380.5 467.1h0M381.5 448.3h0M381.1 444.7h0M382.4 447.6h0M382.4 440.2h0M382.8 462.8h0M382.1 470h0M383.7 449.8h0M383.3 445.9h0M383.8 437.3h0M383.9 463.9h0M383.3 464.5h0M383.9 470.7h0M384.8 446h0M384.9 462.7h0M384.6 463.6h0M385.3 449.3h0M385.2 469.8h0"/>
<path stroke="#000" stroke-opacity="0.22" stroke-width="1.4" d="M292 459.4H386.3"/>
<rect x="291.6" y="436" width="116.9" height="46.1" fill="none" stroke="#a0a0a0" stroke-width="1.1"/>
<text x="287.8" y="440.1" class="tk" text-anchor="end">1</text>
<text x="287.8" y="463.3" class="tk" text-anchor="end">0</text>
<text x="287.8" y="486.5" class="tk" text-anchor="end">-1</text>
<text x="325.6" y="495.9" class="tk" text-anchor="middle">2000</text>
<text x="364.2" y="495.9" class="tk" text-anchor="middle">2010</text>
<text x="402.8" y="495.9" class="tk" text-anchor="middle">2020</text>
<text x="350.1" y="505.7" class="st" text-anchor="middle" xml:space="preserve">mean=-0.034    std=0.730</text>
<path stroke="#777" stroke-width="1.3" d="M424 458.9H538.5"/>
<path fill="#0000ff" d="M429 436.7 430 436.7 431 436.7 432 436.7 433 436.7 434 436.7 435 436.7 436 436.7 437 436.7 438 436.7 439 436.7 440 436.7 441 436.7 442 436.7 443 436.7 444 436.7 445 436.7 446 436.7 447 436.7 448 436.7 449 436.7 450 436.7 451 436.7 452 436.7 453 436.7 454 436.7 455 436.7 456 436.7 457 436.7 458 436.7 459 436.7 460 436.7 461 436.7 462 436.7 463 436.7 464 436.7 465 436.7 466 436.7 467 436.7 468 436.7 469 436.7 470 436.7 471 436.7 472 436.7 473 436.7 474 436.7 475 436.7 476 436.9 477 436.9 478 438.6 479 438.1 480 439.2 481 437.5 482 440.1 483 441.6 484 439.4 485 442.5 486 443.1 487 442.4 488 442.4 489 444.3 490 445.3 491 445.5 492 444.9 493 445.6 494 445.5 495 445.4 496 445.2 497 444.8 498 444.8 499 443.2 500 444.6 501 444.3 502 443.5 503 445 504 445.1 505 444.7 506 445.1 507 445.1 508 444.4 509 444.7 510 444.1 511 444.4 512 444.4 513 442.8 514 443.4 515 444.1 515.8 444.8 515.8 472.8 515 472.3 514 472.8 513 472.1 512 475.1 511 474.5 510 473.3 509 472.4 508 472.4 507 472 506 472.1 505 473.7 504 472.6 503 472.5 502 472.4 501 472.7 500 472 499 472.3 498 473.5 497 472.3 496 472.9 495 472.3 494 472.5 493 472 492 472.9 491 473.8 490 472.3 489 472.4 488 473.4 487 471.9 486 472.8 485 471.6 484 471.8 483 472.5 482 472.4 481 471.7 480 471.6 479 471.5 478 473 477 474.1 476 472.9 475 474 474 475.7 473 478.5 472 481.3 471 481.3 470 481.1 469 481.3 468 481.2 467 481.3 466 481.3 465 481.2 464 481.3 463 481.3 462 481.1 461 481.3 460 481.3 459 481.3 458 481.3 457 481.3 456 481.1 455 481.2 454 481.2 453 481.3 452 481.3 451 481.3 450 481.1 449 481.3 448 481.2 447 480.9 446 481 445 481.3 444 481.2 443 481.3 442 481.3 441 481.3 440 481.3 439 481.1 438 480.9 437 481.3 436 481.3 435 481.3 434 481.3 433 481.3 432 481.3 431 481.2 430 481.3 429 481.1Z"/>
<path fill="none" stroke="#fff" stroke-opacity=".6" stroke-width="1.5" stroke-linecap="round" d="M432 476h0M431.9 477.5h0M431.8 476.7h0M432.9 454.5h0M433.4 479.7h0M439 444.6h0M441.1 437.8h0M441.2 440.2h0M442 477.7h0M442.9 476.5h0M442.9 478.3h0M444.7 439.7h0M447 438.8h0M449.5 475.1h0M450.5 473.8h0M451.4 466.6h0M453.2 479.1h0M455.3 479.3h0M456.6 475.6h0M458 437.9h0M457 438.9h0M459 479.1h0M459.7 439h0M459.9 445.6h0M462.4 439.8h0M464.2 475.3h0M467.7 458.2h0M467.7 474.4h0M469.5 480.6h0M470.3 438.4h0M470.2 477h0M470.5 479.1h0M472.5 466.4h0M473.5 443h0M481.2 469.2h0M486 459h0M487.7 444.2h0M492.9 465.9h0M501.9 449h0M506.2 465.1h0M513.1 447.7h0M514.9 469.6h0M515.8 445.8h0"/>
<path fill="none" stroke="#0000ff" stroke-width="1.6" stroke-linecap="round" d="M476.9 471.9V475.9M489.3 471.4V475.2M491.6 446.5V444.8M491.9 472.8V476.4M493.4 446.6V444.3M497 446.2V443.1M500.6 471V473.9M502.6 471.4V476.1M504.4 446.1V442.5M505.4 445.7V444.1M508.1 445.4V443.1M512.8 445.4V440.5M512.8 474.1V477M514 443.8V441.8M514.4 444.4V442.3"/>
<path fill="none" stroke="#0000ff" stroke-width="2.5" stroke-linecap="round" d="M447.9 481.2h0M476.1 473.3h0M480.4 473.8h0M481.1 437.2h0M481.6 473.7h0M482.5 476.9h0M484.8 438.6h0M485.7 471.8h0M489.4 475.7h0M490.9 445.2h0M490.1 472.9h0M491.2 443.8h0M491.3 438.9h0M493.9 475.6h0M494.7 444.7h0M495.6 443.7h0M496.4 442.3h0M497 443h0M498 440.2h0M497.8 473.8h0M499 442.8h0M499.5 472.4h0M499.2 480.1h0M500.8 474.7h0M502.4 437.8h0M502.4 475h0M503.3 444.6h0M503.2 442.2h0M503 477.5h0M504.2 444.5h0M506.3 437.5h0M508 444.6h0M507.4 444.2h0M507.4 440.6h0M507.8 472.6h0M511.2 444.1h0M512.2 444.1h0M515.1 443.6h0M515.7 442.5h0"/>
<path stroke="#000" stroke-opacity="0.22" stroke-width="1.4" d="M428 458.9H516.8"/>
<rect x="424" y="435.7" width="114.5" height="46.6" fill="none" stroke="#a0a0a0" stroke-width="1.1"/>
<text x="420.2" y="439.8" class="tk" text-anchor="end">1</text>
<text x="420.2" y="462.8" class="tk" text-anchor="end">0</text>
<text x="420.2" y="486.7" class="tk" text-anchor="end">-1</text>
<text x="458" y="496.1" class="tk" text-anchor="middle">2000</text>
<text x="496.6" y="496.1" class="tk" text-anchor="middle">2010</text>
<text x="535.2" y="496.1" class="tk" text-anchor="middle">2020</text>
<text x="481.2" y="505.1" class="st" text-anchor="middle" xml:space="preserve">mean=0.047    std=0.632</text>
<path stroke="#777" stroke-width="1.3" d="M31.6 562.5H147.4"/>
<path fill="#0000ff" d="M41.3 555.4 42.3 551.7 43.3 552.8 44.3 555.3 45.3 556.9 46.3 557.1 47.3 557.7 48.3 558.6 49.3 559 50.3 559.1 51.3 559.7 52.3 559.7 53.3 559.2 54.3 560.2 55.3 560.3 56.3 560.5 57.3 560.5 58.3 560.3 59.3 560.3 60.3 560.4 61.3 560.1 62.3 560.4 63.3 560.3 64.3 560.5 65.3 560.3 66.3 560.1 67.3 560.2 68.3 560.4 69.3 560.4 70.3 560.1 71.3 560.2 72.3 560.5 73.3 559.9 74.3 560.2 75.3 560.3 76.3 560.5 77.3 560.6 78.3 560.5 79.3 560.4 80.3 560 81.3 559.8 82.3 560.4 83.3 560.4 84.3 560.6 85.3 560.3 86.3 560.5 87.3 560.3 88.3 560.3 89.3 560.4 90.3 560.5 91.3 560.4 92.3 560.6 93.3 560.7 94.3 560.5 95.3 560.5 96.3 560.6 97.3 560.8 98.3 560.5 99.3 560.2 100.3 560.8 101.3 560.8 102.3 560.2 103.3 560.5 104.3 560.7 105.3 560.8 106.3 560.2 107.3 560.7 108.3 560.7 109.3 560.8 110.3 560.6 111.3 560.8 112.3 560.7 113.3 559.6 114.3 559.7 115.3 559.7 116.3 560.7 117.3 560.6 118.3 560.9 119.3 560.6 120.3 560.6 121.3 560.7 122.3 560.6 123.3 560.6 124.3 560.3 125.3 560.6 126.3 560.8 127.3 560.6 128.3 560.8 129.3 560.3 130.3 560.9 131.3 560.8 132.3 560.8 133.3 560.2 134.3 560.3 135.3 560.9 136.3 560.7 137.3 560.3 138.3 560.5 139.3 560.6 140.3 560.5 141.3 560.8 142.3 560.7 143.3 560.8 144.3 560.8 145.3 560.2 146.3 560.6 147 560.4 147 564.4 146.3 564.2 145.3 564.1 144.3 564.6 143.3 564.2 142.3 564.3 141.3 564.8 140.3 564.2 139.3 564.2 138.3 564.2 137.3 564.3 136.3 564.5 135.3 564.5 134.3 564.2 133.3 564.4 132.3 564.5 131.3 564.3 130.3 564.4 129.3 564.4 128.3 564.6 127.3 564.5 126.3 564.7 125.3 564.2 124.3 564.3 123.3 564.5 122.3 564.5 121.3 564.1 120.3 564.1 119.3 564.8 118.3 564.5 117.3 564.6 116.3 564.3 115.3 564.4 114.3 564.3 113.3 565 112.3 564.6 111.3 564.3 110.3 564.4 109.3 564.1 108.3 564.3 107.3 564.2 106.3 564.5 105.3 564.3 104.3 564.2 103.3 564.4 102.3 564.5 101.3 564.8 100.3 564.4 99.3 564.3 98.3 564.4 97.3 565.2 96.3 564.7 95.3 564.3 94.3 564.9 93.3 564.7 92.3 564.5 91.3 564.5 90.3 564.3 89.3 564.4 88.3 564.5 87.3 564.6 86.3 564.4 85.3 564.3 84.3 564.6 83.3 564.6 82.3 564.5 81.3 564.4 80.3 564.4 79.3 564.4 78.3 564.6 77.3 564.7 76.3 564.8 75.3 564.7 74.3 564.4 73.3 565.1 72.3 564.6 71.3 564.4 70.3 564.5 69.3 564.4 68.3 565.1 67.3 564.8 66.3 564.7 65.3 564.5 64.3 564.9 63.3 564.6 62.3 564.7 61.3 564.5 60.3 564.8 59.3 564.6 58.3 564.8 57.3 564.5 56.3 564.9 55.3 564.7 54.3 564.9 53.3 565.3 52.3 565.6 51.3 565.8 50.3 566 49.3 566.5 48.3 566.9 47.3 567.4 46.3 567.6 45.3 568.4 44.3 570.4 43.3 573.3 42.3 572.9 41.3 570.7Z"/>
<path fill="none" stroke="#0000ff" stroke-width="2.5" stroke-linecap="round" d="M50.1 566.6h0M52.8 565.8h0M107.3 565h0M144.4 560.3h0M42.3 574.8h0"/>
<path stroke="#000" stroke-opacity="0.1" stroke-width="1.4" d="M40.3 562.5H148"/>
<rect x="31.6" y="539.6" width="115.8" height="45.8" fill="none" stroke="#a0a0a0" stroke-width="1.1"/>
<text x="27.8" y="543.7" class="tk" text-anchor="end">1</text>
<text x="27.8" y="566.4" class="tk" text-anchor="end">0</text>
<text x="27.8" y="589.8" class="tk" text-anchor="end">-1</text>
<text x="65.6" y="599.2" class="tk" text-anchor="middle">2000</text>
<text x="104.2" y="599.2" class="tk" text-anchor="middle">2010</text>
<text x="142.8" y="599.2" class="tk" text-anchor="middle">2020</text>
<text x="89.5" y="608.9" class="st" text-anchor="middle" xml:space="preserve">mean= − 0.005    std=0.031</text>
<text x="89.5" y="535.8" class="ti" text-anchor="middle">GNSS 2020</text>
<text transform="translate(15.7 562.9) rotate(-90)" class="yl" text-anchor="middle">XPO (mas)</text>
<path stroke="#777" stroke-width="1.3" d="M160.8 562.6H276.4"/>
<path fill="#0000ff" d="M166.3 544.6 167.3 545 168.3 545.2 169.3 546 170.3 544.5 171.3 546.2 172.3 545.7 173.3 546.5 174.3 546.6 175.3 547 176.3 547.1 177.3 546.8 178.3 547.2 179.3 547 180.3 547.3 181.3 547.2 182.3 547.3 183.3 547.2 184.3 548.4 185.3 548 186.3 548.5 187.3 548 188.3 547.8 189.3 547.4 190.3 548.6 191.3 549 192.3 549 193.3 547.3 194.3 548.9 195.3 549.4 196.3 549.2 197.3 549.5 198.3 549.6 199.3 548.1 200.3 549 201.3 549.9 202.3 549.9 203.3 549.8 204.3 549.4 205.3 550.6 206.3 550.3 207.3 550 208.3 550.2 209.3 550.1 210.3 550.2 211.3 551.3 212.3 551.4 213.3 551.1 214.3 551.5 215.3 550.9 216.3 551.7 217.3 551.7 218.3 551.4 219.3 550.8 220.3 551.6 221.3 551.4 222.3 551.9 223.3 551.9 224.3 551 225.3 551.9 226.3 551.8 227.3 550.7 228.3 551.6 229.3 551.6 230.3 551.2 231.3 550.9 232.3 552.1 233.3 551.8 234.3 550.9 235.3 552 236.3 551 237.3 551.7 238.3 550.8 239.3 552.1 240.3 551 241.3 551.1 242.3 551.3 243.3 551.6 244.3 551.7 245.3 551.2 246.3 551.8 247.3 552 248.3 551.4 249.3 550.9 250.3 551.1 251.3 550.8 252.3 551.9 253.3 552.1 254.3 551.8 255.3 551.6 256.3 551.8 257.3 551.7 258.3 551.2 259.3 552 260.3 551.5 261.3 552.1 262.3 551 263.3 550.2 264.3 550.9 265.3 552.2 266.3 552.1 267.3 551.5 268.3 551 269.3 551.3 270.3 552 271.3 551.3 272.3 552.2 273.3 551.4 273.6 551.4 273.6 570.5 273.3 570.1 272.3 570.6 271.3 570.8 270.3 570.7 269.3 570.3 268.3 571.6 267.3 570.4 266.3 570.9 265.3 571.1 264.3 570.2 263.3 570.9 262.3 571.6 261.3 571 260.3 571.4 259.3 572.4 258.3 570.5 257.3 571.4 256.3 571.1 255.3 570.7 254.3 570.5 253.3 571.4 252.3 571.2 251.3 570.4 250.3 570.6 249.3 570.7 248.3 571.2 247.3 571.2 246.3 570.5 245.3 571.3 244.3 571.9 243.3 571.3 242.3 570.9 241.3 570.6 240.3 571.3 239.3 571.6 238.3 572.6 237.3 570.5 236.3 571.5 235.3 571.4 234.3 570.5 233.3 570.8 232.3 570.9 231.3 571.1 230.3 571.3 229.3 570.9 228.3 570.6 227.3 570.6 226.3 571.2 225.3 571.6 224.3 570.7 223.3 570.7 222.3 570.7 221.3 570.7 220.3 571 219.3 570.9 218.3 570.9 217.3 570.8 216.3 571.2 215.3 571.4 214.3 571.5 213.3 571.7 212.3 571.4 211.3 571.8 210.3 571.3 209.3 571.9 208.3 572.6 207.3 571.5 206.3 572.7 205.3 572.6 204.3 572.7 203.3 573 202.3 572.9 201.3 573 200.3 572.2 199.3 573.6 198.3 572.6 197.3 572.9 196.3 572.5 195.3 573.3 194.3 572.9 193.3 573.4 192.3 573 191.3 573.9 190.3 573.3 189.3 573.3 188.3 573.6 187.3 573.7 186.3 573.8 185.3 574 184.3 574 183.3 575.5 182.3 574.6 181.3 575.9 180.3 575.1 179.3 575.4 178.3 575.1 177.3 575.1 176.3 575.1 175.3 575.5 174.3 576.1 173.3 576 172.3 576.4 171.3 576.5 170.3 577.2 169.3 577.3 168.3 576.5 167.3 576.5 166.3 577.1Z"/>
<path fill="none" stroke="#fff" stroke-opacity=".6" stroke-width="1.5" stroke-linecap="round" d="M169.3 548.1h0M182.7 548.3h0M186.8 550.8h0M194.1 572.6h0M196.2 552.2h0M200.4 550.2h0M203.8 572.8h0M212.5 554.4h0M224.4 554.8h0M227.8 569.6h0M231.3 569.8h0M233 554h0M238.8 552h0M250.1 555.9h0M258.2 556h0M271.9 569.8h0M272.5 566.2h0"/>
<path fill="none" stroke="#0000ff" stroke-width="2.1" stroke-linecap="round" d="M167.2 545.6V540.6M168.3 546.2V542.2M174.1 547.5V540.6M178.7 548.2V543M179.9 574.4V577.8M183.7 574.5V579.3M190.7 572.3V575.8M194.7 549.9V541.3M198.8 571.6V576.5M201.4 550.9V547.5M204 572V576.8M208.7 551.2V543.4M210.7 551.2V549.3M218.8 569.9V578.6M223.8 569.7V572.9M231.8 570.1V579.9M235.2 551.9V546.7M236.4 552V550M241.4 552.1V540.6M247.2 552.8V548.1M251.2 569.6V575.4M252.1 551.8V549M253.3 552.9V540.6M253.1 570.2V576.7M255.8 569.7V571.9M267.9 569.4V584.4M269.5 569.3V579M270.9 553V542"/>
<path fill="none" stroke="#0000ff" stroke-width="2.5" stroke-linecap="round" d="M166.9 544h0M166.8 577.9h0M167 577.9h0M168.1 583.3h0M168.8 544.3h0M168.3 540.9h0M169.3 576.6h0M169.1 581.5h0M171.3 577.3h0M171.7 578.3h0M173 545h0M174.2 576.7h0M173.6 582.9h0M174.6 576.8h0M174.5 577.1h0M175.2 578.1h0M175.3 581.2h0M174.6 582.2h0M175.4 577.3h0M175.5 579.1h0M175.6 579.2h0M176.8 547.1h0M179.8 546h0M180.1 543.1h0M180.6 544.5h0M180.7 541.6h0M180.9 575.6h0M181.3 576.4h0M181.2 578.7h0M181.6 541.1h0M186 578.6h0M186.4 576.3h0M188 573.9h0M188.1 576.2h0M187.6 580.5h0M189.3 546.7h0M190 546.1h0M192 543.5h0M191.8 542.7h0M191.3 574.8h0M193.1 545.5h0M194.2 545.7h0M194 573.8h0M194.8 546.7h0M199.2 542.4h0M200.2 546.9h0M201.1 575.8h0M202.1 545.3h0M201.4 576h0M202.4 546.5h0M203.1 575h0M202.3 578.3h0M203.7 576.3h0M204.9 542.4h0M204.3 573.1h0M206 576.3h0M205.9 578.1h0M206.5 547.8h0M207 578.1h0M208.5 543.4h0M209.1 573h0M209.1 575.9h0M208.8 578.9h0M210.8 571.6h0M210.9 573.8h0M211 576.3h0M211.9 575.7h0M213.1 548.5h0M213.2 576.7h0M213.7 573.6h0M213.4 573h0M216.9 580.4h0M220.2 544.4h0M219.8 571.7h0M220.7 549.8h0M221.9 551.2h0M221.4 574.6h0M223.4 551h0M224.2 575.6h0M224.7 575.1h0M226.1 550h0M225.3 549.9h0M226.6 551h0M227.2 547h0M227.2 571.6h0M226.5 581.6h0M227.7 549.3h0M227.8 570.8h0M227.5 574h0M228.3 548.7h0M228.5 572.6h0M230.1 551h0M230 573.9h0M230.6 574.5h0M231.3 547.4h0M232.2 542.3h0M233.3 549.9h0M234.6 546.5h0M234.5 571.6h0M235 573.5h0M234.9 574.4h0M235.9 575.9h0M237 572h0M236.7 571.8h0M236.8 573.8h0M237.5 545.4h0M239.1 548.4h0M238.6 582.5h0M240 551h0M241.1 549.8h0M241.3 572.9h0M241.1 573.2h0M241.1 584h0M242.2 549.8h0M242.1 573.1h0M243.1 576h0M243.5 540.6h0M243.5 574h0M243.6 573.4h0M245.8 578.6h0M246.5 550.3h0M248 573.1h0M250.1 549.2h0M250 579.3h0M251.1 572.5h0M250.6 574.4h0M252 548.5h0M252.8 549.5h0M252.9 573.4h0M252.5 574.9h0M253.4 550.8h0M254.1 548h0M254.1 541.5h0M254.8 571.1h0M255.3 550.5h0M256 575.2h0M256.4 550h0M257.1 546h0M256.8 544.1h0M258 551.2h0M257.6 548.7h0M258.5 550.5h0M258.6 571.2h0M259.4 573.1h0M259.3 576.9h0M260.3 584h0M261 548.6h0M260.8 579.8h0M263 547.4h0M262.7 572h0M262.7 573.6h0M266.9 571h0M267.1 571.5h0M267.4 550.6h0M268 582.5h0M270.7 551.7h0M270.8 571h0M272.3 571.2h0M273.1 551.6h0M272.4 548.7h0M272.9 572.8h0M273.8 547.6h0M274 545.7h0M273.5 570.8h0"/>
<path stroke="#000" stroke-opacity="0.22" stroke-width="1.4" d="M165.3 562.6H274.6"/>
<rect x="160.8" y="539.6" width="115.6" height="45.8" fill="none" stroke="#a0a0a0" stroke-width="1.1"/>
<text x="157" y="543.7" class="tk" text-anchor="end">1</text>
<text x="157" y="566.5" class="tk" text-anchor="end">0</text>
<text x="157" y="589.8" class="tk" text-anchor="end">-1</text>
<text x="194.8" y="599.2" class="tk" text-anchor="middle">2000</text>
<text x="233.4" y="599.2" class="tk" text-anchor="middle">2010</text>
<text x="272" y="599.2" class="tk" text-anchor="middle">2020</text>
<text x="218.6" y="608.9" class="st" text-anchor="middle" xml:space="preserve">mean= − 0.052    std=0.237</text>
<text x="218.6" y="535.8" class="ti" text-anchor="middle">SLR 2020</text>
<path stroke="#777" stroke-width="1.3" d="M290.5 563H406.4"/>
<path fill="#0000ff" d="M290.5 541 291.5 541 292.5 541.5 293.5 542.5 294.5 543.3 295.5 544.6 296.5 545.9 297.5 548.5 298.5 551.1 299.5 554.9 300.5 555.6 301.5 555.3 302.5 555.2 303.5 556.9 304.5 556.8 305.5 557 306.5 557 307.5 556.4 308.5 555.5 309.5 554.7 310.5 556.7 311.5 555.4 312.5 555.5 313.5 557 314.5 556.8 315.5 556.7 316.5 555.6 317.5 556.2 318.5 556.4 319.5 555.6 320.5 556.6 321.5 556.8 322.5 557 323.5 555.5 324.5 555.2 325.5 556.1 326.5 556.7 327.5 557.1 328.5 555.9 329.5 556.6 330.5 557 331.5 556.6 332.5 556.2 333.5 556.8 334.5 556.5 335.5 556.7 336.5 556 337.5 556.6 338.5 555.9 339.5 556.4 340.5 556.5 341.5 556.9 342.5 555.8 343.5 556.6 344.5 556.3 345.5 557 346.5 557 347.5 556.3 348.5 556.9 349.5 555.8 350.5 556.7 351.5 556.4 352.5 557.2 353.5 556.9 354.5 556.6 355.5 556.8 356.5 557.1 357.5 556.2 358.5 557.2 359.5 556 360.5 555.7 361.5 557.2 362.5 556.4 363.5 556 364.5 556 365.5 555.9 366.5 557.2 367.5 556.6 368.5 556.4 369.5 556.4 370.5 555.4 371.5 556 372.5 556.9 373.5 556.2 374.5 556.9 375.5 556.4 376.5 556.7 377.5 556.9 378.5 556.8 379.5 557.2 380.5 557.2 381.5 557.2 382.5 556.7 383.5 557 384.5 556.9 385.5 557.1 386.5 556 387.5 555.9 388.5 557 389.5 556.9 390.5 556.6 391.5 556.4 392.5 556.7 393.5 557.2 394.5 553.9 395.5 556.6 396.5 556.9 397.5 556.9 398.5 556.7 399.5 556.7 400.5 556.7 401.5 556.3 402.5 557.5 403.5 557.3 404.5 557.1 405.5 555.9 405.8 556.7 405.8 568.1 405.5 567.8 404.5 569.2 403.5 568 402.5 567.6 401.5 568.1 400.5 568.6 399.5 567.9 398.5 567.9 397.5 569.1 396.5 567.7 395.5 569.3 394.5 568.3 393.5 567.6 392.5 568.7 391.5 567.6 390.5 567.8 389.5 567.8 388.5 568.5 387.5 568 386.5 569.7 385.5 568.7 384.5 567.8 383.5 568.3 382.5 567.8 381.5 567.9 380.5 568.1 379.5 569.3 378.5 568.5 377.5 568.2 376.5 568.4 375.5 567.8 374.5 569.3 373.5 569.1 372.5 568.2 371.5 569.3 370.5 567.7 369.5 567.7 368.5 568.3 367.5 567.8 366.5 569 365.5 568.7 364.5 568.7 363.5 568.5 362.5 568.8 361.5 568.3 360.5 569.4 359.5 569.2 358.5 568.9 357.5 567.7 356.5 568.6 355.5 568.8 354.5 568.4 353.5 569 352.5 567.8 351.5 568.5 350.5 568.9 349.5 567.9 348.5 569.1 347.5 568.4 346.5 568.1 345.5 568.1 344.5 567.8 343.5 567.9 342.5 569.4 341.5 568.9 340.5 568.1 339.5 568.5 338.5 568.9 337.5 567.9 336.5 570.3 335.5 568.4 334.5 567.9 333.5 568.3 332.5 568.8 331.5 569.1 330.5 568.9 329.5 569.3 328.5 568.9 327.5 568.2 326.5 568 325.5 568.6 324.5 569.2 323.5 568 322.5 568.9 321.5 568.8 320.5 569.1 319.5 569.6 318.5 568.9 317.5 568.5 316.5 568.5 315.5 568.9 314.5 568.9 313.5 569.9 312.5 568.1 311.5 568.3 310.5 568.4 309.5 569.3 308.5 568.8 307.5 569.2 306.5 568.7 305.5 568.3 304.5 568.7 303.5 568.7 302.5 569.6 301.5 568.4 300.5 569.4 299.5 569.4 298.5 573.2 297.5 574 296.5 576.7 295.5 577.6 294.5 578.6 293.5 578.9 292.5 580.1 291.5 580.7 290.5 582.2Z"/>
<path fill="none" stroke="#fff" stroke-opacity=".6" stroke-width="1.5" stroke-linecap="round" d="M290.8 544h0M294.8 577.6h0M298.7 570.6h0M315.9 559.5h0M315.5 559.1h0M319.6 562.1h0M322.4 558.3h0M332.9 557.2h0M334.5 566.6h0M334.2 566.1h0M336.1 558.8h0M336.9 560.2h0M338.1 562h0M341.5 568.8h0M343.8 558.2h0M345.6 558.4h0M354.9 566.6h0M359.1 558.6h0M380.6 566.8h0M383.2 567.4h0M388 558.5h0M388 558.8h0M392.3 567.2h0M394.2 566.6h0M394.7 565.7h0"/>
<path fill="none" stroke="#0000ff" stroke-width="2.4" stroke-linecap="round" d="M292.4 582.2h0M292.1 584.6h0M293.2 581.9h0M294 581.6h0M293.5 582.2h0M294.1 583.9h0M294.5 585h0M295.3 579h0M295.8 580.8h0M295.6 582h0M298.4 548.2h0M298 547.5h0M297.9 545.3h0M298.3 575.5h0M297.6 577.2h0M297.9 577.4h0M297.7 578.6h0M297.6 578.4h0M299.3 544.7h0M299.5 574.5h0M299.6 553.3h0M300.1 553.3h0M299.5 553.1h0M300.1 543.2h0M300 571.3h0M299.9 575.5h0M300.9 555h0M300.7 552.7h0M300.8 550.8h0M300.7 569.6h0M300.6 570.5h0M301.1 572.1h0M301.1 578.4h0M302.2 555.1h0M302 554.2h0M302.2 552.7h0M302 549.7h0M301.5 545.1h0M301.6 541.6h0M301.8 569h0M301.9 573h0M303.4 554h0M303.2 553h0M303.2 551.7h0M303.2 549h0M302.9 569.6h0M303.4 570.2h0M302.9 569.8h0M303.1 570.9h0M303.3 574.7h0M303.4 576.2h0M303.3 578.9h0M302.7 580.8h0M304.1 568.9h0M304.2 569.5h0M303.7 570.2h0M305.5 556.4h0M305.4 555h0M305.4 553.9h0M305.1 554.7h0M304.6 553.9h0M305.3 552.8h0M304.8 569.5h0M305.2 569.2h0M304.6 572h0M304.8 574.2h0M306 556.8h0M306.1 555.5h0M306 550.7h0M305.9 548.3h0M305.7 568.7h0M305.9 568.8h0M305.7 569.8h0M305.6 569.6h0M306.2 574.5h0M305.5 577.1h0M306.7 553.8h0M306.7 548.3h0M307.2 571.1h0M307.4 574h0M306.6 576.1h0M308.5 553.9h0M307.6 553.5h0M308.2 553.1h0M307.9 573.6h0M307.9 573.3h0M308.8 549.3h0M308.9 577.3h0M310 554.1h0M309.8 554.1h0M310.5 554.2h0M309.7 550.5h0M310.1 570.8h0M310.5 571.2h0M310.3 570.9h0M309.6 572h0M309.6 571.8h0M310 574.8h0M309.8 575.7h0M309.5 575.6h0M309.6 580.4h0M310.2 582.7h0M311 555h0M311.1 552.9h0M311.1 548.5h0M311.4 547.2h0M311.4 569h0M310.9 579.7h0M311.7 555.3h0M312.4 554.5h0M312.3 551.5h0M311.5 550.5h0M312.2 550.4h0M312.2 542.9h0M312.3 568.7h0M312.4 573.7h0M311.9 576.5h0M313.2 554.1h0M313.2 553.2h0M312.5 552.2h0M312.7 584.2h0M314.2 551.7h0M313.6 570.2h0M313.5 571.5h0M314 574.8h0M314.8 555.4h0M315.1 554.5h0M315.4 553.9h0M315.1 552.4h0M314.9 570.5h0M315.5 570.9h0M314.5 574.1h0M315.7 556h0M315.7 548h0M316.5 569h0M315.7 569.8h0M315.9 574h0M317.2 553h0M316.7 551.6h0M317.3 569.8h0M317.1 571h0M317 577h0M317.9 555h0M317.9 547.9h0M318 546.6h0M317.6 570.4h0M319.3 548h0M319.3 546.7h0M319.4 570h0M320.2 553.7h0M319.9 569.9h0M320.4 570.2h0M319.7 576.3h0M319.5 578.9h0M321.4 556h0M321 555.6h0M320.5 556.2h0M321.9 556.1h0M322 555.9h0M321.7 551h0M321.8 548.4h0M321.8 570.1h0M322 569.9h0M322.1 575.3h0M321.7 581.4h0M321.9 581.4h0M322.8 555h0M323.3 551.3h0M323.4 542.8h0M323.2 570.1h0M323.1 571.2h0M323.1 572.4h0M324.2 555h0M323.9 554.2h0M323.9 568.9h0M323.8 573.3h0M325.3 553.7h0M324.7 552.4h0M325.3 549.8h0M325.4 570.7h0M324.9 574.2h0M325.4 575.5h0M324.8 575.6h0M326.2 556.1h0M325.5 542.3h0M326.4 568.7h0M326.1 569.4h0M325.7 582h0M327.5 555.9h0M327.3 554.9h0M326.7 554.7h0M327.5 554.7h0M326.8 553.9h0M326.7 573h0M327.4 575.1h0M327.2 580h0M327.9 555.6h0M327.6 554.9h0M328.2 541.3h0M328.4 568.5h0M327.9 569.2h0M329.1 551.3h0M329.5 581.5h0M328.7 581.9h0M330 554.4h0M329.9 549h0M330.1 569.9h0M329.7 571.2h0M330.5 573.2h0M329.9 584.7h0M330.7 556.7h0M331.3 555.8h0M331.5 554h0M331 571.8h0M331.8 556.1h0M331.8 554.3h0M332.1 549h0M332.2 541.1h0M331.6 577.1h0M333.1 555.4h0M333.2 550.9h0M333.1 549.5h0M333 548.4h0M332.5 546.7h0M332.5 568.8h0M333.6 556.3h0M334.3 554.9h0M334.4 572.7h0M334.1 579h0M335.5 555.6h0M334.8 544h0M334.6 568.7h0M336.4 553.8h0M336.2 542h0M335.8 569h0M335.8 568.7h0M335.9 571.1h0M336 570.4h0M335.7 571.2h0M336.4 571.9h0M335.6 576.7h0M335.6 582.8h0M337.4 555.8h0M337.2 553h0M336.7 550.3h0M336.7 545.1h0M336.9 571.3h0M336.9 572.1h0M336.6 572.6h0M338.4 546.8h0M337.8 545.9h0M338.2 570.8h0M338.3 575h0M337.5 577.2h0M338.8 550.5h0M339.5 549.9h0M339.3 545h0M338.8 569h0M339.5 571.2h0M339.3 576.7h0M340.5 552.9h0M339.8 549.5h0M339.8 576.8h0M340.5 551.9h0M341.4 551.5h0M340.7 546.1h0M341.2 568.2h0M341.2 570.1h0M340.7 569.2h0M340.8 570.1h0M341.1 572.8h0M341.4 579h0M341.4 578.2h0M342.2 554h0M342.2 551.3h0M342.3 571.2h0M343.3 553.8h0M343.2 552.8h0M343.2 549.5h0M342.8 546.1h0M343.1 570.3h0M343.5 571.1h0M343.4 573.7h0M343.8 556h0M343.7 554.7h0M344 552.9h0M344.2 552.8h0M343.8 551.7h0M344 551h0M344.3 550h0M343.6 568.5h0M343.9 568.6h0M345.3 555.9h0M345 554.1h0M345.5 552.5h0M345.4 552.6h0M344.9 548.4h0M345 568.4h0M345.2 568.9h0M344.5 570.6h0M345 572.6h0M344.5 576.3h0M345.4 581.7h0M346.3 553.6h0M345.8 571.9h0M346.2 573.6h0M346.3 580.8h0M347.1 555.8h0M347 555.9h0M347 552.9h0M346.7 551h0M346.7 550.3h0M347.9 555.8h0M347.9 554.1h0M348.3 553.9h0M348.3 549.8h0M347.9 548.1h0M348.2 569h0M348.1 570.1h0M348.2 575.3h0M348.2 575.9h0M349.3 555.3h0M348.9 554.4h0M348.9 551.1h0M349.4 543.9h0M348.8 571.9h0M349 572.5h0M349.1 577h0M350.5 554h0M350 551.8h0M350.3 549.1h0M349.7 546.8h0M350.1 569h0M350.5 570.4h0M350.1 579.3h0M350.9 555h0M350.9 554.8h0M351.2 552.9h0M350.6 550.9h0M351.1 569.3h0M351.4 570.1h0M350.7 570.3h0M351.2 570.4h0M350.9 569.9h0M351.1 582.7h0M352.2 555.7h0M351.9 555.8h0M352 545.7h0M351.8 544.4h0M352.3 570.5h0M352 580.8h0M352.6 555.4h0M353.3 554.6h0M352.6 546.2h0M352.8 568.7h0M352.6 568.3h0M353.8 556.6h0M353.7 556.5h0M353.5 545.2h0M353.9 570.1h0M354.1 572.5h0M353.9 572.2h0M353.5 573.4h0M354.5 574.9h0M355.1 551.3h0M354.7 550h0M355.3 568.9h0M355.1 569.5h0M355.3 571.2h0M354.9 570.4h0M354.8 571.5h0M355.5 555.5h0M356.2 569h0M356.4 569.1h0M356.1 570.7h0M355.6 584.1h0M356.8 541.2h0M357.1 541.5h0M357.2 541.2h0M356.7 569.6h0M357.3 570.5h0M357.3 572.9h0M357 572.8h0M356.9 576.4h0M358.3 568.8h0M357.8 569h0M359 555.8h0M358.9 555.9h0M359.1 553.7h0M358.9 571.4h0M358.7 571.5h0M359.4 574.8h0M359.4 575.7h0M359.7 554.5h0M359.7 554.6h0M360.4 551.7h0M359.8 547.7h0M359.8 569.7h0M360.2 571.9h0M359.9 576h0M360.5 555.6h0M360.5 555.2h0M360.8 554h0M361.3 550.7h0M360.7 572.7h0M361 573.8h0M361.1 579.6h0M362.2 554.2h0M361.8 553.9h0M362.1 553.2h0M361.5 549.2h0M361.5 541.9h0M362.2 568.8h0M362.3 568.4h0M361.6 569.9h0M361.7 571.3h0M362.4 570.7h0M362.2 583.1h0M362.8 555.4h0M362.6 555.8h0M363 554.9h0M362.7 554.8h0M362.7 553.7h0M363.2 551.2h0M363.4 545.3h0M362.9 569.3h0M363.4 569.7h0M362.7 569.3h0M362.8 573.8h0M362.7 576.4h0M364.4 555.1h0M363.6 555.7h0M363.6 554.3h0M363.5 553.8h0M363.9 551.2h0M363.5 543.7h0M363.6 570.6h0M364.4 577.7h0M364.9 555.1h0M365.5 570.4h0M364.8 579h0M365.8 555.1h0M365.6 555h0M365.7 554.2h0M366.4 553h0M366.1 553.5h0M366.2 553.5h0M366.5 552.6h0M366.2 550.9h0M366.3 550.3h0M366.2 570.5h0M366.3 572h0M366.2 578.6h0M366.4 581.4h0M366.8 556.8h0M366.9 555.4h0M367.4 554.5h0M367.2 550.9h0M367.2 549.3h0M367.3 549.8h0M366.6 546.7h0M366.6 572h0M366.6 571.4h0M366.9 577.9h0M367.8 554.9h0M368 548.4h0M368.2 570.2h0M368.2 575.4h0M369.1 555.8h0M368.7 555.5h0M368.6 554.6h0M368.6 553.8h0M368.9 552.7h0M368.8 544.6h0M368.8 569.3h0M369.3 568.7h0M368.7 570.4h0M368.6 573.6h0M369.7 567.9h0M370.3 577.9h0M370.7 554.3h0M370.8 552.1h0M371 570h0M370.8 574.6h0M371.4 573.9h0M370.5 575.2h0M372 554.7h0M371.8 550.9h0M371.5 570.5h0M371.7 572.8h0M372.8 553.6h0M372.9 545.8h0M372.9 569.5h0M372.6 584h0M373.9 552.7h0M373.8 547.3h0M373.9 570.1h0M373.6 570h0M373.9 576.4h0M374.1 579.6h0M375.1 555.8h0M375.4 555.9h0M375 555.9h0M374.9 554.6h0M374.8 554.5h0M375.5 554h0M375.3 569.3h0M375.4 570.5h0M374.5 570.4h0M376.5 555.4h0M375.9 546.4h0M376 584.5h0M376.9 551.8h0M376.6 551.2h0M377.4 541.7h0M377.2 541.2h0M376.8 568.7h0M377.5 568.6h0M377.4 570.1h0M376.9 570.9h0M378.1 556.1h0M378.1 554.8h0M377.6 553.7h0M377.8 568.9h0M378.2 570h0M377.8 570.6h0M377.6 571.3h0M377.9 573.3h0M377.8 574.3h0M378.3 578.2h0M378.2 580.7h0M378.6 552.8h0M378.7 569h0M378.6 569.2h0M378.5 570.1h0M378.8 570.9h0M379.3 571.1h0M378.9 575.4h0M378.7 582.4h0M380.4 555.6h0M380.4 554.7h0M380.3 554.7h0M380.2 553.3h0M380.4 545.1h0M379.9 569.5h0M380.2 570.8h0M381.4 556.6h0M381 552.6h0M381.5 550.3h0M381.1 547.5h0M381.4 544.7h0M380.9 543h0M381.5 569.7h0M380.9 573.5h0M381.9 543.3h0M382 569.6h0M381.6 570.2h0M382 571.1h0M382.3 576.7h0M381.7 578.3h0M383.4 568h0M383 569.2h0M383.1 570.7h0M383.2 569.9h0M383.4 571.4h0M382.7 576.8h0M384.3 556.1h0M383.8 552.2h0M384.2 552.5h0M383.5 553h0M384 550.5h0M383.9 548.6h0M384.3 548.3h0M384 545.8h0M384.4 569.8h0M383.6 571.1h0M383.6 576.1h0M385.2 556h0M384.5 554.1h0M385.1 553h0M384.6 551.9h0M385.3 568.8h0M384.6 569h0M384.6 576.3h0M384.9 579.3h0M386.1 555.8h0M386.2 554.7h0M386.2 552.3h0M385.6 549.8h0M386.2 569.6h0M385.9 569.4h0M386.7 555.2h0M387.4 570.8h0M387.9 555.7h0M388.2 555.6h0M388.2 554.6h0M387.7 569.3h0M388 572.6h0M388.1 579.3h0M388.3 582.1h0M388.8 555.6h0M389.1 554.4h0M389.5 553.5h0M388.7 552.2h0M388.6 551.2h0M388.7 549.6h0M388.5 547.8h0M388.9 569.9h0M388.8 571.4h0M389.3 574.6h0M388.6 584h0M389.8 554.9h0M389.6 550.6h0M390.4 550.2h0M389.7 568.6h0M390.3 568.7h0M389.6 577.7h0M391.3 556.2h0M391.1 553.5h0M390.6 552.1h0M390.6 549.5h0M390.6 568.2h0M392.1 555.2h0M391.6 553.2h0M391.6 549.1h0M391.9 549.2h0M392.5 546.2h0M391.5 544.2h0M392.4 570.4h0M391.7 571.6h0M392.3 570.9h0M391.7 577h0M392.5 556.7h0M393.5 555.9h0M392.7 549.3h0M392.8 548.2h0M392.5 570.8h0M392.7 578.6h0M394.2 556.3h0M393.8 557h0M394.1 555.2h0M393.8 555.7h0M395.4 551.9h0M394.9 552.6h0M394.8 551.7h0M394.8 551.9h0M395.1 550.2h0M394.9 549.6h0M394.9 546.8h0M394.8 569.9h0M395.5 571.9h0M396.3 555.8h0M396 555.5h0M395.9 549.9h0M396.3 544.9h0M395.9 575.5h0M397.4 552.1h0M396.9 552.9h0M397.2 552.7h0M397.3 552.3h0M397.2 550.4h0M397.1 568.4h0M397.3 568.1h0M398.4 570.5h0M398.5 570.2h0M397.7 570.7h0M397.9 571.7h0M399.1 556h0M399.3 555.6h0M399.2 554.6h0M399.3 547.3h0M399 569.3h0M399 569.1h0M399.1 569.6h0M399 569.4h0M399.4 570h0M399.4 572.9h0M398.7 583.1h0M399.6 556.6h0M400 555.1h0M399.7 554.5h0M400.3 580h0M401.5 555.3h0M401 554.9h0M401.4 553.2h0M401.3 544.3h0M400.7 574.5h0M401 578h0M401 578h0M402.4 554.7h0M401.7 555.2h0M402.3 547h0M401.9 568.9h0M401.7 568.9h0M401.6 569.8h0M402.7 557.2h0M403.1 556.2h0M402.7 555.9h0M403.3 554.7h0M403.3 554.4h0M403.5 549.7h0M402.8 549.1h0M402.6 545.5h0M403.2 568.3h0M403.4 569.2h0M402.6 570.3h0M403.3 570.9h0M403.3 573.4h0M403.4 577.1h0M403.3 580.9h0M404.3 554.2h0M403.9 551.2h0M404.3 542.5h0M404 569.1h0M405.5 554.8h0M404.6 550.7h0M405 549h0M404.9 570.1h0M405.2 569.7h0M404.6 571.2h0M404.8 578h0M404.9 578.7h0M406.1 551.2h0M405.8 568.2h0M405.6 574.9h0M406.4 577.4h0M406.1 584.8h0"/>
<path stroke="#000" stroke-opacity="0.22" stroke-width="1.4" d="M289.5 563H406.8"/>
<rect x="290.5" y="540" width="115.9" height="46" fill="none" stroke="#a0a0a0" stroke-width="1.1"/>
<text x="286.7" y="544.1" class="tk" text-anchor="end">1</text>
<text x="286.7" y="566.9" class="tk" text-anchor="end">0</text>
<text x="286.7" y="590.4" class="tk" text-anchor="end">-1</text>
<text x="324.5" y="599.8" class="tk" text-anchor="middle">2000</text>
<text x="363.1" y="599.8" class="tk" text-anchor="middle">2010</text>
<text x="401.7" y="599.8" class="tk" text-anchor="middle">2020</text>
<text x="348.4" y="608.9" class="st" text-anchor="middle" xml:space="preserve">mean= − 0.004    std=0.534</text>
<text x="348.4" y="536.2" class="ti" text-anchor="middle">VLBI 2020</text>
<path stroke="#777" stroke-width="1.3" d="M422.7 563H538"/>
<path fill="#0000ff" d="M427.8 541 428.8 541 429.8 541 430.8 541 431.8 541 432.8 541 433.8 541 434.8 541 435.8 541 436.8 541 437.8 541 438.8 541 439.8 541 440.8 541 441.8 541 442.8 541 443.8 541 444.8 541 445.8 541 446.8 541 447.8 541 448.8 541 449.8 541 450.8 541 451.8 541 452.8 541 453.8 541 454.8 541 455.8 541 456.8 541 457.8 541 458.8 541 459.8 541 460.8 541 461.8 541 462.8 541 463.8 541 464.8 541 465.8 541 466.8 541 467.8 541 468.8 541 469.8 541.7 470.8 542.3 471.8 542.6 472.8 542.3 473.8 542.3 474.8 544.5 475.8 544.9 476.8 544.3 477.8 543.9 478.8 544.2 479.8 545.3 480.8 546.4 481.8 546.4 482.8 546.4 483.8 547.2 484.8 547.7 485.8 547.5 486.8 547.6 487.8 548.1 488.8 548.1 489.8 548.8 490.8 548.8 491.8 548.1 492.8 547.3 493.8 549.4 494.8 549.7 495.8 549.6 496.8 549.5 497.8 550 498.8 550.2 499.8 551.1 500.8 550.1 501.8 551.8 502.8 551.9 503.8 552.1 504.8 550.9 505.8 552.3 506.8 553.1 507.8 551.7 508.8 553.1 509.8 553.6 510.8 552.6 511.8 553.1 512.8 552.6 513.8 553.9 514.8 553.8 515.8 554.2 516.8 554.3 517.8 552.9 518.8 553.9 519.8 554.2 520.8 553.8 521.8 553.9 522.8 553.9 523.8 554.2 524.8 553.2 525.8 553.6 526.8 554.8 527.8 555.4 528.8 553.6 529.8 555 530.8 555.6 531.8 555.2 532.8 554.9 533.8 555.5 534.8 551.1 535.8 546.4 536.8 542.6 536.9 542.4 536.9 573.1 536.8 574 535.8 574.4 534.8 573.5 533.8 573.7 532.8 573.4 531.8 573.4 530.8 573.8 529.8 574.1 528.8 574.7 527.8 574.5 526.8 573.2 525.8 573.1 524.8 574.4 523.8 573.4 522.8 573.6 521.8 573.1 520.8 573.4 519.8 573.6 518.8 574.4 517.8 573.3 516.8 573.1 515.8 573.7 514.8 573.5 513.8 573.2 512.8 574.3 511.8 573.8 510.8 573.7 509.8 573.3 508.8 573.8 507.8 574.2 506.8 573.9 505.8 575.4 504.8 574.7 503.8 574.7 502.8 573.8 501.8 575.3 500.8 574.7 499.8 575.4 498.8 575.4 497.8 575.8 496.8 576.6 495.8 575.6 494.8 576.1 493.8 576.4 492.8 576.8 491.8 577 490.8 576.7 489.8 576.6 488.8 578.7 487.8 577.2 486.8 577.3 485.8 577.5 484.8 579.6 483.8 578.8 482.8 580 481.8 579.6 480.8 580.8 479.8 582.2 478.8 581.6 477.8 582.2 476.8 582.2 475.8 583.1 474.8 584 473.8 584 472.8 583.6 471.8 584.6 470.8 584.4 469.8 585 468.8 585 467.8 585 466.8 585 465.8 585 464.8 585 463.8 585 462.8 585 461.8 585 460.8 585 459.8 585 458.8 585 457.8 585 456.8 585 455.8 585 454.8 585 453.8 585 452.8 585 451.8 585 450.8 585 449.8 585 448.8 585 447.8 585 446.8 585 445.8 585 444.8 585 443.8 585 442.8 585 441.8 585 440.8 585 439.8 585 438.8 585 437.8 585 436.8 585 435.8 585 434.8 585 433.8 585 432.8 585 431.8 585 430.8 585 429.8 585 428.8 585 427.8 585Z"/>
<path fill="none" stroke="#fff" stroke-opacity=".6" stroke-width="1.5" stroke-linecap="round" d="M428.3 567.8h0M428.5 582.2h0M428.9 583.2h0M430.3 567.9h0M430.8 582.1h0M431.8 542.5h0M431.5 581.5h0M432 583.9h0M433.8 578.8h0M438.5 543.3h0M439.4 581.3h0M440.9 581.2h0M442.8 542.8h0M442.6 548.6h0M442.3 583h0M443.5 544.3h0M444.4 546.9h0M444.5 582.5h0M446.9 580.9h0M447.3 581.1h0M447.8 580.3h0M450.8 544h0M450.7 580.3h0M450.5 583.4h0M450.9 542.7h0M451 542.1h0M451 558.9h0M451.4 576.7h0M453.2 559.1h0M453.6 576.9h0M453 581.5h0M454.2 543.3h0M454.6 581.3h0M454.9 562.9h0M458 577.7h0M458.4 581.4h0M459.8 542.5h0M460.7 582.7h0M461 583.7h0M463.1 581.8h0M464.2 583.2h0M466.6 544.7h0M467.2 543.8h0M467.1 583.7h0M468.3 544.3h0M469.1 542.5h0M469.1 578.4h0M472.8 583.8h0M473.4 568.2h0M476 546h0M475.8 563.7h0M481.7 548.3h0M481.2 549.3h0M488.4 552h0M490.9 553.2h0M492.3 552.2h0M495.8 575.5h0M502 572.1h0M506.1 573.1h0M508.8 557.3h0M516.9 571.9h0M520.6 555.2h0M531.3 559.2h0M535.7 552.7h0M536.4 572.6h0"/>
<path fill="none" stroke="#0000ff" stroke-width="1.6" stroke-linecap="round" d="M470.7 542.7V541.1M473.7 582.6V584.5M476.9 581.2V583M478.5 581.2V585M484.4 548.2V546M487.3 548.6V545.6M489.3 549.1V542.6M491.8 549.8V541M492.1 549.1V546M499.9 552.1V550.4M505.8 574.4V576.5M508.7 573.2V574.8M509 554.1V552.6M512.5 572.8V575.4M516.3 572.7V574.5M517.4 572.1V574.3M523.9 555.2V553.2M524.7 572.4V574.2M525 573.4V577.9M528.5 573.5V575.6M532.4 556.2V554.2M535.3 572.5V576.7"/>
<path fill="none" stroke="#0000ff" stroke-width="2.5" stroke-linecap="round" d="M473.3 584.3h0M474.4 584.6h0M475.1 584.6h0M476.4 544.7h0M477 544h0M476.9 582.5h0M478 543.8h0M478.5 542.9h0M479.2 582.4h0M481.2 584.1h0M489.3 546.5h0M488.8 578.7h0M490.5 577.5h0M493.5 545.2h0M496.8 547h0M496.6 577.9h0M497.4 580.7h0M498.6 576.6h0M500 575.8h0M500.6 579h0M503.5 551.1h0M508.7 551h0M508.4 574.6h0M510.4 546.9h0M510 574.8h0M510.9 552.3h0M511.7 577.7h0M512.6 574.9h0M515.7 552.7h0M514.9 584h0M516.8 578.8h0M520.5 553.8h0M520.2 575h0M522.3 574.2h0M523.5 552.8h0M523.9 552.6h0M528.7 552.3h0M527.9 574.7h0M530.3 579.8h0M537.5 541.2h0"/>
<path stroke="#000" stroke-opacity="0.22" stroke-width="1.4" d="M426.8 563H537.9"/>
<rect x="422.7" y="540" width="115.3" height="46" fill="none" stroke="#a0a0a0" stroke-width="1.1"/>
<text x="418.9" y="544.1" class="tk" text-anchor="end">1</text>
<text x="418.9" y="566.9" class="tk" text-anchor="end">0</text>
<text x="418.9" y="590.4" class="tk" text-anchor="end">-1</text>
<text x="456.7" y="599.8" class="tk" text-anchor="middle">2000</text>
<text x="495.3" y="599.8" class="tk" text-anchor="middle">2010</text>
<text x="533.9" y="599.8" class="tk" text-anchor="middle">2020</text>
<text x="480.4" y="608.9" class="st" text-anchor="middle" xml:space="preserve">mean= − 0.033    std=0.423</text>
<text x="480.4" y="536.2" class="ti" text-anchor="middle">DORIS 2020</text>
<path stroke="#777" stroke-width="1.3" d="M31.6 636.2H147.4"/>
<path fill="#0000ff" d="M41.3 630.3 42.3 626.9 43.3 627.1 44.3 627.2 45.3 629.2 46.3 630.3 47.3 630.5 48.3 630.5 49.3 631.4 50.3 631 51.3 632.7 52.3 632.7 53.3 633.5 54.3 633.8 55.3 633.2 56.3 634.1 57.3 634 58.3 633.9 59.3 634.2 60.3 633.9 61.3 634.1 62.3 633.9 63.3 634.2 64.3 634.2 65.3 634.2 66.3 634.2 67.3 634.1 68.3 634.1 69.3 634.3 70.3 634.3 71.3 634.2 72.3 634.2 73.3 633.6 74.3 634.1 75.3 633.8 76.3 634.3 77.3 634.2 78.3 634.3 79.3 634.3 80.3 634 81.3 634 82.3 634.3 83.3 634.3 84.3 634.4 85.3 634 86.3 633.4 87.3 634.3 88.3 634.4 89.3 634.3 90.3 634.3 91.3 634.3 92.3 634.4 93.3 634.1 94.3 634.1 95.3 634.3 96.3 634.4 97.3 634.5 98.3 634 99.3 634.1 100.3 634.3 101.3 633.5 102.3 634 103.3 634 104.3 634.2 105.3 634.4 106.3 634.4 107.3 634.5 108.3 634.5 109.3 634.4 110.3 634.2 111.3 634.4 112.3 633.9 113.3 633.7 114.3 633.2 115.3 634.1 116.3 634.2 117.3 634.2 118.3 634.5 119.3 634 120.3 634.2 121.3 634.2 122.3 634.2 123.3 634.5 124.3 634.4 125.3 634.3 126.3 634.5 127.3 634.5 128.3 634.3 129.3 634.5 130.3 634.5 131.3 634.2 132.3 634.5 133.3 634.6 134.3 634.6 135.3 634.2 136.3 634.5 137.3 634.3 138.3 634.3 139.3 634.5 140.3 633.9 141.3 634.4 142.3 634.1 143.3 634.4 144.3 634.5 145.3 634.5 146.3 634.1 147 634.1 147 638.1 146.3 638.2 145.3 637.9 144.3 638.1 143.3 638.1 142.3 638.2 141.3 637.8 140.3 637.9 139.3 638.3 138.3 638.3 137.3 638.2 136.3 637.8 135.3 638.4 134.3 637.9 133.3 638.1 132.3 638 131.3 638.1 130.3 637.9 129.3 638.3 128.3 637.8 127.3 637.9 126.3 638 125.3 637.9 124.3 638.1 123.3 638 122.3 638.1 121.3 637.8 120.3 637.9 119.3 638 118.3 637.9 117.3 638.6 116.3 638.1 115.3 638.2 114.3 638.8 113.3 638.4 112.3 638.2 111.3 638.7 110.3 638 109.3 638.1 108.3 638 107.3 638 106.3 638.2 105.3 638 104.3 638.3 103.3 638.5 102.3 637.9 101.3 638.2 100.3 638 99.3 637.9 98.3 638.4 97.3 638.1 96.3 638.5 95.3 638.5 94.3 638.4 93.3 637.9 92.3 638.1 91.3 638.5 90.3 638.2 89.3 638.2 88.3 638.1 87.3 638.4 86.3 638 85.3 638.1 84.3 638.5 83.3 638.3 82.3 638.9 81.3 638.8 80.3 638.1 79.3 638.4 78.3 638.5 77.3 638.4 76.3 638.6 75.3 638.2 74.3 638.2 73.3 638.4 72.3 638.2 71.3 638.8 70.3 638.1 69.3 638.6 68.3 638.4 67.3 638.2 66.3 638.1 65.3 638.5 64.3 638.3 63.3 638.3 62.3 638.9 61.3 638.4 60.3 638.3 59.3 638.3 58.3 638.5 57.3 638.5 56.3 638.9 55.3 638.7 54.3 639 53.3 639.5 52.3 639.6 51.3 639.7 50.3 639.9 49.3 640.3 48.3 640.3 47.3 640.7 46.3 641.2 45.3 642.1 44.3 644.2 43.3 644.9 42.3 644.8 41.3 643Z"/>
<path fill="none" stroke="#0000ff" stroke-width="2.5" stroke-linecap="round" d="M50.8 640.1h0M64.3 638.9h0M103 638.5h0M43 624.2h0"/>
<path stroke="#000" stroke-opacity="0.1" stroke-width="1.4" d="M40.3 636.2H148"/>
<rect x="31.6" y="613.5" width="115.8" height="45.5" fill="none" stroke="#a0a0a0" stroke-width="1.1"/>
<text x="27.8" y="617.6" class="tk" text-anchor="end">1</text>
<text x="27.8" y="640.1" class="tk" text-anchor="end">0</text>
<text x="27.8" y="663.4" class="tk" text-anchor="end">-1</text>
<text x="65.6" y="672.8" class="tk" text-anchor="middle">2000</text>
<text x="104.2" y="672.8" class="tk" text-anchor="middle">2010</text>
<text x="142.8" y="672.8" class="tk" text-anchor="middle">2020</text>
<text x="89.5" y="683.3" class="st" text-anchor="middle" xml:space="preserve">mean=0.003    std=0.028</text>
<text transform="translate(15.7 636.6) rotate(-90)" class="yl" text-anchor="middle">YPO (mas)</text>
<path stroke="#777" stroke-width="1.3" d="M160.3 636.2H276.1"/>
<path fill="#0000ff" d="M166.3 617.6 167.3 616.2 168.3 617.9 169.3 618.3 170.3 617.9 171.3 618.4 172.3 618.3 173.3 618.7 174.3 618.7 175.3 618.2 176.3 619.2 177.3 618.9 178.3 618.5 179.3 619.4 180.3 618.8 181.3 618.8 182.3 619.2 183.3 618 184.3 619.9 185.3 619.8 186.3 618.2 187.3 619.7 188.3 618.7 189.3 619.3 190.3 620.2 191.3 620.4 192.3 620.3 193.3 619.1 194.3 620.5 195.3 620.7 196.3 621.6 197.3 621.4 198.3 621.7 199.3 622.6 200.3 622.6 201.3 622.3 202.3 623.9 203.3 623.6 204.3 624.6 205.3 624.8 206.3 624.3 207.3 625.1 208.3 625.2 209.3 625 210.3 625 211.3 624.9 212.3 624.5 213.3 625.2 214.3 624.9 215.3 624.1 216.3 624.7 217.3 625.2 218.3 625.3 219.3 624.8 220.3 624.8 221.3 624.5 222.3 624.7 223.3 625.3 224.3 623.7 225.3 624.9 226.3 624.3 227.3 625.5 228.3 625.1 229.3 625.2 230.3 624.7 231.3 623.9 232.3 624.2 233.3 624.7 234.3 624 235.3 625.1 236.3 624.9 237.3 624.4 238.3 625.5 239.3 625.4 240.3 624.9 241.3 623.4 242.3 624.9 243.3 625.5 244.3 625.4 245.3 624.3 246.3 625.3 247.3 624.6 248.3 625.5 249.3 625.8 250.3 625 251.3 625.7 252.3 625.4 253.3 625.4 254.3 625.8 255.3 624.9 256.3 625.2 257.3 625 258.3 624.2 259.3 625.5 260.3 625.6 261.3 625.8 262.3 625.9 263.3 625.9 264.3 625.7 265.3 625.1 266.3 625.7 267.3 625.3 268.3 625.8 269.3 625.3 270.3 624.9 271.3 626.2 272.3 625.1 273.2 625.9 273.2 645.3 272.3 644.7 271.3 643.9 270.3 644.3 269.3 644.2 268.3 643.8 267.3 643.7 266.3 643.8 265.3 645.3 264.3 644.7 263.3 644.4 262.3 644.9 261.3 643.9 260.3 644.5 259.3 643.9 258.3 644.3 257.3 644 256.3 645.1 255.3 645.2 254.3 645.1 253.3 644 252.3 644.1 251.3 644.2 250.3 644.5 249.3 644.7 248.3 644 247.3 645.8 246.3 644 245.3 644.5 244.3 645.5 243.3 645.3 242.3 645 241.3 644.3 240.3 644.6 239.3 644.4 238.3 644.1 237.3 644 236.3 644.3 235.3 644.2 234.3 644.3 233.3 645.7 232.3 645.1 231.3 645.4 230.3 645 229.3 644.3 228.3 644.4 227.3 644.3 226.3 645 225.3 644.3 224.3 644.2 223.3 644.8 222.3 645.3 221.3 644.9 220.3 644.9 219.3 646.2 218.3 644.4 217.3 644.7 216.3 644.7 215.3 644.9 214.3 644.4 213.3 644.6 212.3 644.9 211.3 645.3 210.3 644.3 209.3 645.5 208.3 645.4 207.3 644.7 206.3 645.6 205.3 644.4 204.3 645.1 203.3 645.3 202.3 645 201.3 645 200.3 645.2 199.3 646.4 198.3 646.3 197.3 646.2 196.3 646.2 195.3 646.8 194.3 646.8 193.3 646.9 192.3 647.6 191.3 647.7 190.3 648.2 189.3 648 188.3 647.2 187.3 647.2 186.3 648.1 185.3 647.2 184.3 647.8 183.3 647.9 182.3 647.6 181.3 648.3 180.3 648.5 179.3 648.7 178.3 648.2 177.3 648.6 176.3 648.2 175.3 648.3 174.3 649 173.3 648.7 172.3 650 171.3 648.9 170.3 649.2 169.3 649.3 168.3 650.3 167.3 649.2 166.3 649.9Z"/>
<path fill="none" stroke="#fff" stroke-opacity=".6" stroke-width="1.5" stroke-linecap="round" d="M181.1 619.9h0M180.5 619.9h0M192.2 623.3h0M192.1 647.2h0M202 626.6h0M201.4 644.2h0M203.2 625.9h0M206.8 626.2h0M221 643.5h0M221.7 626.3h0M221.6 644.4h0M222.6 642.9h0M225.3 626.3h0M227.4 642.5h0M229.3 626.3h0M230.4 644.5h0M233 625.9h0M237.8 626.7h0M243.8 626.9h0M244.3 627.6h0M245.1 644.6h0M250.7 629.6h0M266.1 644.6h0M270.3 628.9h0"/>
<path fill="none" stroke="#0000ff" stroke-width="2.1" stroke-linecap="round" d="M168 648.2V650.1M169.6 648.3V658M171.6 619.4V614.2M172.7 619.3V617M174.6 648V650.2M175.4 619.2V614.2M176.4 620.2V616.7M178.1 647.6V651.9M187.3 619.2V614.2M188 620.7V614.2M187.4 646.2V657.2M188.8 619.7V614.2M188.6 646.2V649.6M196.9 622.6V614.2M197.8 622.4V614.2M197.8 645.2V647.2M200.3 623.6V620.9M200.3 645.4V651.1M201.2 623.6V618.4M202.3 624.9V622.1M203 644V645.9M203.5 624.6V621M211.2 643.3V648.7M212.3 625.9V623.2M216.8 643.7V647.7M217.3 626.2V621.5M220.2 625.8V614.2M226 643.3V647.2M228.8 626.1V620.1M230.1 643.3V649.2M232.4 625.2V621.2M239 643.1V655.1M240.1 626.4V620M242.1 624.4V621.4M243.9 626.5V618.3M244.9 626.4V615.9M246.6 643V648.4M251.5 643.2V647M252.4 626.4V623.1M255 626.8V623.2M262.3 643.9V650.9M268.9 642.8V651.8"/>
<path fill="none" stroke="#0000ff" stroke-width="2.5" stroke-linecap="round" d="M166.7 616.8h0M167 616h0M168.1 651.1h0M168 656.2h0M169.9 617.8h0M169.4 652.7h0M170.7 617.4h0M172 651.2h0M171.8 651.7h0M173.6 648.9h0M174.8 650.1h0M174.6 651.1h0M175.5 648.7h0M177.2 650.4h0M178.7 616.7h0M180.1 614.5h0M180.6 649.7h0M181.7 617.6h0M181.9 615h0M181.6 649.3h0M182.5 650.5h0M184.1 648.8h0M185.8 619.6h0M187.1 617.8h0M187.3 616.9h0M187.3 616h0M188.2 617.9h0M188.4 617.3h0M190.1 650.2h0M190.3 620.2h0M190.7 619.8h0M190.9 650.9h0M195.1 620h0M194.3 618.9h0M196.9 649.1h0M196.5 657h0M197.8 651.3h0M197.5 653.3h0M199.7 616.1h0M200.1 647.2h0M200.1 649.6h0M201.1 614.7h0M200.7 645.4h0M201.4 618.6h0M202.6 619.2h0M203.7 647.3h0M206 624.7h0M205.5 623.5h0M205.6 645.6h0M207.3 619.9h0M206.4 616.4h0M208.1 649.3h0M208.8 624.3h0M209.3 625.1h0M208.3 621.6h0M208.5 648.3h0M209.9 619.6h0M209.3 645.6h0M210 645.5h0M209.5 649.2h0M209.4 649.2h0M210.7 621.1h0M210.6 620h0M211.1 645.8h0M211.9 650h0M213.3 625h0M215 645.1h0M214.8 653.2h0M216 646.7h0M215.9 649.2h0M216.4 645.5h0M218 624.3h0M218 624.2h0M217.5 619.5h0M218 651h0M218.9 647.3h0M220.1 646.3h0M220.6 650.8h0M224 647.5h0M223.6 654.4h0M226.7 624.1h0M227.6 624.7h0M228.7 617.5h0M228.4 644.6h0M228.5 646.3h0M230.1 617.6h0M229.7 645.2h0M230.4 624h0M230.8 646.7h0M232.1 622.9h0M231.5 621h0M231.7 647.4h0M232.5 657.9h0M234.2 624.6h0M233.9 618.2h0M234.6 616h0M236.8 622.1h0M236.6 645.1h0M237 652.3h0M238.1 644.7h0M238.8 657.2h0M239.4 619.1h0M240.1 645.2h0M239.9 650.8h0M240.9 652.8h0M242.1 621.8h0M241.8 645.1h0M242.6 645.7h0M243.5 624.1h0M245.3 622.8h0M249 625h0M248.6 623.6h0M248.8 621.9h0M249.2 618.7h0M250.9 646.2h0M251.5 622.7h0M251.8 648.6h0M252.5 623.7h0M252.6 644.5h0M252.8 645.2h0M253.6 620.4h0M254 615.4h0M253.4 648.5h0M254.7 625.3h0M254.5 646h0M256 647.5h0M257 623.5h0M257.1 620.3h0M258.3 624.2h0M258.2 623.3h0M258.4 623.8h0M259.1 622.4h0M258.4 649.9h0M258.9 656.2h0M260 619h0M261 623h0M260.8 619.9h0M262 644.7h0M262.5 616.5h0M262.8 646.1h0M262.3 648h0M262.4 650.2h0M262.5 651.7h0M263.9 623.1h0M264 618.1h0M263.6 645.1h0M266.7 623.3h0M266.3 622.4h0M267.3 644.8h0M268.6 620h0M269.1 647.2h0M269.5 645.6h0M270.7 623.5h0M270.3 621.9h0M270.5 614.2h0M270.7 647.8h0M272.1 625.2h0M271.8 625h0M272.4 623.3h0M273.1 646.4h0M272.7 647.3h0"/>
<path stroke="#000" stroke-opacity="0.22" stroke-width="1.4" d="M165.3 636.2H274.2"/>
<rect x="160.3" y="613.2" width="115.8" height="45.8" fill="none" stroke="#a0a0a0" stroke-width="1.1"/>
<text x="156.5" y="617.3" class="tk" text-anchor="end">1</text>
<text x="156.5" y="640.1" class="tk" text-anchor="end">0</text>
<text x="156.5" y="663.4" class="tk" text-anchor="end">-1</text>
<text x="194.3" y="672.8" class="tk" text-anchor="middle">2000</text>
<text x="232.9" y="672.8" class="tk" text-anchor="middle">2010</text>
<text x="271.5" y="672.8" class="tk" text-anchor="middle">2020</text>
<text x="218.2" y="682.9" class="st" text-anchor="middle">mean=0.015 std=0.247</text>
<path stroke="#777" stroke-width="1.3" d="M291.1 636.3H406.4"/>
<path fill="#0000ff" d="M291.1 614 292.1 614 293.1 614 294.1 614.7 295.1 615.1 296.1 614.9 297.1 615.2 298.1 614.4 299.1 616 300.1 615.8 301.1 618.8 302.1 623.4 303.1 626.7 304.1 627.2 305.1 626.5 306.1 627.5 307.1 626.5 308.1 627.1 309.1 627.6 310.1 626.8 311.1 627.4 312.1 627.6 313.1 627.3 314.1 627.6 315.1 628.4 316.1 627.7 317.1 628.2 318.1 628.6 319.1 628.5 320.1 628.3 321.1 627.4 322.1 628.9 323.1 628.4 324.1 628 325.1 628 326.1 628.9 327.1 628 328.1 629 329.1 629.2 330.1 627.1 331.1 628.2 332.1 628.7 333.1 628.8 334.1 629.5 335.1 629.6 336.1 627.8 337.1 628.5 338.1 628.4 339.1 629.3 340.1 629.6 341.1 629.2 342.1 630.1 343.1 629.6 344.1 629.1 345.1 628.4 346.1 629.9 347.1 630.5 348.1 630.3 349.1 627.8 350.1 630.4 351.1 629.9 352.1 628.7 353.1 629.5 354.1 630.6 355.1 629.4 356.1 628.6 357.1 630.7 358.1 630.5 359.1 629.5 360.1 630.8 361.1 629.7 362.1 630.4 363.1 631 364.1 630.2 365.1 628.7 366.1 630.8 367.1 629.9 368.1 631.1 369.1 630.9 370.1 630.2 371.1 630.1 372.1 628.8 373.1 628.8 374.1 631 375.1 630.7 376.1 631.1 377.1 631.3 378.1 631.2 379.1 630.1 380.1 630.6 381.1 629.6 382.1 630.4 383.1 630.4 384.1 630 385.1 631.2 386.1 631.3 387.1 631.3 388.1 631 389.1 631.4 390.1 631.1 391.1 631.3 392.1 631.3 393.1 631.3 394.1 631.6 395.1 630.4 396.1 631.6 397.1 630.7 398.1 631.6 399.1 630.3 400.1 630.4 401.1 630 402.1 631 403.1 630 404.1 631.4 405.1 630.8 405.8 631.6 405.8 642.5 405.1 642.5 404.1 641.7 403.1 642.4 402.1 643.1 401.1 641.9 400.1 642.8 399.1 641.7 398.1 641.9 397.1 642.1 396.1 642.2 395.1 642.8 394.1 641.8 393.1 643 392.1 642.3 391.1 641.8 390.1 642.5 389.1 642.5 388.1 642.6 387.1 642.9 386.1 642.7 385.1 642.3 384.1 642 383.1 643.5 382.1 642.6 381.1 642.7 380.1 642.5 379.1 643.3 378.1 642.1 377.1 641.9 376.1 642.1 375.1 641.9 374.1 642.6 373.1 641.9 372.1 641.9 371.1 643 370.1 642.3 369.1 642.5 368.1 642.3 367.1 641.9 366.1 642.6 365.1 643.7 364.1 643 363.1 642.8 362.1 642.7 361.1 642.4 360.1 642.5 359.1 643.6 358.1 644.1 357.1 642.8 356.1 643.8 355.1 642 354.1 643 353.1 643.3 352.1 642.6 351.1 643 350.1 642.4 349.1 642.5 348.1 643.6 347.1 642.4 346.1 642.4 345.1 642.6 344.1 643.1 343.1 643.2 342.1 643.3 341.1 642.9 340.1 642 339.1 642.3 338.1 642.1 337.1 642.5 336.1 642.6 335.1 642.5 334.1 642.7 333.1 642.5 332.1 642.8 331.1 642.6 330.1 642.6 329.1 643.8 328.1 642.3 327.1 642.7 326.1 642.5 325.1 643.5 324.1 642.5 323.1 644.1 322.1 643.7 321.1 642.7 320.1 642.7 319.1 643.9 318.1 644.6 317.1 642.7 316.1 643.7 315.1 643.4 314.1 642.8 313.1 643 312.1 643.6 311.1 643.8 310.1 644 309.1 642.9 308.1 643.6 307.1 643.6 306.1 643.4 305.1 643.3 304.1 643.8 303.1 644.9 302.1 646.7 301.1 649 300.1 653.5 299.1 653.6 298.1 654.3 297.1 654 296.1 653.9 295.1 653.7 294.1 654.4 293.1 654.3 292.1 654.6 291.1 654.3Z"/>
<path fill="none" stroke="#fff" stroke-opacity=".6" stroke-width="1.5" stroke-linecap="round" d="M293.8 615.1h0M302.7 624.7h0M306.8 630.2h0M308.7 629.5h0M309.8 629.8h0M319.1 629.8h0M321.6 640h0M324.6 641.4h0M328.2 631.9h0M330 631.7h0M337 629h0M339.2 639.5h0M342.3 635.5h0M342.6 640.6h0M346.2 631.1h0M348 632.1h0M349.6 631.4h0M351.9 632h0M354.3 634.1h0M359 632h0M362.7 637.5h0M365.9 642.3h0M367.7 633.6h0M369.1 632.1h0M370.1 640.2h0M372.8 638.8h0M375.9 632.2h0M375.7 640.8h0M377.5 633h0M381.6 631.3h0M385.2 641.3h0M389.4 634.9h0M389.1 641.2h0M398.6 633.1h0M400 631.8h0M400.9 639.9h0M401.2 640.7h0"/>
<path fill="none" stroke="#0000ff" stroke-width="2.4" stroke-linecap="round" d="M291.4 656.3h0M291.4 656.9h0M292.7 656.3h0M294 656.7h0M294.7 614.2h0M294.8 658.3h0M295.1 614.3h0M295.2 614.2h0M295.2 656h0M295.6 658.5h0M297.1 654.8h0M297.9 657.9h0M298.2 655.2h0M299.6 655h0M299.3 655.6h0M301.2 649.8h0M301.6 653.3h0M302.7 649.8h0M302.9 653.7h0M303.1 624.7h0M303.2 620.9h0M303.9 617.7h0M303.9 646.3h0M303.6 648.1h0M304.7 623.6h0M304.9 619.8h0M304.6 619h0M304.7 644h0M304.1 647.2h0M304.4 651.2h0M304.3 655.6h0M305.4 658.4h0M306.5 627h0M306.6 651.4h0M308.1 644.3h0M307.3 645.5h0M307.3 645.4h0M308.3 618.6h0M308.4 650.7h0M310.1 624.8h0M309.6 620.4h0M309.6 645.7h0M309.2 654h0M310.4 625.9h0M310.4 649.8h0M311.4 623.9h0M312.4 649h0M312.5 655.6h0M313.2 625.7h0M313.6 623h0M313.7 622.2h0M313.5 620.4h0M315 626.1h0M314.6 626.3h0M314.7 656.5h0M315.7 628.3h0M316.1 628.1h0M316 626.1h0M315.7 623.1h0M315.9 622h0M315.1 643.9h0M316.4 624.7h0M317 618.9h0M318.1 628.4h0M318.3 622.4h0M318.4 649.1h0M319.7 623.1h0M320 646.9h0M320.2 621.5h0M320.3 618.3h0M320.2 617.7h0M320.4 644.2h0M320.4 649.7h0M320.3 652.6h0M321.2 625h0M321.9 624.7h0M321.7 625.3h0M321.7 623h0M321.5 644.4h0M322.9 618.3h0M322.1 644h0M322.8 644.8h0M322.3 646.8h0M322.2 657.3h0M322.3 658.4h0M323.2 628h0M324.1 627.8h0M323.3 622.6h0M323.3 620h0M324 620.4h0M323.8 647h0M324.5 645.5h0M324.9 656.3h0M325.9 626.2h0M326.2 620.8h0M326.9 618.3h0M326.6 645.5h0M327.6 623.8h0M327.5 621.2h0M327.3 621.2h0M327.7 645.9h0M328.2 642.8h0M330 628.8h0M329.5 643.9h0M329.5 645.9h0M330.7 624.6h0M330.7 622.9h0M330.3 643.8h0M330.9 645h0M330.7 650.5h0M331.8 627.9h0M331.7 625.4h0M331.9 625.7h0M331.7 618.2h0M331.7 644h0M332 646.5h0M331.5 646.6h0M331.4 651.7h0M332.6 628.6h0M332.7 626.3h0M332.7 622.4h0M332.5 620.9h0M333.8 628h0M333.7 627h0M334.6 620.6h0M336.1 625.7h0M336 615.6h0M335.4 645.4h0M336.3 621.6h0M336.6 646.2h0M337.6 624h0M338.1 617.9h0M337.6 645.9h0M337.5 652h0M337.8 652.9h0M337.3 654.3h0M338.5 626.1h0M339 645.5h0M338.3 651.8h0M339.6 626.8h0M339.4 642.4h0M340 642.5h0M339.5 647.2h0M341 625.7h0M341 655.1h0M341.9 628.2h0M341.3 624.8h0M342.1 646.7h0M343.1 626.3h0M342.3 647.8h0M343.9 628.1h0M343.3 622.7h0M344.1 621.7h0M343.8 647h0M344.7 627.3h0M344.8 627.6h0M344.2 626.9h0M345.1 626h0M344.7 615.4h0M344.2 645.7h0M344.5 649.1h0M346 627.8h0M345.1 627.2h0M345.5 615.6h0M345.4 645h0M345.8 649h0M346.5 629.4h0M347.7 627.2h0M347.8 645.2h0M347.2 653.8h0M348.2 629.7h0M349.9 626.8h0M349.8 620.6h0M350 644.6h0M349.1 652.9h0M350.1 654.8h0M351 629h0M350.3 625.9h0M351.2 628.7h0M351.3 622.5h0M351.9 621.8h0M351.6 644.2h0M351.7 652.4h0M352.3 623.1h0M352.3 657h0M353.8 619.5h0M354.6 629.5h0M354.5 627.1h0M354.4 626.8h0M354.4 619.3h0M354.8 643.8h0M354.7 644.9h0M354.3 655.5h0M356 621.1h0M355.5 614.9h0M355.5 651.1h0M356.7 625.9h0M356.9 619.6h0M356.7 619.3h0M356.9 644.1h0M357.1 651.8h0M357.4 629.2h0M358 644.7h0M357.9 648.2h0M357.7 649.1h0M357.7 650.2h0M357.4 655.1h0M359 629.8h0M358.4 619.6h0M358.8 616.5h0M358.2 644.7h0M358.5 646.7h0M358.3 648.5h0M359.4 625.6h0M360.6 630.5h0M360.8 621.2h0M360.5 618.2h0M361.9 620.5h0M362 643.6h0M361.4 644.8h0M362.1 645h0M361.1 645.5h0M362.8 651.3h0M363.8 628.8h0M363.5 644.4h0M363.5 644.7h0M363.8 645.6h0M363.7 646.9h0M364.4 629.6h0M364.2 629.2h0M364.8 621.4h0M364.1 643.3h0M365.3 617h0M365.8 614.1h0M365.6 645.7h0M366.5 630.6h0M366.6 628.8h0M366.1 645.7h0M368 629.3h0M367.8 628.8h0M367.9 625.6h0M367.4 655.2h0M368.2 629.5h0M368.4 628.2h0M369 625.4h0M368.1 617.8h0M368.4 614.3h0M368.2 643.1h0M369.6 630.6h0M369.8 630.3h0M369.7 625.4h0M369.3 644.3h0M369.8 649.3h0M370.7 630h0M371 627.8h0M370.6 626.9h0M370.4 617h0M371.1 643.1h0M370.5 645.7h0M371.9 614.1h0M371.2 647.4h0M372.1 627.7h0M373.1 627.3h0M372.9 626.4h0M372.2 644.7h0M373.5 627.9h0M373.3 626.3h0M374.1 625.8h0M373.2 621.7h0M373.2 614.5h0M373.5 642.7h0M373.2 644.8h0M374.6 629.4h0M374.4 624.5h0M374.5 642.9h0M374.8 642.8h0M374.6 653.4h0M375.2 629.7h0M375.2 628.6h0M375.4 649.4h0M375.2 658.4h0M377.1 631.1h0M376.2 615h0M377.8 629.1h0M377.5 644.4h0M377.6 653.6h0M378 655.9h0M378.7 628.6h0M378.2 622.8h0M379 642.6h0M379 642.4h0M379.5 629.2h0M379.4 644.8h0M379.4 646.2h0M379.6 646.4h0M380 649.8h0M380.4 630.1h0M380.7 648.4h0M380.5 651.4h0M381.5 649.4h0M381.5 652.9h0M382.1 629.7h0M382.8 648.5h0M383.2 627.7h0M383.2 628h0M383.4 614.5h0M383.8 649.6h0M383.3 649.9h0M384 655h0M383.8 657.8h0M385.9 630.3h0M385.5 628.9h0M385.5 654.6h0M386.2 646.1h0M386.3 646.9h0M386.9 654.8h0M386.9 656.1h0M388 630.5h0M387.1 629.7h0M387.7 644.7h0M388 658.5h0M388.8 626.5h0M388.3 618.4h0M388.3 644.1h0M388.4 650.3h0M389.7 616.9h0M389.7 645.5h0M390.1 647h0M389.5 652.6h0M390.7 630.6h0M390.8 628.6h0M390.4 619.5h0M390.6 647.4h0M391.4 626.3h0M391.9 658.2h0M392.6 627.3h0M392.5 626.5h0M392.2 624.1h0M392.5 646.8h0M393.4 625.4h0M393.1 624.9h0M393.1 618.8h0M393.9 644.1h0M393.1 646.3h0M393.2 656.6h0M394.3 627.1h0M394.9 642.2h0M395 642.8h0M394.9 642.3h0M394.4 653h0M395.3 630h0M395.4 619.8h0M396.6 630.7h0M397 629.5h0M397 624.2h0M396.6 617h0M396.2 644.4h0M396.3 656.3h0M397.3 623h0M397.7 647.2h0M398.4 624.7h0M399.4 629.3h0M400.1 619.2h0M400.3 619.5h0M401.9 642.9h0M402.1 643h0M402.5 643.6h0M402.6 645.3h0M403.3 629.4h0M403.9 626.6h0M403.5 625.4h0M403.3 620.4h0M404 645h0M404.9 625.6h0M404.6 626.1h0M404.9 623.5h0M404.5 642.4h0M404.6 642.9h0M404.5 644.6h0M406.1 643.9h0M405.3 647.1h0M405.6 647.8h0M405.3 649.9h0M405.2 651.5h0M406.1 656.2h0"/>
<path stroke="#000" stroke-opacity="0.22" stroke-width="1.4" d="M290.1 636.3H406.8"/>
<rect x="291.1" y="613" width="115.3" height="46.5" fill="none" stroke="#a0a0a0" stroke-width="1.1"/>
<text x="287.3" y="617.1" class="tk" text-anchor="end">1</text>
<text x="287.3" y="640.2" class="tk" text-anchor="end">0</text>
<text x="287.3" y="663.9" class="tk" text-anchor="end">-1</text>
<text x="325.1" y="673.3" class="tk" text-anchor="middle">2000</text>
<text x="363.7" y="673.3" class="tk" text-anchor="middle">2010</text>
<text x="402.3" y="673.3" class="tk" text-anchor="middle">2020</text>
<text x="348.8" y="682.6" class="st" text-anchor="middle" xml:space="preserve">mean= − 0.040    std=0.579</text>
<path stroke="#777" stroke-width="1.3" d="M421.6 636.3H537.8"/>
<path fill="#0000ff" d="M427.6 613.5 428.6 613.7 429.6 613.4 430.6 613.4 431.6 613.4 432.6 613.4 433.6 613.8 434.6 613.4 435.6 613.6 436.6 613.4 437.6 613.4 438.6 613.4 439.6 613.4 440.6 613.4 441.6 613.4 442.6 613.4 443.6 613.7 444.6 613.6 445.6 613.6 446.6 613.6 447.6 613.5 448.6 613.4 449.6 613.4 450.6 613.7 451.6 613.4 452.6 613.4 453.6 613.4 454.6 613.4 455.6 613.4 456.6 613.4 457.6 613.4 458.6 613.4 459.6 613.4 460.6 613.4 461.6 613.4 462.6 613.5 463.6 613.4 464.6 613.4 465.6 614.4 466.6 613.4 467.6 613.4 468.6 614.6 469.6 615.8 470.6 616.3 471.6 616 472.6 616.5 473.6 617.9 474.6 616.8 475.6 619.4 476.6 620.4 477.6 619.4 478.6 621.3 479.6 621.9 480.6 623 481.6 621 482.6 623.2 483.6 622.7 484.6 623.7 485.6 622.8 486.6 623.7 487.6 622.5 488.6 623.4 489.6 623.6 490.6 624.4 491.6 623.5 492.6 622.4 493.6 623.7 494.6 624.3 495.6 624.3 496.6 624.6 497.6 623.6 498.6 623 499.6 623.7 500.6 623.7 501.6 623.8 502.6 623 503.6 624.4 504.6 623 505.6 623.3 506.6 623 507.6 624.2 508.6 623.4 509.6 623.5 510.6 623.6 511.6 624.4 512.6 623.4 513.6 624 514.6 622.8 515.6 623.2 516.6 624.1 517.6 623.7 518.6 624.6 519.6 624.5 520.6 624.5 521.6 623.3 522.6 624.2 523.6 624.4 524.6 624.1 525.6 624.4 526.6 624.2 527.6 624.1 528.6 623.8 529.6 623.4 530.6 624.4 531.6 624.4 532.6 624.3 533.6 623.5 534.6 623.9 535.6 624 536.6 624.5 537 623.4 537 646.3 536.6 645.5 535.6 645.6 534.6 645.3 533.6 645.8 532.6 645.1 531.6 646.1 530.6 645.9 529.6 645.5 528.6 645.4 527.6 645.3 526.6 645.6 525.6 645.2 524.6 645.3 523.6 646.7 522.6 645.3 521.6 646 520.6 645.6 519.6 645.2 518.6 646.1 517.6 647.1 516.6 646.3 515.6 645.9 514.6 645.2 513.6 645.9 512.6 647.4 511.6 647.5 510.6 645.3 509.6 645.4 508.6 645.2 507.6 645.1 506.6 647.2 505.6 645.9 504.6 645.7 503.6 645.3 502.6 645.3 501.6 647.4 500.6 647.5 499.6 647.2 498.6 646.5 497.6 645.2 496.6 645.9 495.6 646 494.6 646.3 493.6 645.4 492.6 645.6 491.6 645.9 490.6 646.4 489.6 646.2 488.6 647.3 487.6 648.1 486.6 647.7 485.6 646.2 484.6 646 483.6 647.1 482.6 646.5 481.6 646.7 480.6 646.7 479.6 647.3 478.6 649 477.6 648.9 476.6 648.9 475.6 650 474.6 650.3 473.6 650.8 472.6 652.2 471.6 651.4 470.6 652.7 469.6 653.4 468.6 654.1 467.6 654.9 466.6 655.6 465.6 655.9 464.6 657 463.6 656.4 462.6 657.6 461.6 658.5 460.6 658.2 459.6 657.7 458.6 657.8 457.6 658.5 456.6 657.6 455.6 657.7 454.6 658.4 453.6 657.6 452.6 658.1 451.6 658.2 450.6 658.5 449.6 658.1 448.6 658.5 447.6 658.5 446.6 658.5 445.6 658.5 444.6 657.9 443.6 658.5 442.6 658.2 441.6 658.3 440.6 658 439.6 658.5 438.6 658.5 437.6 658.5 436.6 658.5 435.6 658.5 434.6 658.5 433.6 658.5 432.6 658.5 431.6 658.5 430.6 658.5 429.6 658.3 428.6 658.3 427.6 658.5Z"/>
<path fill="none" stroke="#fff" stroke-opacity=".6" stroke-width="1.5" stroke-linecap="round" d="M428.2 615.4h0M428.1 615.5h0M429.3 648.5h0M429.5 651.7h0M430 617.2h0M431.1 615.8h0M431.3 648.8h0M433.3 658.4h0M434.5 627.3h0M435.1 614.8h0M435.1 658h0M435 658.1h0M436.6 653.1h0M436.5 657.5h0M437.8 616.5h0M437.8 652.1h0M438.1 654.2h0M438.6 652.7h0M438.7 657.3h0M441.3 616h0M441.8 617.5h0M442.2 655.7h0M444.6 648.3h0M445 651.6h0M446.4 654.2h0M446.8 617.2h0M447.3 616.9h0M449.3 616.9h0M451.8 631.5h0M452.9 653h0M453.8 653.4h0M455.3 614.9h0M455.2 652.6h0M455.3 656.4h0M457.6 647.9h0M458.1 656.1h0M458.6 657h0M459.7 614.7h0M459.8 650.7h0M462.2 614.5h0M464.6 614.9h0M464.4 645.6h0M463.9 655.4h0M465 655.6h0M466.1 617.3h0M473.9 644.7h0M475.1 641.7h0M475 648.4h0M476.1 646.7h0M478.5 646.3h0M481.3 642.8h0M482.6 645.8h0M483.5 625.8h0M486.4 642.9h0M490.3 629.8h0M490.3 634.7h0M495.8 626.8h0M503.5 624.6h0M503 626.3h0M503.4 642h0M505 624.7h0M505.6 644.5h0M505.8 625.6h0M506.8 624.2h0M507.9 628.9h0M508.2 640.4h0M510.8 626.1h0M515.4 643.7h0M516.9 626.7h0M520.2 639.7h0M521.1 626.1h0M528.1 625.3h0M528.6 644.1h0M534.6 631.6h0"/>
<path fill="none" stroke="#0000ff" stroke-width="1.6" stroke-linecap="round" d="M454 656.6V658.2M457 656.6V658.5M474.7 617.8V613.4M475.5 649.3V651.2M475.7 649V652.4M479.3 648V658.5M482.5 622V618.5M483.6 624.2V618.5M483.2 645.5V647.8M487.8 623.5V618.9M489.6 624.4V618.3M488.7 646.3V648.3M490.9 625.4V622M492.2 644.9V648.2M494 624.7V620.4M498.6 645.5V650.1M500.2 646.2V656.7M503.6 644.3V650.6M511.5 644.3V645.9M515.5 644.2V648.3M517.1 645.3V647.7M522.4 645V647.3M523 625.2V620.1M522.7 644.3V650M524.6 644.3V650.1M530.2 644.5V655.3M534.3 644.8V646.9"/>
<path fill="none" stroke="#0000ff" stroke-width="2.5" stroke-linecap="round" d="M445.1 658.3h0M453 658.4h0M459.5 613.7h0M463 657.9h0M464 656.6h0M463.8 658.3h0M466.2 657.2h0M468.3 658.1h0M469 655h0M469.7 654.9h0M472.6 654.7h0M473.3 616.5h0M476.1 651.1h0M477.5 620.3h0M479.2 650h0M479.6 647.8h0M480.6 647.7h0M482.8 646.5h0M484.7 623h0M488.3 617h0M488.5 657h0M491.7 655.2h0M493 646.3h0M495 616.8h0M495.3 651.2h0M496.6 647.3h0M497 648h0M499.9 650.7h0M500.7 648.6h0M502.6 648.9h0M506.1 621h0M506.1 646.3h0M507.5 622.2h0M508.5 622.3h0M509.4 617.2h0M510.3 621.8h0M513.1 620.6h0M513 648.2h0M514.6 623.2h0M514.2 621.2h0M515 646.9h0M516.2 623h0M516.7 623.2h0M518.4 650.3h0M519.2 618.1h0M524.3 623.2h0M524 621.1h0M528.8 621.5h0M529 645.8h0M530.9 621.5h0M533.7 621.3h0"/>
<path stroke="#000" stroke-opacity="0.22" stroke-width="1.4" d="M426.6 636.3H538"/>
<rect x="421.6" y="612.4" width="116.2" height="47.1" fill="none" stroke="#a0a0a0" stroke-width="1.1"/>
<text x="417.8" y="616.5" class="tk" text-anchor="end">1</text>
<text x="417.8" y="640.2" class="tk" text-anchor="end">0</text>
<text x="417.8" y="663.9" class="tk" text-anchor="end">-1</text>
<text x="455.6" y="673.3" class="tk" text-anchor="middle">2000</text>
<text x="494.2" y="673.3" class="tk" text-anchor="middle">2010</text>
<text x="532.8" y="673.3" class="tk" text-anchor="middle">2020</text>
<text x="479.7" y="682.2" class="st" text-anchor="middle" xml:space="preserve">mean=0.054    std=0.395</text>
</svg>
</body></html>
